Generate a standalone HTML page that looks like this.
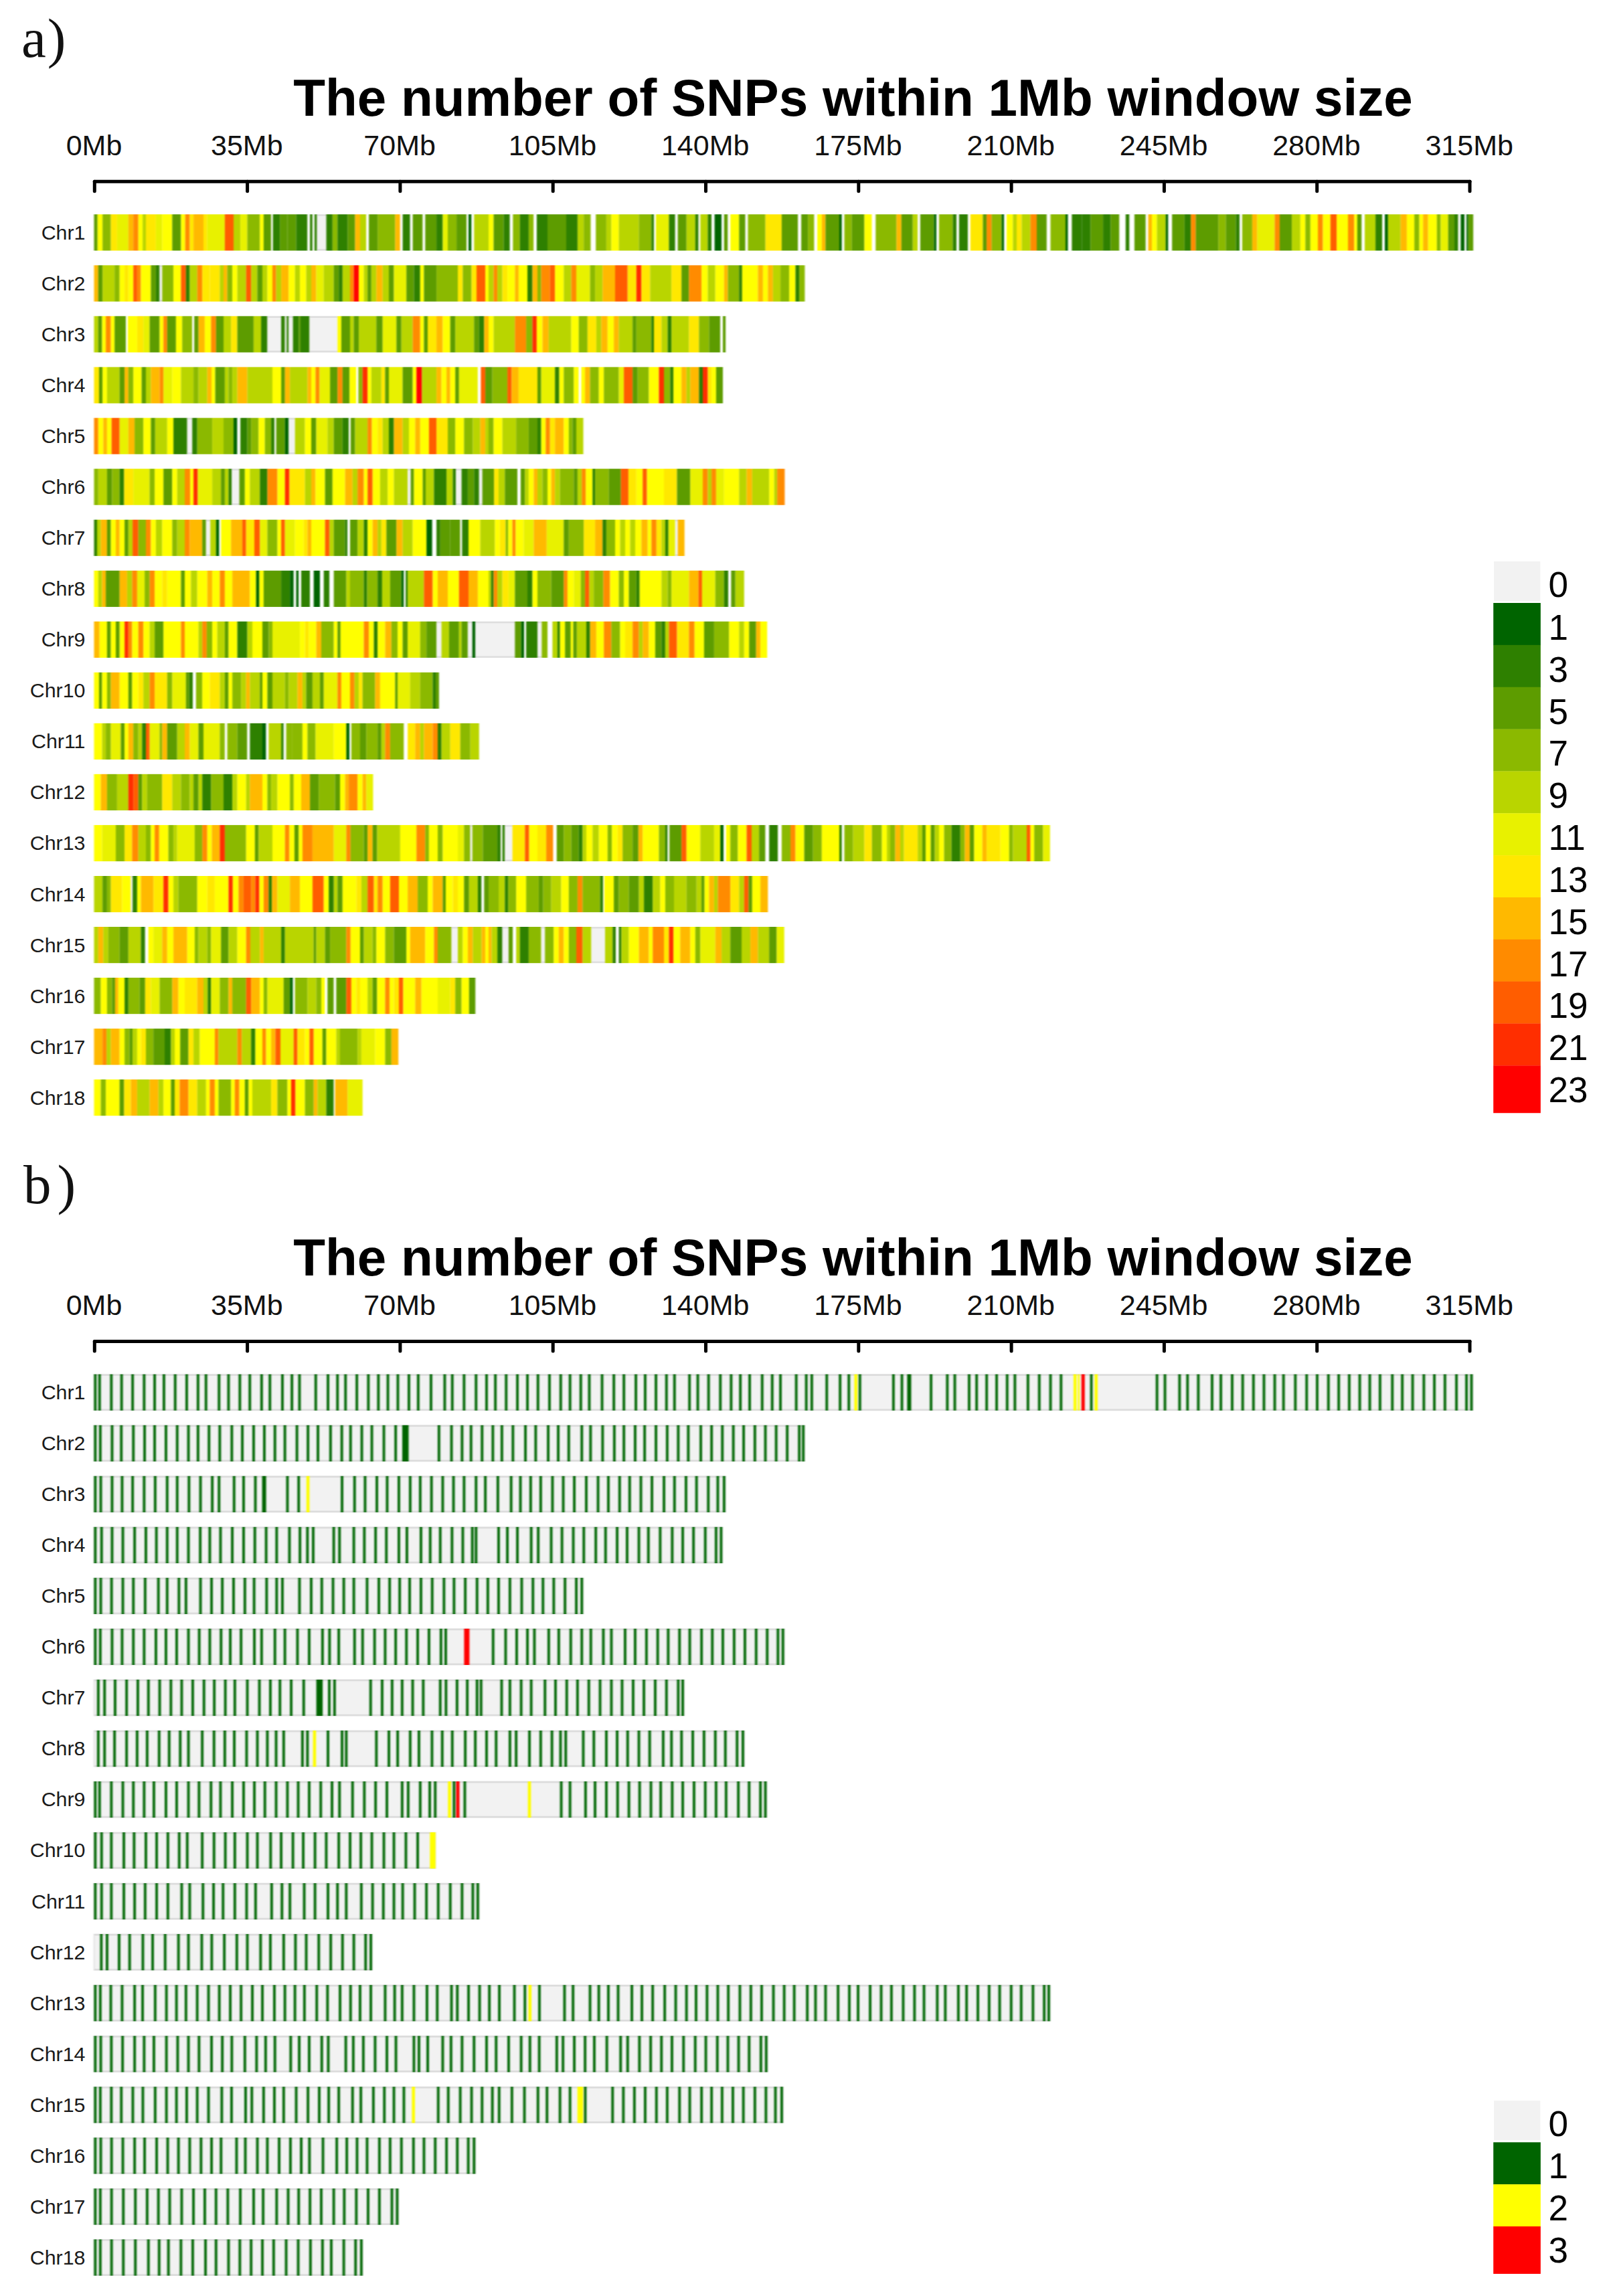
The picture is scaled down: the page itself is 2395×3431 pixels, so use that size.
<!DOCTYPE html>
<html><head><meta charset="utf-8"><title>SNP density</title>
<style>
html,body{margin:0;padding:0;background:#fff}
svg{display:block}
.t{font-family:"Liberation Sans",sans-serif;font-weight:bold;font-size:78.2px;text-anchor:middle;fill:#000}
.ax{font-family:"Liberation Sans",sans-serif;font-size:43px;text-anchor:middle;fill:#111}
.ch{font-family:"Liberation Sans",sans-serif;font-size:30.4px;text-anchor:end;fill:#1a1a1a}
.lg{font-family:"Liberation Sans",sans-serif;font-size:53px;fill:#000}
.pl{font-family:"Liberation Serif",serif;font-size:83px;fill:#111}
</style></head><body>
<svg width="2395" height="3431" viewBox="0 0 2395 3431">
<rect width="2395" height="3431" fill="#fff"/>
<defs><filter id="bl" x="-1%" y="-1%" width="102%" height="102%" color-interpolation-filters="sRGB"><feGaussianBlur stdDeviation="1.1 0.7"/></filter></defs>
<g transform="translate(0,0)">
<text class="pl" x="32" y="84.5" letter-spacing="2">a)</text>
<text class="t" x="1274.5" y="172.8">The number of SNPs within 1Mb window size</text>
<path d="M141.3 271.2H2196.045" stroke="#000" stroke-width="5" stroke-linecap="round" fill="none"/>
<path d="M141.3 271.2V285.8" stroke="#000" stroke-width="5" stroke-linecap="round" fill="none"/>
<text class="ax" x="140.5" y="231.5">0Mb</text>
<path d="M369.6 271.2V285.8" stroke="#000" stroke-width="5" stroke-linecap="round" fill="none"/>
<text class="ax" x="368.8" y="231.5">35Mb</text>
<path d="M597.9 271.2V285.8" stroke="#000" stroke-width="5" stroke-linecap="round" fill="none"/>
<text class="ax" x="597.1" y="231.5">70Mb</text>
<path d="M826.2 271.2V285.8" stroke="#000" stroke-width="5" stroke-linecap="round" fill="none"/>
<text class="ax" x="825.4" y="231.5">105Mb</text>
<path d="M1054.5 271.2V285.8" stroke="#000" stroke-width="5" stroke-linecap="round" fill="none"/>
<text class="ax" x="1053.7" y="231.5">140Mb</text>
<path d="M1282.8 271.2V285.8" stroke="#000" stroke-width="5" stroke-linecap="round" fill="none"/>
<text class="ax" x="1282.0" y="231.5">175Mb</text>
<path d="M1511.1 271.2V285.8" stroke="#000" stroke-width="5" stroke-linecap="round" fill="none"/>
<text class="ax" x="1510.3" y="231.5">210Mb</text>
<path d="M1739.4 271.2V285.8" stroke="#000" stroke-width="5" stroke-linecap="round" fill="none"/>
<text class="ax" x="1738.6" y="231.5">245Mb</text>
<path d="M1967.7 271.2V285.8" stroke="#000" stroke-width="5" stroke-linecap="round" fill="none"/>
<text class="ax" x="1966.9" y="231.5">280Mb</text>
<path d="M2196.0 271.2V285.8" stroke="#000" stroke-width="5" stroke-linecap="round" fill="none"/>
<text class="ax" x="2195.2" y="231.5">315Mb</text>
<text class="ch" x="127.5" y="357.8">Chr1</text>
<text class="ch" x="127.5" y="433.9">Chr2</text>
<text class="ch" x="127.5" y="509.9">Chr3</text>
<text class="ch" x="127.5" y="586.0">Chr4</text>
<text class="ch" x="127.5" y="662.0">Chr5</text>
<text class="ch" x="127.5" y="738.0">Chr6</text>
<text class="ch" x="127.5" y="814.1">Chr7</text>
<text class="ch" x="127.5" y="890.2">Chr8</text>
<text class="ch" x="127.5" y="966.2">Chr9</text>
<text class="ch" x="127.5" y="1042.2">Chr10</text>
<text class="ch" x="127.5" y="1118.3">Chr11</text>
<text class="ch" x="127.5" y="1194.3">Chr12</text>
<text class="ch" x="127.5" y="1270.4">Chr13</text>
<text class="ch" x="127.5" y="1346.5">Chr14</text>
<text class="ch" x="127.5" y="1422.5">Chr15</text>
<text class="ch" x="127.5" y="1498.5">Chr16</text>
<text class="ch" x="127.5" y="1574.6">Chr17</text>
<text class="ch" x="127.5" y="1650.6">Chr18</text>
<g filter="url(#bl)">
<rect x="140.5" y="320.3" width="5.2" height="54.2" fill="#5D9C00"/>
<rect x="145.7" y="320.3" width="7.5" height="54.2" fill="#FFFF00"/>
<rect x="153.2" y="320.3" width="12.4" height="54.2" fill="#8BB900"/>
<rect x="165.6" y="320.3" width="9.3" height="54.2" fill="#FFE800"/>
<rect x="174.9" y="320.3" width="16.9" height="54.2" fill="#E8F100"/>
<rect x="191.8" y="320.3" width="7.4" height="54.2" fill="#FFB900"/>
<rect x="199.2" y="320.3" width="7.5" height="54.2" fill="#FF8B00"/>
<rect x="206.7" y="320.3" width="6.4" height="54.2" fill="#FFFF00"/>
<rect x="213.1" y="320.3" width="4.9" height="54.2" fill="#B9D500"/>
<rect x="218.0" y="320.3" width="14.9" height="54.2" fill="#FFE800"/>
<rect x="232.9" y="320.3" width="9.4" height="54.2" fill="#E8F100"/>
<rect x="242.3" y="320.3" width="15.0" height="54.2" fill="#FFFF00"/>
<rect x="257.3" y="320.3" width="13.1" height="54.2" fill="#5D9C00"/>
<rect x="270.4" y="320.3" width="6.3" height="54.2" fill="#FFFF00"/>
<rect x="276.7" y="320.3" width="6.8" height="54.2" fill="#FF8B00"/>
<rect x="283.5" y="320.3" width="5.6" height="54.2" fill="#FFE800"/>
<rect x="289.1" y="320.3" width="14.9" height="54.2" fill="#FFB900"/>
<rect x="304.0" y="320.3" width="5.7" height="54.2" fill="#FFE800"/>
<rect x="309.7" y="320.3" width="26.2" height="54.2" fill="#E8F100"/>
<rect x="335.9" y="320.3" width="13.1" height="54.2" fill="#FF5D00"/>
<rect x="349.0" y="320.3" width="10.1" height="54.2" fill="#B9D500"/>
<rect x="359.1" y="320.3" width="10.4" height="54.2" fill="#E8F100"/>
<rect x="369.5" y="320.3" width="18.8" height="54.2" fill="#8BB900"/>
<rect x="388.3" y="320.3" width="5.6" height="54.2" fill="#FFFF00"/>
<rect x="393.9" y="320.3" width="11.2" height="54.2" fill="#5D9C00"/>
<rect x="405.1" y="320.3" width="2.6" height="54.2" fill="#FFFFFF"/>
<rect x="407.7" y="320.3" width="10.5" height="54.2" fill="#2E8000"/>
<rect x="418.2" y="320.3" width="11.2" height="54.2" fill="#5D9C00"/>
<rect x="429.4" y="320.3" width="13.1" height="54.2" fill="#5D9C00"/>
<rect x="442.5" y="320.3" width="16.9" height="54.2" fill="#2E8000"/>
<rect x="459.4" y="320.3" width="3.7" height="54.2" fill="#FFFFFF"/>
<rect x="463.1" y="320.3" width="3.8" height="54.2" fill="#2E8000"/>
<rect x="466.9" y="320.3" width="3.0" height="54.2" fill="#FFFFFF"/>
<rect x="469.9" y="320.3" width="3.7" height="54.2" fill="#2E8000"/>
<rect x="473.6" y="320.3" width="13.9" height="54.2" fill="#F2F2F2"/>
<rect x="473.6" y="320.3" width="13.9" height="2.6" fill="#dedede"/>
<rect x="473.6" y="371.9" width="13.9" height="2.6" fill="#dedede"/>
<rect x="487.5" y="320.3" width="9.3" height="54.2" fill="#2E8000"/>
<rect x="496.8" y="320.3" width="7.5" height="54.2" fill="#8BB900"/>
<rect x="504.3" y="320.3" width="15.0" height="54.2" fill="#2E8000"/>
<rect x="519.3" y="320.3" width="11.2" height="54.2" fill="#5D9C00"/>
<rect x="530.5" y="320.3" width="7.5" height="54.2" fill="#FFB900"/>
<rect x="538.0" y="320.3" width="9.3" height="54.2" fill="#B9D500"/>
<rect x="547.3" y="320.3" width="3.8" height="54.2" fill="#FFFFFF"/>
<rect x="551.1" y="320.3" width="13.1" height="54.2" fill="#5D9C00"/>
<rect x="564.2" y="320.3" width="26.2" height="54.2" fill="#8BB900"/>
<rect x="590.4" y="320.3" width="7.5" height="54.2" fill="#FFB900"/>
<rect x="597.9" y="320.3" width="3.7" height="54.2" fill="#FFFFFF"/>
<rect x="601.6" y="320.3" width="11.2" height="54.2" fill="#2E8000"/>
<rect x="612.8" y="320.3" width="3.8" height="54.2" fill="#FFFFFF"/>
<rect x="616.6" y="320.3" width="15.0" height="54.2" fill="#5D9C00"/>
<rect x="631.6" y="320.3" width="3.7" height="54.2" fill="#FFFFFF"/>
<rect x="635.3" y="320.3" width="16.8" height="54.2" fill="#5D9C00"/>
<rect x="652.1" y="320.3" width="9.4" height="54.2" fill="#2E8000"/>
<rect x="661.5" y="320.3" width="7.5" height="54.2" fill="#E8F100"/>
<rect x="669.0" y="320.3" width="13.1" height="54.2" fill="#8BB900"/>
<rect x="682.1" y="320.3" width="15.0" height="54.2" fill="#5D9C00"/>
<rect x="697.1" y="320.3" width="2.9" height="54.2" fill="#FFFFFF"/>
<rect x="700.0" y="320.3" width="4.5" height="54.2" fill="#006400"/>
<rect x="704.5" y="320.3" width="3.8" height="54.2" fill="#FFFFFF"/>
<rect x="708.3" y="320.3" width="21.7" height="54.2" fill="#B9D500"/>
<rect x="730.0" y="320.3" width="7.5" height="54.2" fill="#FFFF00"/>
<rect x="737.5" y="320.3" width="15.0" height="54.2" fill="#5D9C00"/>
<rect x="752.5" y="320.3" width="9.3" height="54.2" fill="#2E8000"/>
<rect x="761.8" y="320.3" width="4.5" height="54.2" fill="#FFFFFF"/>
<rect x="766.3" y="320.3" width="10.5" height="54.2" fill="#8BB900"/>
<rect x="776.8" y="320.3" width="13.1" height="54.2" fill="#2E8000"/>
<rect x="789.9" y="320.3" width="7.5" height="54.2" fill="#8BB900"/>
<rect x="797.4" y="320.3" width="4.5" height="54.2" fill="#FFFFFF"/>
<rect x="801.9" y="320.3" width="16.1" height="54.2" fill="#2E8000"/>
<rect x="818.0" y="320.3" width="28.0" height="54.2" fill="#5D9C00"/>
<rect x="846.0" y="320.3" width="16.9" height="54.2" fill="#2E8000"/>
<rect x="862.9" y="320.3" width="9.3" height="54.2" fill="#B9D500"/>
<rect x="872.2" y="320.3" width="10.5" height="54.2" fill="#8BB900"/>
<rect x="882.7" y="320.3" width="7.5" height="54.2" fill="#FFFFFF"/>
<rect x="890.2" y="320.3" width="15.7" height="54.2" fill="#8BB900"/>
<rect x="905.9" y="320.3" width="7.5" height="54.2" fill="#B9D500"/>
<rect x="913.4" y="320.3" width="11.2" height="54.2" fill="#FFFF00"/>
<rect x="924.6" y="320.3" width="30.0" height="54.2" fill="#B9D500"/>
<rect x="954.6" y="320.3" width="18.7" height="54.2" fill="#8BB900"/>
<rect x="973.3" y="320.3" width="3.7" height="54.2" fill="#2E8000"/>
<rect x="977.0" y="320.3" width="3.0" height="54.2" fill="#FFFFFF"/>
<rect x="980.0" y="320.3" width="19.5" height="54.2" fill="#E8F100"/>
<rect x="999.5" y="320.3" width="9.3" height="54.2" fill="#2E8000"/>
<rect x="1008.8" y="320.3" width="3.8" height="54.2" fill="#FFFFFF"/>
<rect x="1012.6" y="320.3" width="13.1" height="54.2" fill="#5D9C00"/>
<rect x="1025.7" y="320.3" width="13.1" height="54.2" fill="#B9D500"/>
<rect x="1038.8" y="320.3" width="4.9" height="54.2" fill="#2E8000"/>
<rect x="1043.7" y="320.3" width="2.6" height="54.2" fill="#FFFFFF"/>
<rect x="1046.3" y="320.3" width="11.2" height="54.2" fill="#B9D500"/>
<rect x="1057.5" y="320.3" width="5.6" height="54.2" fill="#2E8000"/>
<rect x="1063.1" y="320.3" width="4.5" height="54.2" fill="#FFFFFF"/>
<rect x="1067.6" y="320.3" width="10.5" height="54.2" fill="#006400"/>
<rect x="1078.1" y="320.3" width="3.7" height="54.2" fill="#FFFFFF"/>
<rect x="1081.8" y="320.3" width="5.7" height="54.2" fill="#5D9C00"/>
<rect x="1087.5" y="320.3" width="3.7" height="54.2" fill="#FFFFFF"/>
<rect x="1091.2" y="320.3" width="13.1" height="54.2" fill="#FFFF00"/>
<rect x="1104.3" y="320.3" width="9.4" height="54.2" fill="#5D9C00"/>
<rect x="1113.7" y="320.3" width="3.7" height="54.2" fill="#FFFFFF"/>
<rect x="1117.4" y="320.3" width="26.2" height="54.2" fill="#8BB900"/>
<rect x="1143.6" y="320.3" width="24.3" height="54.2" fill="#FFE800"/>
<rect x="1167.9" y="320.3" width="24.4" height="54.2" fill="#5D9C00"/>
<rect x="1192.3" y="320.3" width="4.8" height="54.2" fill="#FFFFFF"/>
<rect x="1197.1" y="320.3" width="10.1" height="54.2" fill="#5D9C00"/>
<rect x="1207.2" y="320.3" width="9.4" height="54.2" fill="#8BB900"/>
<rect x="1216.6" y="320.3" width="4.5" height="54.2" fill="#FFFFFF"/>
<rect x="1221.1" y="320.3" width="6.7" height="54.2" fill="#FFFF00"/>
<rect x="1227.8" y="320.3" width="5.6" height="54.2" fill="#FFB900"/>
<rect x="1233.4" y="320.3" width="20.6" height="54.2" fill="#5D9C00"/>
<rect x="1254.0" y="320.3" width="3.8" height="54.2" fill="#006400"/>
<rect x="1257.8" y="320.3" width="3.7" height="54.2" fill="#FFFFFF"/>
<rect x="1261.5" y="320.3" width="11.2" height="54.2" fill="#8BB900"/>
<rect x="1272.7" y="320.3" width="18.7" height="54.2" fill="#5D9C00"/>
<rect x="1291.4" y="320.3" width="11.3" height="54.2" fill="#FFFF00"/>
<rect x="1302.7" y="320.3" width="5.6" height="54.2" fill="#FFFFFF"/>
<rect x="1308.3" y="320.3" width="21.7" height="54.2" fill="#8BB900"/>
<rect x="1330.0" y="320.3" width="9.4" height="54.2" fill="#8BB900"/>
<rect x="1339.4" y="320.3" width="7.4" height="54.2" fill="#FFB900"/>
<rect x="1346.8" y="320.3" width="16.9" height="54.2" fill="#5D9C00"/>
<rect x="1363.7" y="320.3" width="7.5" height="54.2" fill="#B9D500"/>
<rect x="1371.2" y="320.3" width="3.7" height="54.2" fill="#FFFFFF"/>
<rect x="1374.9" y="320.3" width="20.6" height="54.2" fill="#5D9C00"/>
<rect x="1395.5" y="320.3" width="3.7" height="54.2" fill="#006400"/>
<rect x="1399.2" y="320.3" width="3.8" height="54.2" fill="#FFFFFF"/>
<rect x="1403.0" y="320.3" width="20.6" height="54.2" fill="#8BB900"/>
<rect x="1423.6" y="320.3" width="5.6" height="54.2" fill="#2E8000"/>
<rect x="1429.2" y="320.3" width="3.7" height="54.2" fill="#FFFFFF"/>
<rect x="1432.9" y="320.3" width="13.1" height="54.2" fill="#2E8000"/>
<rect x="1446.0" y="320.3" width="3.8" height="54.2" fill="#FFFFFF"/>
<rect x="1449.8" y="320.3" width="18.7" height="54.2" fill="#FFE800"/>
<rect x="1468.5" y="320.3" width="5.6" height="54.2" fill="#5D9C00"/>
<rect x="1474.1" y="320.3" width="7.5" height="54.2" fill="#FF8B00"/>
<rect x="1481.6" y="320.3" width="15.0" height="54.2" fill="#8BB900"/>
<rect x="1496.6" y="320.3" width="3.7" height="54.2" fill="#006400"/>
<rect x="1500.3" y="320.3" width="3.7" height="54.2" fill="#FFFFFF"/>
<rect x="1504.0" y="320.3" width="9.4" height="54.2" fill="#FFFF00"/>
<rect x="1513.4" y="320.3" width="5.6" height="54.2" fill="#B9D500"/>
<rect x="1519.0" y="320.3" width="7.5" height="54.2" fill="#FFE800"/>
<rect x="1526.5" y="320.3" width="13.1" height="54.2" fill="#B9D500"/>
<rect x="1539.6" y="320.3" width="9.4" height="54.2" fill="#FF8B00"/>
<rect x="1549.0" y="320.3" width="14.9" height="54.2" fill="#5D9C00"/>
<rect x="1563.9" y="320.3" width="5.6" height="54.2" fill="#FFFFFF"/>
<rect x="1569.5" y="320.3" width="22.5" height="54.2" fill="#8BB900"/>
<rect x="1592.0" y="320.3" width="3.7" height="54.2" fill="#006400"/>
<rect x="1595.7" y="320.3" width="5.7" height="54.2" fill="#FFFFFF"/>
<rect x="1601.4" y="320.3" width="14.9" height="54.2" fill="#2E8000"/>
<rect x="1616.3" y="320.3" width="13.1" height="54.2" fill="#2E8000"/>
<rect x="1629.4" y="320.3" width="18.7" height="54.2" fill="#5D9C00"/>
<rect x="1648.1" y="320.3" width="11.3" height="54.2" fill="#2E8000"/>
<rect x="1659.4" y="320.3" width="13.1" height="54.2" fill="#5D9C00"/>
<rect x="1672.5" y="320.3" width="9.3" height="54.2" fill="#FFFFFF"/>
<rect x="1681.8" y="320.3" width="5.7" height="54.2" fill="#2E8000"/>
<rect x="1687.5" y="320.3" width="7.4" height="54.2" fill="#FFFFFF"/>
<rect x="1694.9" y="320.3" width="16.9" height="54.2" fill="#5D9C00"/>
<rect x="1711.8" y="320.3" width="3.7" height="54.2" fill="#FFFFFF"/>
<rect x="1715.5" y="320.3" width="5.6" height="54.2" fill="#FFB900"/>
<rect x="1721.1" y="320.3" width="7.5" height="54.2" fill="#FFFF00"/>
<rect x="1728.6" y="320.3" width="13.1" height="54.2" fill="#B9D500"/>
<rect x="1741.7" y="320.3" width="3.8" height="54.2" fill="#006400"/>
<rect x="1745.5" y="320.3" width="5.6" height="54.2" fill="#FFFFFF"/>
<rect x="1751.1" y="320.3" width="18.7" height="54.2" fill="#5D9C00"/>
<rect x="1769.8" y="320.3" width="9.4" height="54.2" fill="#2E8000"/>
<rect x="1779.2" y="320.3" width="7.4" height="54.2" fill="#FF8B00"/>
<rect x="1786.6" y="320.3" width="33.7" height="54.2" fill="#5D9C00"/>
<rect x="1820.3" y="320.3" width="11.3" height="54.2" fill="#8BB900"/>
<rect x="1831.6" y="320.3" width="14.9" height="54.2" fill="#5D9C00"/>
<rect x="1846.5" y="320.3" width="5.6" height="54.2" fill="#2E8000"/>
<rect x="1852.1" y="320.3" width="3.8" height="54.2" fill="#FFFFFF"/>
<rect x="1855.9" y="320.3" width="15.0" height="54.2" fill="#8BB900"/>
<rect x="1870.9" y="320.3" width="7.4" height="54.2" fill="#FFB900"/>
<rect x="1878.3" y="320.3" width="26.2" height="54.2" fill="#E8F100"/>
<rect x="1904.5" y="320.3" width="7.5" height="54.2" fill="#FF8B00"/>
<rect x="1912.0" y="320.3" width="18.0" height="54.2" fill="#5D9C00"/>
<rect x="1930.1" y="320.3" width="12.7" height="54.2" fill="#B9D500"/>
<rect x="1942.8" y="320.3" width="7.5" height="54.2" fill="#FFFF00"/>
<rect x="1950.3" y="320.3" width="7.5" height="54.2" fill="#8BB900"/>
<rect x="1957.8" y="320.3" width="11.2" height="54.2" fill="#FFFF00"/>
<rect x="1969.0" y="320.3" width="7.5" height="54.2" fill="#FF8B00"/>
<rect x="1976.5" y="320.3" width="11.3" height="54.2" fill="#FFFF00"/>
<rect x="1987.8" y="320.3" width="9.3" height="54.2" fill="#FF5D00"/>
<rect x="1997.1" y="320.3" width="16.9" height="54.2" fill="#FFFF00"/>
<rect x="2014.0" y="320.3" width="9.3" height="54.2" fill="#FF8B00"/>
<rect x="2023.3" y="320.3" width="4.5" height="54.2" fill="#FFFF00"/>
<rect x="2027.8" y="320.3" width="6.7" height="54.2" fill="#5D9C00"/>
<rect x="2034.5" y="320.3" width="4.5" height="54.2" fill="#FFFFFF"/>
<rect x="2039.0" y="320.3" width="16.1" height="54.2" fill="#B9D500"/>
<rect x="2055.1" y="320.3" width="10.1" height="54.2" fill="#2E8000"/>
<rect x="2065.2" y="320.3" width="3.8" height="54.2" fill="#FFFFFF"/>
<rect x="2069.0" y="320.3" width="4.8" height="54.2" fill="#006400"/>
<rect x="2073.8" y="320.3" width="18.8" height="54.2" fill="#B9D500"/>
<rect x="2092.6" y="320.3" width="9.3" height="54.2" fill="#FFB900"/>
<rect x="2101.9" y="320.3" width="11.2" height="54.2" fill="#FFFF00"/>
<rect x="2113.1" y="320.3" width="7.5" height="54.2" fill="#8BB900"/>
<rect x="2120.6" y="320.3" width="5.6" height="54.2" fill="#FFFF00"/>
<rect x="2126.2" y="320.3" width="7.5" height="54.2" fill="#FFB900"/>
<rect x="2133.7" y="320.3" width="13.1" height="54.2" fill="#FFFF00"/>
<rect x="2146.8" y="320.3" width="5.7" height="54.2" fill="#8BB900"/>
<rect x="2152.5" y="320.3" width="11.2" height="54.2" fill="#E8F100"/>
<rect x="2163.7" y="320.3" width="9.3" height="54.2" fill="#5D9C00"/>
<rect x="2173.0" y="320.3" width="5.7" height="54.2" fill="#2E8000"/>
<rect x="2178.7" y="320.3" width="3.7" height="54.2" fill="#FFFFFF"/>
<rect x="2182.4" y="320.3" width="5.6" height="54.2" fill="#006400"/>
<rect x="2188.0" y="320.3" width="3.0" height="54.2" fill="#FFFFFF"/>
<rect x="2191.0" y="320.3" width="2.6" height="54.2" fill="#006400"/>
<rect x="2193.6" y="320.3" width="7.5" height="54.2" fill="#5D9C00"/>
<rect x="140.5" y="396.4" width="6.3" height="54.2" fill="#FFB900"/>
<rect x="146.8" y="396.4" width="6.4" height="54.2" fill="#5D9C00"/>
<rect x="153.2" y="396.4" width="18.0" height="54.2" fill="#B9D500"/>
<rect x="171.2" y="396.4" width="7.5" height="54.2" fill="#8BB900"/>
<rect x="178.7" y="396.4" width="7.4" height="54.2" fill="#FFFF00"/>
<rect x="186.1" y="396.4" width="5.7" height="54.2" fill="#FFE800"/>
<rect x="191.8" y="396.4" width="7.4" height="54.2" fill="#FFFF00"/>
<rect x="199.2" y="396.4" width="5.7" height="54.2" fill="#FF5D00"/>
<rect x="204.9" y="396.4" width="5.6" height="54.2" fill="#FF8B00"/>
<rect x="210.5" y="396.4" width="14.9" height="54.2" fill="#FFFF00"/>
<rect x="225.4" y="396.4" width="7.5" height="54.2" fill="#5D9C00"/>
<rect x="232.9" y="396.4" width="5.6" height="54.2" fill="#2E8000"/>
<rect x="238.5" y="396.4" width="3.8" height="54.2" fill="#F2F2F2"/>
<rect x="238.5" y="396.4" width="3.8" height="2.6" fill="#dedede"/>
<rect x="238.5" y="447.9" width="3.8" height="2.6" fill="#dedede"/>
<rect x="242.3" y="396.4" width="16.8" height="54.2" fill="#8BB900"/>
<rect x="259.1" y="396.4" width="11.3" height="54.2" fill="#FFFF00"/>
<rect x="270.4" y="396.4" width="7.4" height="54.2" fill="#FF5D00"/>
<rect x="277.8" y="396.4" width="5.7" height="54.2" fill="#2E8000"/>
<rect x="283.5" y="396.4" width="11.2" height="54.2" fill="#B9D500"/>
<rect x="294.7" y="396.4" width="7.5" height="54.2" fill="#FF8B00"/>
<rect x="302.2" y="396.4" width="11.2" height="54.2" fill="#FFE800"/>
<rect x="313.4" y="396.4" width="15.0" height="54.2" fill="#FFE800"/>
<rect x="328.4" y="396.4" width="5.6" height="54.2" fill="#B9D500"/>
<rect x="334.0" y="396.4" width="5.6" height="54.2" fill="#FFB900"/>
<rect x="339.6" y="396.4" width="7.5" height="54.2" fill="#8BB900"/>
<rect x="347.1" y="396.4" width="7.5" height="54.2" fill="#FFFF00"/>
<rect x="354.6" y="396.4" width="13.1" height="54.2" fill="#B9D500"/>
<rect x="367.7" y="396.4" width="7.5" height="54.2" fill="#FF5D00"/>
<rect x="375.2" y="396.4" width="9.3" height="54.2" fill="#B9D500"/>
<rect x="384.5" y="396.4" width="7.5" height="54.2" fill="#5D9C00"/>
<rect x="392.0" y="396.4" width="7.5" height="54.2" fill="#B9D500"/>
<rect x="399.5" y="396.4" width="7.5" height="54.2" fill="#FFFF00"/>
<rect x="407.0" y="396.4" width="5.6" height="54.2" fill="#FF8B00"/>
<rect x="412.6" y="396.4" width="7.5" height="54.2" fill="#B9D500"/>
<rect x="420.1" y="396.4" width="11.2" height="54.2" fill="#FFB900"/>
<rect x="431.3" y="396.4" width="9.4" height="54.2" fill="#FFFF00"/>
<rect x="440.7" y="396.4" width="7.4" height="54.2" fill="#B9D500"/>
<rect x="448.1" y="396.4" width="9.4" height="54.2" fill="#FFFF00"/>
<rect x="457.5" y="396.4" width="7.5" height="54.2" fill="#B9D500"/>
<rect x="465.0" y="396.4" width="7.5" height="54.2" fill="#FFB900"/>
<rect x="472.5" y="396.4" width="11.2" height="54.2" fill="#E8F100"/>
<rect x="483.7" y="396.4" width="15.0" height="54.2" fill="#B9D500"/>
<rect x="498.7" y="396.4" width="7.5" height="54.2" fill="#5D9C00"/>
<rect x="506.2" y="396.4" width="5.6" height="54.2" fill="#2E8000"/>
<rect x="511.8" y="396.4" width="11.2" height="54.2" fill="#B9D500"/>
<rect x="523.0" y="396.4" width="5.6" height="54.2" fill="#FF8B00"/>
<rect x="528.6" y="396.4" width="7.5" height="54.2" fill="#FF0000"/>
<rect x="536.1" y="396.4" width="7.5" height="54.2" fill="#FFFF00"/>
<rect x="543.6" y="396.4" width="5.6" height="54.2" fill="#B9D500"/>
<rect x="549.2" y="396.4" width="5.6" height="54.2" fill="#5D9C00"/>
<rect x="554.8" y="396.4" width="7.5" height="54.2" fill="#B9D500"/>
<rect x="562.3" y="396.4" width="9.4" height="54.2" fill="#FFB900"/>
<rect x="571.7" y="396.4" width="9.3" height="54.2" fill="#B9D500"/>
<rect x="581.0" y="396.4" width="7.5" height="54.2" fill="#5D9C00"/>
<rect x="588.5" y="396.4" width="18.7" height="54.2" fill="#E8F100"/>
<rect x="607.2" y="396.4" width="11.3" height="54.2" fill="#5D9C00"/>
<rect x="618.5" y="396.4" width="9.3" height="54.2" fill="#2E8000"/>
<rect x="627.8" y="396.4" width="5.6" height="54.2" fill="#FFFF00"/>
<rect x="633.4" y="396.4" width="18.7" height="54.2" fill="#5D9C00"/>
<rect x="652.1" y="396.4" width="16.9" height="54.2" fill="#8BB900"/>
<rect x="669.0" y="396.4" width="15.0" height="54.2" fill="#8BB900"/>
<rect x="684.0" y="396.4" width="7.4" height="54.2" fill="#FFE800"/>
<rect x="691.4" y="396.4" width="13.1" height="54.2" fill="#8BB900"/>
<rect x="704.5" y="396.4" width="7.5" height="54.2" fill="#FFE800"/>
<rect x="712.0" y="396.4" width="13.1" height="54.2" fill="#FF5D00"/>
<rect x="725.1" y="396.4" width="4.9" height="54.2" fill="#FFFF00"/>
<rect x="730.0" y="396.4" width="7.5" height="54.2" fill="#B9D500"/>
<rect x="737.5" y="396.4" width="5.6" height="54.2" fill="#FF8B00"/>
<rect x="743.1" y="396.4" width="7.5" height="54.2" fill="#B9D500"/>
<rect x="750.6" y="396.4" width="7.5" height="54.2" fill="#FFE800"/>
<rect x="758.1" y="396.4" width="11.2" height="54.2" fill="#FFFF00"/>
<rect x="769.3" y="396.4" width="5.6" height="54.2" fill="#FFB900"/>
<rect x="774.9" y="396.4" width="13.1" height="54.2" fill="#FFFF00"/>
<rect x="788.0" y="396.4" width="7.5" height="54.2" fill="#2E8000"/>
<rect x="795.5" y="396.4" width="7.5" height="54.2" fill="#FFB900"/>
<rect x="803.0" y="396.4" width="5.6" height="54.2" fill="#8BB900"/>
<rect x="808.6" y="396.4" width="13.1" height="54.2" fill="#FF8B00"/>
<rect x="821.7" y="396.4" width="7.5" height="54.2" fill="#FF5D00"/>
<rect x="829.2" y="396.4" width="13.1" height="54.2" fill="#FFFF00"/>
<rect x="842.3" y="396.4" width="11.2" height="54.2" fill="#B9D500"/>
<rect x="853.5" y="396.4" width="7.5" height="54.2" fill="#FF8B00"/>
<rect x="861.0" y="396.4" width="20.6" height="54.2" fill="#E8F100"/>
<rect x="881.6" y="396.4" width="7.5" height="54.2" fill="#8BB900"/>
<rect x="889.1" y="396.4" width="11.2" height="54.2" fill="#B9D500"/>
<rect x="900.3" y="396.4" width="18.7" height="54.2" fill="#FFB900"/>
<rect x="919.0" y="396.4" width="18.7" height="54.2" fill="#FF5D00"/>
<rect x="937.7" y="396.4" width="13.1" height="54.2" fill="#FFE800"/>
<rect x="950.8" y="396.4" width="7.5" height="54.2" fill="#FF2E00"/>
<rect x="958.3" y="396.4" width="13.1" height="54.2" fill="#FFE800"/>
<rect x="971.4" y="396.4" width="31.8" height="54.2" fill="#B9D500"/>
<rect x="1003.2" y="396.4" width="15.0" height="54.2" fill="#FFE800"/>
<rect x="1018.2" y="396.4" width="11.2" height="54.2" fill="#5D9C00"/>
<rect x="1029.4" y="396.4" width="18.7" height="54.2" fill="#FF8B00"/>
<rect x="1048.1" y="396.4" width="9.4" height="54.2" fill="#FFFF00"/>
<rect x="1057.5" y="396.4" width="11.2" height="54.2" fill="#B9D500"/>
<rect x="1068.7" y="396.4" width="13.1" height="54.2" fill="#FFFF00"/>
<rect x="1081.8" y="396.4" width="5.7" height="54.2" fill="#FFB900"/>
<rect x="1087.5" y="396.4" width="16.8" height="54.2" fill="#8BB900"/>
<rect x="1104.3" y="396.4" width="4.5" height="54.2" fill="#2E8000"/>
<rect x="1108.8" y="396.4" width="23.6" height="54.2" fill="#FFFF00"/>
<rect x="1132.4" y="396.4" width="7.5" height="54.2" fill="#FFB900"/>
<rect x="1139.9" y="396.4" width="7.4" height="54.2" fill="#FFFF00"/>
<rect x="1147.3" y="396.4" width="7.5" height="54.2" fill="#FFB900"/>
<rect x="1154.8" y="396.4" width="11.3" height="54.2" fill="#B9D500"/>
<rect x="1166.1" y="396.4" width="13.1" height="54.2" fill="#8BB900"/>
<rect x="1179.2" y="396.4" width="9.3" height="54.2" fill="#FFFF00"/>
<rect x="1188.5" y="396.4" width="5.6" height="54.2" fill="#2E8000"/>
<rect x="1194.1" y="396.4" width="8.3" height="54.2" fill="#8BB900"/>
<rect x="140.5" y="472.4" width="6.3" height="54.2" fill="#B9D500"/>
<rect x="146.8" y="472.4" width="5.7" height="54.2" fill="#5D9C00"/>
<rect x="152.5" y="472.4" width="5.6" height="54.2" fill="#FFFF00"/>
<rect x="158.1" y="472.4" width="7.5" height="54.2" fill="#FF8B00"/>
<rect x="165.6" y="472.4" width="5.6" height="54.2" fill="#FFFF00"/>
<rect x="171.2" y="472.4" width="16.8" height="54.2" fill="#5D9C00"/>
<rect x="188.0" y="472.4" width="3.0" height="54.2" fill="#FFFFFF"/>
<rect x="191.0" y="472.4" width="13.9" height="54.2" fill="#FFFF00"/>
<rect x="204.9" y="472.4" width="9.3" height="54.2" fill="#FFE800"/>
<rect x="214.2" y="472.4" width="9.4" height="54.2" fill="#E8F100"/>
<rect x="223.6" y="472.4" width="14.9" height="54.2" fill="#5D9C00"/>
<rect x="238.5" y="472.4" width="5.7" height="54.2" fill="#FFFF00"/>
<rect x="244.2" y="472.4" width="5.6" height="54.2" fill="#FF8B00"/>
<rect x="249.8" y="472.4" width="13.1" height="54.2" fill="#5D9C00"/>
<rect x="262.9" y="472.4" width="9.3" height="54.2" fill="#FFFF00"/>
<rect x="272.2" y="472.4" width="15.0" height="54.2" fill="#8BB900"/>
<rect x="287.2" y="472.4" width="3.0" height="54.2" fill="#FFFFFF"/>
<rect x="290.2" y="472.4" width="6.4" height="54.2" fill="#5D9C00"/>
<rect x="296.6" y="472.4" width="9.3" height="54.2" fill="#FFB900"/>
<rect x="305.9" y="472.4" width="9.4" height="54.2" fill="#FFFF00"/>
<rect x="315.3" y="472.4" width="7.5" height="54.2" fill="#FF8B00"/>
<rect x="322.8" y="472.4" width="11.2" height="54.2" fill="#5D9C00"/>
<rect x="334.0" y="472.4" width="11.2" height="54.2" fill="#B9D500"/>
<rect x="345.2" y="472.4" width="9.4" height="54.2" fill="#FFE800"/>
<rect x="354.6" y="472.4" width="24.3" height="54.2" fill="#5D9C00"/>
<rect x="378.9" y="472.4" width="11.2" height="54.2" fill="#B9D500"/>
<rect x="390.1" y="472.4" width="9.4" height="54.2" fill="#2E8000"/>
<rect x="399.5" y="472.4" width="20.6" height="54.2" fill="#F2F2F2"/>
<rect x="399.5" y="472.4" width="20.6" height="2.6" fill="#dedede"/>
<rect x="399.5" y="524.0" width="20.6" height="2.6" fill="#dedede"/>
<rect x="420.1" y="472.4" width="5.6" height="54.2" fill="#2E8000"/>
<rect x="425.7" y="472.4" width="2.6" height="54.2" fill="#F2F2F2"/>
<rect x="425.7" y="472.4" width="2.6" height="2.6" fill="#dedede"/>
<rect x="425.7" y="524.0" width="2.6" height="2.6" fill="#dedede"/>
<rect x="428.3" y="472.4" width="3.0" height="54.2" fill="#2E8000"/>
<rect x="431.3" y="472.4" width="6.4" height="54.2" fill="#F2F2F2"/>
<rect x="431.3" y="472.4" width="6.4" height="2.6" fill="#dedede"/>
<rect x="431.3" y="524.0" width="6.4" height="2.6" fill="#dedede"/>
<rect x="437.7" y="472.4" width="8.6" height="54.2" fill="#2E8000"/>
<rect x="446.3" y="472.4" width="2.6" height="54.2" fill="#5D9C00"/>
<rect x="448.9" y="472.4" width="13.5" height="54.2" fill="#2E8000"/>
<rect x="462.4" y="472.4" width="41.9" height="54.2" fill="#F2F2F2"/>
<rect x="462.4" y="472.4" width="41.9" height="2.6" fill="#dedede"/>
<rect x="462.4" y="524.0" width="41.9" height="2.6" fill="#dedede"/>
<rect x="504.3" y="472.4" width="5.6" height="54.2" fill="#FFFF00"/>
<rect x="509.9" y="472.4" width="13.1" height="54.2" fill="#5D9C00"/>
<rect x="523.0" y="472.4" width="5.6" height="54.2" fill="#B9D500"/>
<rect x="528.6" y="472.4" width="7.5" height="54.2" fill="#5D9C00"/>
<rect x="536.1" y="472.4" width="26.2" height="54.2" fill="#B9D500"/>
<rect x="562.3" y="472.4" width="9.4" height="54.2" fill="#5D9C00"/>
<rect x="571.7" y="472.4" width="20.6" height="54.2" fill="#E8F100"/>
<rect x="592.3" y="472.4" width="7.4" height="54.2" fill="#5D9C00"/>
<rect x="599.7" y="472.4" width="16.9" height="54.2" fill="#B9D500"/>
<rect x="616.6" y="472.4" width="11.2" height="54.2" fill="#FF8B00"/>
<rect x="627.8" y="472.4" width="5.6" height="54.2" fill="#FFFF00"/>
<rect x="633.4" y="472.4" width="5.6" height="54.2" fill="#5D9C00"/>
<rect x="639.0" y="472.4" width="13.1" height="54.2" fill="#FFE800"/>
<rect x="652.1" y="472.4" width="9.4" height="54.2" fill="#FFB900"/>
<rect x="661.5" y="472.4" width="11.2" height="54.2" fill="#FFFF00"/>
<rect x="672.7" y="472.4" width="7.5" height="54.2" fill="#5D9C00"/>
<rect x="680.2" y="472.4" width="28.1" height="54.2" fill="#B9D500"/>
<rect x="708.3" y="472.4" width="7.5" height="54.2" fill="#5D9C00"/>
<rect x="715.8" y="472.4" width="7.5" height="54.2" fill="#2E8000"/>
<rect x="723.3" y="472.4" width="6.7" height="54.2" fill="#FFB900"/>
<rect x="730.0" y="472.4" width="7.5" height="54.2" fill="#FFFF00"/>
<rect x="737.5" y="472.4" width="31.8" height="54.2" fill="#B9D500"/>
<rect x="769.3" y="472.4" width="16.8" height="54.2" fill="#FF8B00"/>
<rect x="786.1" y="472.4" width="9.4" height="54.2" fill="#8BB900"/>
<rect x="795.5" y="472.4" width="6.4" height="54.2" fill="#FF2E00"/>
<rect x="801.9" y="472.4" width="8.6" height="54.2" fill="#FFFF00"/>
<rect x="810.5" y="472.4" width="9.3" height="54.2" fill="#FFB900"/>
<rect x="819.8" y="472.4" width="33.7" height="54.2" fill="#B9D500"/>
<rect x="853.5" y="472.4" width="11.2" height="54.2" fill="#FFFF00"/>
<rect x="864.7" y="472.4" width="13.1" height="54.2" fill="#8BB900"/>
<rect x="877.8" y="472.4" width="13.1" height="54.2" fill="#FFE800"/>
<rect x="890.9" y="472.4" width="7.5" height="54.2" fill="#B9D500"/>
<rect x="898.4" y="472.4" width="9.4" height="54.2" fill="#FFB900"/>
<rect x="907.8" y="472.4" width="9.3" height="54.2" fill="#FFFF00"/>
<rect x="917.1" y="472.4" width="7.5" height="54.2" fill="#FFB900"/>
<rect x="924.6" y="472.4" width="20.6" height="54.2" fill="#B9D500"/>
<rect x="945.2" y="472.4" width="5.6" height="54.2" fill="#5D9C00"/>
<rect x="950.8" y="472.4" width="22.5" height="54.2" fill="#8BB900"/>
<rect x="973.3" y="472.4" width="3.7" height="54.2" fill="#2E8000"/>
<rect x="977.0" y="472.4" width="11.3" height="54.2" fill="#FFE800"/>
<rect x="988.3" y="472.4" width="9.3" height="54.2" fill="#B9D500"/>
<rect x="997.6" y="472.4" width="5.6" height="54.2" fill="#2E8000"/>
<rect x="1003.2" y="472.4" width="26.2" height="54.2" fill="#B9D500"/>
<rect x="1029.4" y="472.4" width="15.0" height="54.2" fill="#FFE800"/>
<rect x="1044.4" y="472.4" width="15.0" height="54.2" fill="#8BB900"/>
<rect x="1059.4" y="472.4" width="16.8" height="54.2" fill="#5D9C00"/>
<rect x="1076.2" y="472.4" width="3.8" height="54.2" fill="#FFFFFF"/>
<rect x="1080.0" y="472.4" width="4.1" height="54.2" fill="#5D9C00"/>
<rect x="140.5" y="548.5" width="7.5" height="54.2" fill="#FFE800"/>
<rect x="148.0" y="548.5" width="5.2" height="54.2" fill="#5D9C00"/>
<rect x="153.2" y="548.5" width="6.7" height="54.2" fill="#FFFF00"/>
<rect x="159.9" y="548.5" width="18.8" height="54.2" fill="#B9D500"/>
<rect x="178.7" y="548.5" width="7.4" height="54.2" fill="#5D9C00"/>
<rect x="186.1" y="548.5" width="5.7" height="54.2" fill="#FFB900"/>
<rect x="191.8" y="548.5" width="7.4" height="54.2" fill="#8BB900"/>
<rect x="199.2" y="548.5" width="12.4" height="54.2" fill="#FFFF00"/>
<rect x="211.6" y="548.5" width="6.4" height="54.2" fill="#5D9C00"/>
<rect x="218.0" y="548.5" width="7.4" height="54.2" fill="#B9D500"/>
<rect x="225.4" y="548.5" width="13.1" height="54.2" fill="#FFB900"/>
<rect x="238.5" y="548.5" width="5.7" height="54.2" fill="#FF8B00"/>
<rect x="244.2" y="548.5" width="13.1" height="54.2" fill="#E8F100"/>
<rect x="257.3" y="548.5" width="13.1" height="54.2" fill="#FFFF00"/>
<rect x="270.4" y="548.5" width="18.7" height="54.2" fill="#B9D500"/>
<rect x="289.1" y="548.5" width="7.5" height="54.2" fill="#8BB900"/>
<rect x="296.6" y="548.5" width="13.1" height="54.2" fill="#B9D500"/>
<rect x="309.7" y="548.5" width="6.3" height="54.2" fill="#FFB900"/>
<rect x="316.0" y="548.5" width="5.6" height="54.2" fill="#FFFF00"/>
<rect x="321.6" y="548.5" width="14.3" height="54.2" fill="#5D9C00"/>
<rect x="335.9" y="548.5" width="5.6" height="54.2" fill="#B9D500"/>
<rect x="341.5" y="548.5" width="5.6" height="54.2" fill="#8BB900"/>
<rect x="347.1" y="548.5" width="7.5" height="54.2" fill="#B9D500"/>
<rect x="354.6" y="548.5" width="14.9" height="54.2" fill="#FFB900"/>
<rect x="369.5" y="548.5" width="37.5" height="54.2" fill="#B9D500"/>
<rect x="407.0" y="548.5" width="13.1" height="54.2" fill="#FFFF00"/>
<rect x="420.1" y="548.5" width="5.6" height="54.2" fill="#5D9C00"/>
<rect x="425.7" y="548.5" width="7.5" height="54.2" fill="#FFB900"/>
<rect x="433.2" y="548.5" width="26.2" height="54.2" fill="#B9D500"/>
<rect x="459.4" y="548.5" width="5.6" height="54.2" fill="#FFB900"/>
<rect x="465.0" y="548.5" width="6.4" height="54.2" fill="#FFFF00"/>
<rect x="471.4" y="548.5" width="5.9" height="54.2" fill="#FF8B00"/>
<rect x="477.3" y="548.5" width="15.8" height="54.2" fill="#E8F100"/>
<rect x="493.1" y="548.5" width="11.2" height="54.2" fill="#5D9C00"/>
<rect x="504.3" y="548.5" width="7.5" height="54.2" fill="#FF8B00"/>
<rect x="511.8" y="548.5" width="10.5" height="54.2" fill="#5D9C00"/>
<rect x="522.3" y="548.5" width="10.1" height="54.2" fill="#FFFF00"/>
<rect x="532.4" y="548.5" width="3.0" height="54.2" fill="#FFFFFF"/>
<rect x="535.4" y="548.5" width="6.3" height="54.2" fill="#8BB900"/>
<rect x="541.7" y="548.5" width="7.5" height="54.2" fill="#FF2E00"/>
<rect x="549.2" y="548.5" width="5.6" height="54.2" fill="#FFFF00"/>
<rect x="554.8" y="548.5" width="15.0" height="54.2" fill="#B9D500"/>
<rect x="569.8" y="548.5" width="5.6" height="54.2" fill="#FFE800"/>
<rect x="575.4" y="548.5" width="5.6" height="54.2" fill="#5D9C00"/>
<rect x="581.0" y="548.5" width="20.6" height="54.2" fill="#E8F100"/>
<rect x="601.6" y="548.5" width="15.0" height="54.2" fill="#5D9C00"/>
<rect x="616.6" y="548.5" width="5.6" height="54.2" fill="#FFFF00"/>
<rect x="622.2" y="548.5" width="8.2" height="54.2" fill="#FF0000"/>
<rect x="630.4" y="548.5" width="21.7" height="54.2" fill="#B9D500"/>
<rect x="652.1" y="548.5" width="7.5" height="54.2" fill="#FFB900"/>
<rect x="659.6" y="548.5" width="7.5" height="54.2" fill="#FFFF00"/>
<rect x="667.1" y="548.5" width="5.6" height="54.2" fill="#FFB900"/>
<rect x="672.7" y="548.5" width="7.5" height="54.2" fill="#FFFF00"/>
<rect x="680.2" y="548.5" width="5.6" height="54.2" fill="#5D9C00"/>
<rect x="685.8" y="548.5" width="28.1" height="54.2" fill="#E8F100"/>
<rect x="713.9" y="548.5" width="4.5" height="54.2" fill="#FFFFFF"/>
<rect x="718.4" y="548.5" width="6.7" height="54.2" fill="#FF5D00"/>
<rect x="725.1" y="548.5" width="4.9" height="54.2" fill="#5D9C00"/>
<rect x="730.0" y="548.5" width="5.6" height="54.2" fill="#5D9C00"/>
<rect x="735.6" y="548.5" width="22.5" height="54.2" fill="#8BB900"/>
<rect x="758.1" y="548.5" width="6.3" height="54.2" fill="#FF5D00"/>
<rect x="764.4" y="548.5" width="10.5" height="54.2" fill="#FFB900"/>
<rect x="774.9" y="548.5" width="28.1" height="54.2" fill="#FFE800"/>
<rect x="803.0" y="548.5" width="5.6" height="54.2" fill="#5D9C00"/>
<rect x="808.6" y="548.5" width="20.6" height="54.2" fill="#E8F100"/>
<rect x="829.2" y="548.5" width="6.4" height="54.2" fill="#2E8000"/>
<rect x="835.6" y="548.5" width="6.7" height="54.2" fill="#FFFF00"/>
<rect x="842.3" y="548.5" width="15.0" height="54.2" fill="#8BB900"/>
<rect x="857.3" y="548.5" width="7.4" height="54.2" fill="#FFFF00"/>
<rect x="864.7" y="548.5" width="3.8" height="54.2" fill="#FFFFFF"/>
<rect x="868.5" y="548.5" width="5.6" height="54.2" fill="#FFFF00"/>
<rect x="874.1" y="548.5" width="7.5" height="54.2" fill="#FFB900"/>
<rect x="881.6" y="548.5" width="13.1" height="54.2" fill="#8BB900"/>
<rect x="894.7" y="548.5" width="7.5" height="54.2" fill="#FFFF00"/>
<rect x="902.2" y="548.5" width="22.4" height="54.2" fill="#8BB900"/>
<rect x="924.6" y="548.5" width="7.5" height="54.2" fill="#E8F100"/>
<rect x="932.1" y="548.5" width="13.1" height="54.2" fill="#FF5D00"/>
<rect x="945.2" y="548.5" width="7.5" height="54.2" fill="#5D9C00"/>
<rect x="952.7" y="548.5" width="16.8" height="54.2" fill="#8BB900"/>
<rect x="969.5" y="548.5" width="15.0" height="54.2" fill="#FFFF00"/>
<rect x="984.5" y="548.5" width="7.5" height="54.2" fill="#FF2E00"/>
<rect x="992.0" y="548.5" width="9.4" height="54.2" fill="#8BB900"/>
<rect x="1001.4" y="548.5" width="4.8" height="54.2" fill="#2E8000"/>
<rect x="1006.2" y="548.5" width="12.0" height="54.2" fill="#FFFF00"/>
<rect x="1018.2" y="548.5" width="7.5" height="54.2" fill="#FFB900"/>
<rect x="1025.7" y="548.5" width="5.6" height="54.2" fill="#B9D500"/>
<rect x="1031.3" y="548.5" width="13.1" height="54.2" fill="#FFB900"/>
<rect x="1044.4" y="548.5" width="5.6" height="54.2" fill="#2E8000"/>
<rect x="1050.0" y="548.5" width="7.5" height="54.2" fill="#FF2E00"/>
<rect x="1057.5" y="548.5" width="5.6" height="54.2" fill="#FFE800"/>
<rect x="1063.1" y="548.5" width="6.8" height="54.2" fill="#FFFF00"/>
<rect x="1069.9" y="548.5" width="10.1" height="54.2" fill="#5D9C00"/>
<rect x="140.5" y="624.5" width="6.3" height="54.2" fill="#FF8B00"/>
<rect x="146.8" y="624.5" width="7.5" height="54.2" fill="#FFFF00"/>
<rect x="154.3" y="624.5" width="5.6" height="54.2" fill="#FFB900"/>
<rect x="159.9" y="624.5" width="6.8" height="54.2" fill="#FFFF00"/>
<rect x="166.7" y="624.5" width="12.0" height="54.2" fill="#FF5D00"/>
<rect x="178.7" y="624.5" width="13.1" height="54.2" fill="#E8F100"/>
<rect x="191.8" y="624.5" width="9.3" height="54.2" fill="#FFB900"/>
<rect x="201.1" y="624.5" width="13.1" height="54.2" fill="#8BB900"/>
<rect x="214.2" y="624.5" width="11.2" height="54.2" fill="#FFFF00"/>
<rect x="225.4" y="624.5" width="6.4" height="54.2" fill="#5D9C00"/>
<rect x="231.8" y="624.5" width="18.0" height="54.2" fill="#B9D500"/>
<rect x="249.8" y="624.5" width="9.3" height="54.2" fill="#FFFF00"/>
<rect x="259.1" y="624.5" width="20.6" height="54.2" fill="#2E8000"/>
<rect x="279.7" y="624.5" width="7.5" height="54.2" fill="#F2F2F2"/>
<rect x="279.7" y="624.5" width="7.5" height="2.6" fill="#dedede"/>
<rect x="279.7" y="676.1" width="7.5" height="2.6" fill="#dedede"/>
<rect x="287.2" y="624.5" width="7.5" height="54.2" fill="#2E8000"/>
<rect x="294.7" y="624.5" width="22.4" height="54.2" fill="#8BB900"/>
<rect x="317.1" y="624.5" width="16.9" height="54.2" fill="#B9D500"/>
<rect x="334.0" y="624.5" width="15.0" height="54.2" fill="#8BB900"/>
<rect x="349.0" y="624.5" width="5.6" height="54.2" fill="#006400"/>
<rect x="354.6" y="624.5" width="4.5" height="54.2" fill="#FFFFFF"/>
<rect x="359.1" y="624.5" width="10.4" height="54.2" fill="#2E8000"/>
<rect x="369.5" y="624.5" width="5.7" height="54.2" fill="#5D9C00"/>
<rect x="375.2" y="624.5" width="11.2" height="54.2" fill="#8BB900"/>
<rect x="386.4" y="624.5" width="9.3" height="54.2" fill="#FFFF00"/>
<rect x="395.7" y="624.5" width="9.4" height="54.2" fill="#8BB900"/>
<rect x="405.1" y="624.5" width="4.9" height="54.2" fill="#2E8000"/>
<rect x="410.0" y="624.5" width="2.6" height="54.2" fill="#FFFFFF"/>
<rect x="412.6" y="624.5" width="13.1" height="54.2" fill="#5D9C00"/>
<rect x="425.7" y="624.5" width="5.6" height="54.2" fill="#006400"/>
<rect x="431.3" y="624.5" width="9.4" height="54.2" fill="#F2F2F2"/>
<rect x="431.3" y="624.5" width="9.4" height="2.6" fill="#dedede"/>
<rect x="431.3" y="676.1" width="9.4" height="2.6" fill="#dedede"/>
<rect x="440.7" y="624.5" width="14.9" height="54.2" fill="#B9D500"/>
<rect x="455.6" y="624.5" width="9.4" height="54.2" fill="#FFFF00"/>
<rect x="465.0" y="624.5" width="7.5" height="54.2" fill="#5D9C00"/>
<rect x="472.5" y="624.5" width="16.8" height="54.2" fill="#E8F100"/>
<rect x="489.3" y="624.5" width="9.4" height="54.2" fill="#B9D500"/>
<rect x="498.7" y="624.5" width="13.1" height="54.2" fill="#5D9C00"/>
<rect x="511.8" y="624.5" width="9.3" height="54.2" fill="#2E8000"/>
<rect x="521.1" y="624.5" width="2.7" height="54.2" fill="#FFFFFF"/>
<rect x="523.8" y="624.5" width="6.7" height="54.2" fill="#5D9C00"/>
<rect x="530.5" y="624.5" width="18.7" height="54.2" fill="#B9D500"/>
<rect x="549.2" y="624.5" width="6.4" height="54.2" fill="#FF8B00"/>
<rect x="555.6" y="624.5" width="8.6" height="54.2" fill="#FFFF00"/>
<rect x="564.2" y="624.5" width="7.5" height="54.2" fill="#FFE800"/>
<rect x="571.7" y="624.5" width="9.3" height="54.2" fill="#B9D500"/>
<rect x="581.0" y="624.5" width="7.5" height="54.2" fill="#2E8000"/>
<rect x="588.5" y="624.5" width="13.1" height="54.2" fill="#FFB900"/>
<rect x="601.6" y="624.5" width="9.4" height="54.2" fill="#B9D500"/>
<rect x="611.0" y="624.5" width="9.3" height="54.2" fill="#FFFF00"/>
<rect x="620.3" y="624.5" width="7.5" height="54.2" fill="#FFB900"/>
<rect x="627.8" y="624.5" width="13.1" height="54.2" fill="#FFFF00"/>
<rect x="640.9" y="624.5" width="11.2" height="54.2" fill="#FF5D00"/>
<rect x="652.1" y="624.5" width="16.9" height="54.2" fill="#FFE800"/>
<rect x="669.0" y="624.5" width="11.2" height="54.2" fill="#8BB900"/>
<rect x="680.2" y="624.5" width="13.1" height="54.2" fill="#FFFF00"/>
<rect x="693.3" y="624.5" width="13.1" height="54.2" fill="#8BB900"/>
<rect x="706.4" y="624.5" width="11.2" height="54.2" fill="#B9D500"/>
<rect x="717.6" y="624.5" width="7.5" height="54.2" fill="#FFB900"/>
<rect x="725.1" y="624.5" width="4.9" height="54.2" fill="#B9D500"/>
<rect x="730.0" y="624.5" width="7.5" height="54.2" fill="#8BB900"/>
<rect x="737.5" y="624.5" width="13.1" height="54.2" fill="#FFFF00"/>
<rect x="750.6" y="624.5" width="20.6" height="54.2" fill="#B9D500"/>
<rect x="771.2" y="624.5" width="18.7" height="54.2" fill="#8BB900"/>
<rect x="789.9" y="624.5" width="13.1" height="54.2" fill="#5D9C00"/>
<rect x="803.0" y="624.5" width="5.6" height="54.2" fill="#2E8000"/>
<rect x="808.6" y="624.5" width="6.7" height="54.2" fill="#FFFF00"/>
<rect x="815.3" y="624.5" width="6.4" height="54.2" fill="#FF8B00"/>
<rect x="821.7" y="624.5" width="7.5" height="54.2" fill="#FFE800"/>
<rect x="829.2" y="624.5" width="13.1" height="54.2" fill="#FFB900"/>
<rect x="842.3" y="624.5" width="7.5" height="54.2" fill="#FFFF00"/>
<rect x="849.8" y="624.5" width="5.6" height="54.2" fill="#8BB900"/>
<rect x="855.4" y="624.5" width="5.6" height="54.2" fill="#5D9C00"/>
<rect x="861.0" y="624.5" width="10.5" height="54.2" fill="#B9D500"/>
<rect x="140.5" y="700.5" width="6.3" height="54.2" fill="#8BB900"/>
<rect x="146.8" y="700.5" width="13.1" height="54.2" fill="#B9D500"/>
<rect x="159.9" y="700.5" width="7.5" height="54.2" fill="#5D9C00"/>
<rect x="167.4" y="700.5" width="11.3" height="54.2" fill="#8BB900"/>
<rect x="178.7" y="700.5" width="6.7" height="54.2" fill="#2E8000"/>
<rect x="185.4" y="700.5" width="13.8" height="54.2" fill="#FFE800"/>
<rect x="199.2" y="700.5" width="24.4" height="54.2" fill="#E8F100"/>
<rect x="223.6" y="700.5" width="7.5" height="54.2" fill="#8BB900"/>
<rect x="231.1" y="700.5" width="13.1" height="54.2" fill="#FFFF00"/>
<rect x="244.2" y="700.5" width="13.1" height="54.2" fill="#5D9C00"/>
<rect x="257.3" y="700.5" width="7.4" height="54.2" fill="#FFFF00"/>
<rect x="264.7" y="700.5" width="11.3" height="54.2" fill="#B9D500"/>
<rect x="276.0" y="700.5" width="8.2" height="54.2" fill="#FF8B00"/>
<rect x="284.2" y="700.5" width="4.9" height="54.2" fill="#FFFF00"/>
<rect x="289.1" y="700.5" width="6.3" height="54.2" fill="#FF2E00"/>
<rect x="295.4" y="700.5" width="21.7" height="54.2" fill="#E8F100"/>
<rect x="317.1" y="700.5" width="13.1" height="54.2" fill="#B9D500"/>
<rect x="330.2" y="700.5" width="5.7" height="54.2" fill="#5D9C00"/>
<rect x="335.9" y="700.5" width="5.6" height="54.2" fill="#B9D500"/>
<rect x="341.5" y="700.5" width="4.8" height="54.2" fill="#2E8000"/>
<rect x="346.3" y="700.5" width="11.3" height="54.2" fill="#F2F2F2"/>
<rect x="346.3" y="700.5" width="11.3" height="2.6" fill="#dedede"/>
<rect x="346.3" y="752.1" width="11.3" height="2.6" fill="#dedede"/>
<rect x="357.6" y="700.5" width="8.2" height="54.2" fill="#5D9C00"/>
<rect x="365.8" y="700.5" width="7.5" height="54.2" fill="#FFFF00"/>
<rect x="373.3" y="700.5" width="15.0" height="54.2" fill="#B9D500"/>
<rect x="388.3" y="700.5" width="11.2" height="54.2" fill="#2E8000"/>
<rect x="399.5" y="700.5" width="15.0" height="54.2" fill="#FF8B00"/>
<rect x="414.5" y="700.5" width="11.2" height="54.2" fill="#FFFF00"/>
<rect x="425.7" y="700.5" width="6.7" height="54.2" fill="#FF2E00"/>
<rect x="432.4" y="700.5" width="23.2" height="54.2" fill="#FFE800"/>
<rect x="455.6" y="700.5" width="9.4" height="54.2" fill="#B9D500"/>
<rect x="465.0" y="700.5" width="6.4" height="54.2" fill="#FFB900"/>
<rect x="471.4" y="700.5" width="14.2" height="54.2" fill="#FFFF00"/>
<rect x="485.6" y="700.5" width="11.2" height="54.2" fill="#5D9C00"/>
<rect x="496.8" y="700.5" width="18.7" height="54.2" fill="#FFFF00"/>
<rect x="515.5" y="700.5" width="11.3" height="54.2" fill="#FFB900"/>
<rect x="526.8" y="700.5" width="7.4" height="54.2" fill="#B9D500"/>
<rect x="534.2" y="700.5" width="9.4" height="54.2" fill="#FF8B00"/>
<rect x="543.6" y="700.5" width="5.6" height="54.2" fill="#FFFF00"/>
<rect x="549.2" y="700.5" width="7.5" height="54.2" fill="#FF5D00"/>
<rect x="556.7" y="700.5" width="11.2" height="54.2" fill="#FFFF00"/>
<rect x="567.9" y="700.5" width="11.3" height="54.2" fill="#B9D500"/>
<rect x="579.2" y="700.5" width="9.3" height="54.2" fill="#FFFF00"/>
<rect x="588.5" y="700.5" width="20.6" height="54.2" fill="#B9D500"/>
<rect x="609.1" y="700.5" width="4.5" height="54.2" fill="#F2F2F2"/>
<rect x="609.1" y="700.5" width="4.5" height="2.6" fill="#dedede"/>
<rect x="609.1" y="752.1" width="4.5" height="2.6" fill="#dedede"/>
<rect x="613.6" y="700.5" width="4.9" height="54.2" fill="#5D9C00"/>
<rect x="618.5" y="700.5" width="13.1" height="54.2" fill="#FFFF00"/>
<rect x="631.6" y="700.5" width="4.4" height="54.2" fill="#5D9C00"/>
<rect x="636.0" y="700.5" width="12.4" height="54.2" fill="#B9D500"/>
<rect x="648.4" y="700.5" width="18.7" height="54.2" fill="#2E8000"/>
<rect x="667.1" y="700.5" width="9.4" height="54.2" fill="#B9D500"/>
<rect x="676.5" y="700.5" width="4.5" height="54.2" fill="#2E8000"/>
<rect x="681.0" y="700.5" width="8.6" height="54.2" fill="#F2F2F2"/>
<rect x="681.0" y="700.5" width="8.6" height="2.6" fill="#dedede"/>
<rect x="681.0" y="752.1" width="8.6" height="2.6" fill="#dedede"/>
<rect x="689.6" y="700.5" width="9.3" height="54.2" fill="#2E8000"/>
<rect x="698.9" y="700.5" width="9.4" height="54.2" fill="#5D9C00"/>
<rect x="708.3" y="700.5" width="7.5" height="54.2" fill="#2E8000"/>
<rect x="715.8" y="700.5" width="4.8" height="54.2" fill="#F2F2F2"/>
<rect x="715.8" y="700.5" width="4.8" height="2.6" fill="#dedede"/>
<rect x="715.8" y="752.1" width="4.8" height="2.6" fill="#dedede"/>
<rect x="720.6" y="700.5" width="9.4" height="54.2" fill="#5D9C00"/>
<rect x="730.0" y="700.5" width="8.2" height="54.2" fill="#5D9C00"/>
<rect x="738.2" y="700.5" width="6.8" height="54.2" fill="#FFE800"/>
<rect x="745.0" y="700.5" width="9.3" height="54.2" fill="#B9D500"/>
<rect x="754.3" y="700.5" width="18.7" height="54.2" fill="#5D9C00"/>
<rect x="773.0" y="700.5" width="4.9" height="54.2" fill="#FFFFFF"/>
<rect x="777.9" y="700.5" width="6.4" height="54.2" fill="#5D9C00"/>
<rect x="784.3" y="700.5" width="5.6" height="54.2" fill="#B9D500"/>
<rect x="789.9" y="700.5" width="7.5" height="54.2" fill="#FFFF00"/>
<rect x="797.4" y="700.5" width="5.6" height="54.2" fill="#FFB900"/>
<rect x="803.0" y="700.5" width="7.5" height="54.2" fill="#B9D500"/>
<rect x="810.5" y="700.5" width="7.5" height="54.2" fill="#8BB900"/>
<rect x="818.0" y="700.5" width="5.6" height="54.2" fill="#FFFF00"/>
<rect x="823.6" y="700.5" width="5.6" height="54.2" fill="#FFB900"/>
<rect x="829.2" y="700.5" width="7.5" height="54.2" fill="#B9D500"/>
<rect x="836.7" y="700.5" width="20.6" height="54.2" fill="#8BB900"/>
<rect x="857.3" y="700.5" width="5.6" height="54.2" fill="#5D9C00"/>
<rect x="862.9" y="700.5" width="6.3" height="54.2" fill="#B9D500"/>
<rect x="869.2" y="700.5" width="6.0" height="54.2" fill="#FF8B00"/>
<rect x="875.2" y="700.5" width="10.1" height="54.2" fill="#FFFF00"/>
<rect x="885.3" y="700.5" width="3.8" height="54.2" fill="#2E8000"/>
<rect x="889.1" y="700.5" width="20.6" height="54.2" fill="#8BB900"/>
<rect x="909.7" y="700.5" width="17.9" height="54.2" fill="#5D9C00"/>
<rect x="927.6" y="700.5" width="11.3" height="54.2" fill="#FF5D00"/>
<rect x="938.9" y="700.5" width="11.9" height="54.2" fill="#FFE800"/>
<rect x="950.8" y="700.5" width="9.4" height="54.2" fill="#FFFF00"/>
<rect x="960.2" y="700.5" width="6.4" height="54.2" fill="#FF5D00"/>
<rect x="966.6" y="700.5" width="25.4" height="54.2" fill="#FFFF00"/>
<rect x="992.0" y="700.5" width="19.5" height="54.2" fill="#FFE800"/>
<rect x="1011.5" y="700.5" width="19.8" height="54.2" fill="#5D9C00"/>
<rect x="1031.3" y="700.5" width="18.7" height="54.2" fill="#E8F100"/>
<rect x="1050.0" y="700.5" width="7.5" height="54.2" fill="#FF8B00"/>
<rect x="1057.5" y="700.5" width="5.6" height="54.2" fill="#B9D500"/>
<rect x="1063.1" y="700.5" width="6.8" height="54.2" fill="#FF8B00"/>
<rect x="1069.9" y="700.5" width="11.9" height="54.2" fill="#E8F100"/>
<rect x="1081.8" y="700.5" width="22.5" height="54.2" fill="#FFFF00"/>
<rect x="1104.3" y="700.5" width="11.2" height="54.2" fill="#B9D500"/>
<rect x="1115.5" y="700.5" width="8.3" height="54.2" fill="#FFB900"/>
<rect x="1123.8" y="700.5" width="25.4" height="54.2" fill="#B9D500"/>
<rect x="1149.2" y="700.5" width="7.5" height="54.2" fill="#FFFF00"/>
<rect x="1156.7" y="700.5" width="4.5" height="54.2" fill="#B9D500"/>
<rect x="1161.2" y="700.5" width="11.2" height="54.2" fill="#FF8B00"/>
<rect x="140.5" y="776.6" width="4.5" height="54.2" fill="#2E8000"/>
<rect x="145.0" y="776.6" width="5.6" height="54.2" fill="#B9D500"/>
<rect x="150.6" y="776.6" width="9.3" height="54.2" fill="#FFB900"/>
<rect x="159.9" y="776.6" width="5.7" height="54.2" fill="#5D9C00"/>
<rect x="165.6" y="776.6" width="7.4" height="54.2" fill="#FFFF00"/>
<rect x="173.0" y="776.6" width="5.7" height="54.2" fill="#FFB900"/>
<rect x="178.7" y="776.6" width="7.4" height="54.2" fill="#FFFF00"/>
<rect x="186.1" y="776.6" width="5.7" height="54.2" fill="#5D9C00"/>
<rect x="191.8" y="776.6" width="6.3" height="54.2" fill="#B9D500"/>
<rect x="198.1" y="776.6" width="8.6" height="54.2" fill="#FF5D00"/>
<rect x="206.7" y="776.6" width="11.3" height="54.2" fill="#8BB900"/>
<rect x="218.0" y="776.6" width="7.4" height="54.2" fill="#FF8B00"/>
<rect x="225.4" y="776.6" width="7.5" height="54.2" fill="#FFFF00"/>
<rect x="232.9" y="776.6" width="9.4" height="54.2" fill="#B9D500"/>
<rect x="242.3" y="776.6" width="15.0" height="54.2" fill="#FFFF00"/>
<rect x="257.3" y="776.6" width="7.4" height="54.2" fill="#8BB900"/>
<rect x="264.7" y="776.6" width="11.3" height="54.2" fill="#B9D500"/>
<rect x="276.0" y="776.6" width="7.5" height="54.2" fill="#FF8B00"/>
<rect x="283.5" y="776.6" width="18.7" height="54.2" fill="#FFB900"/>
<rect x="302.2" y="776.6" width="5.6" height="54.2" fill="#5D9C00"/>
<rect x="307.8" y="776.6" width="6.4" height="54.2" fill="#F2F2F2"/>
<rect x="307.8" y="776.6" width="6.4" height="2.6" fill="#dedede"/>
<rect x="307.8" y="828.2" width="6.4" height="2.6" fill="#dedede"/>
<rect x="314.2" y="776.6" width="8.6" height="54.2" fill="#B9D500"/>
<rect x="322.8" y="776.6" width="4.8" height="54.2" fill="#006400"/>
<rect x="327.6" y="776.6" width="2.6" height="54.2" fill="#FFFFFF"/>
<rect x="330.2" y="776.6" width="15.0" height="54.2" fill="#FFFF00"/>
<rect x="345.2" y="776.6" width="16.9" height="54.2" fill="#FFB900"/>
<rect x="362.1" y="776.6" width="5.6" height="54.2" fill="#FF5D00"/>
<rect x="367.7" y="776.6" width="12.3" height="54.2" fill="#FFE800"/>
<rect x="380.0" y="776.6" width="8.3" height="54.2" fill="#FF5D00"/>
<rect x="388.3" y="776.6" width="11.2" height="54.2" fill="#E8F100"/>
<rect x="399.5" y="776.6" width="15.0" height="54.2" fill="#8BB900"/>
<rect x="414.5" y="776.6" width="5.6" height="54.2" fill="#FFFF00"/>
<rect x="420.1" y="776.6" width="5.6" height="54.2" fill="#FF5D00"/>
<rect x="425.7" y="776.6" width="15.0" height="54.2" fill="#E8F100"/>
<rect x="440.7" y="776.6" width="13.1" height="54.2" fill="#FFFF00"/>
<rect x="453.8" y="776.6" width="5.6" height="54.2" fill="#FFE800"/>
<rect x="459.4" y="776.6" width="5.6" height="54.2" fill="#FFB900"/>
<rect x="465.0" y="776.6" width="20.6" height="54.2" fill="#FFFF00"/>
<rect x="485.6" y="776.6" width="6.7" height="54.2" fill="#FF5D00"/>
<rect x="492.3" y="776.6" width="6.4" height="54.2" fill="#B9D500"/>
<rect x="498.7" y="776.6" width="16.8" height="54.2" fill="#5D9C00"/>
<rect x="515.5" y="776.6" width="3.8" height="54.2" fill="#2E8000"/>
<rect x="519.3" y="776.6" width="3.7" height="54.2" fill="#FFFFFF"/>
<rect x="523.0" y="776.6" width="11.2" height="54.2" fill="#5D9C00"/>
<rect x="534.2" y="776.6" width="9.4" height="54.2" fill="#B9D500"/>
<rect x="543.6" y="776.6" width="5.6" height="54.2" fill="#2E8000"/>
<rect x="549.2" y="776.6" width="7.5" height="54.2" fill="#FFFF00"/>
<rect x="556.7" y="776.6" width="7.5" height="54.2" fill="#FFB900"/>
<rect x="564.2" y="776.6" width="5.6" height="54.2" fill="#B9D500"/>
<rect x="569.8" y="776.6" width="7.5" height="54.2" fill="#FFE800"/>
<rect x="577.3" y="776.6" width="15.0" height="54.2" fill="#5D9C00"/>
<rect x="592.3" y="776.6" width="9.3" height="54.2" fill="#FFB900"/>
<rect x="601.6" y="776.6" width="15.0" height="54.2" fill="#B9D500"/>
<rect x="616.6" y="776.6" width="20.6" height="54.2" fill="#FFFF00"/>
<rect x="637.2" y="776.6" width="8.6" height="54.2" fill="#006400"/>
<rect x="645.8" y="776.6" width="6.3" height="54.2" fill="#FFFFFF"/>
<rect x="652.1" y="776.6" width="5.7" height="54.2" fill="#2E8000"/>
<rect x="657.8" y="776.6" width="14.9" height="54.2" fill="#5D9C00"/>
<rect x="672.7" y="776.6" width="15.0" height="54.2" fill="#5D9C00"/>
<rect x="687.7" y="776.6" width="2.6" height="54.2" fill="#FFFFFF"/>
<rect x="690.3" y="776.6" width="9.7" height="54.2" fill="#2E8000"/>
<rect x="700.0" y="776.6" width="17.6" height="54.2" fill="#FFFF00"/>
<rect x="717.6" y="776.6" width="12.4" height="54.2" fill="#B9D500"/>
<rect x="730.0" y="776.6" width="9.4" height="54.2" fill="#B9D500"/>
<rect x="739.4" y="776.6" width="7.4" height="54.2" fill="#FFFF00"/>
<rect x="746.8" y="776.6" width="8.7" height="54.2" fill="#FFE800"/>
<rect x="755.5" y="776.6" width="3.7" height="54.2" fill="#8BB900"/>
<rect x="759.2" y="776.6" width="6.4" height="54.2" fill="#FFFF00"/>
<rect x="765.6" y="776.6" width="4.8" height="54.2" fill="#FF8B00"/>
<rect x="770.4" y="776.6" width="12.0" height="54.2" fill="#FFFF00"/>
<rect x="782.4" y="776.6" width="15.0" height="54.2" fill="#E8F100"/>
<rect x="797.4" y="776.6" width="19.4" height="54.2" fill="#FFB900"/>
<rect x="816.8" y="776.6" width="25.5" height="54.2" fill="#E8F100"/>
<rect x="842.3" y="776.6" width="7.5" height="54.2" fill="#5D9C00"/>
<rect x="849.8" y="776.6" width="22.4" height="54.2" fill="#8BB900"/>
<rect x="872.2" y="776.6" width="16.9" height="54.2" fill="#FFE800"/>
<rect x="889.1" y="776.6" width="11.2" height="54.2" fill="#FFB900"/>
<rect x="900.3" y="776.6" width="5.6" height="54.2" fill="#2E8000"/>
<rect x="905.9" y="776.6" width="13.1" height="54.2" fill="#8BB900"/>
<rect x="919.0" y="776.6" width="7.5" height="54.2" fill="#FFFF00"/>
<rect x="926.5" y="776.6" width="7.5" height="54.2" fill="#B9D500"/>
<rect x="934.0" y="776.6" width="7.5" height="54.2" fill="#FFFF00"/>
<rect x="941.5" y="776.6" width="7.5" height="54.2" fill="#B9D500"/>
<rect x="949.0" y="776.6" width="9.3" height="54.2" fill="#FFFF00"/>
<rect x="958.3" y="776.6" width="9.4" height="54.2" fill="#FFB900"/>
<rect x="967.7" y="776.6" width="5.6" height="54.2" fill="#FFFF00"/>
<rect x="973.3" y="776.6" width="7.5" height="54.2" fill="#FF8B00"/>
<rect x="980.8" y="776.6" width="7.5" height="54.2" fill="#FFE800"/>
<rect x="988.3" y="776.6" width="5.6" height="54.2" fill="#B9D500"/>
<rect x="993.9" y="776.6" width="4.8" height="54.2" fill="#2E8000"/>
<rect x="998.7" y="776.6" width="10.1" height="54.2" fill="#E8F100"/>
<rect x="1008.8" y="776.6" width="3.8" height="54.2" fill="#F2F2F2"/>
<rect x="1008.8" y="776.6" width="3.8" height="2.6" fill="#dedede"/>
<rect x="1008.8" y="828.2" width="3.8" height="2.6" fill="#dedede"/>
<rect x="1012.6" y="776.6" width="10.1" height="54.2" fill="#FFB900"/>
<rect x="140.5" y="852.7" width="6.3" height="54.2" fill="#FFFF00"/>
<rect x="146.8" y="852.7" width="5.7" height="54.2" fill="#B9D500"/>
<rect x="152.5" y="852.7" width="5.6" height="54.2" fill="#FFB900"/>
<rect x="158.1" y="852.7" width="20.6" height="54.2" fill="#5D9C00"/>
<rect x="178.7" y="852.7" width="11.2" height="54.2" fill="#FFB900"/>
<rect x="189.9" y="852.7" width="7.5" height="54.2" fill="#B9D500"/>
<rect x="197.4" y="852.7" width="7.5" height="54.2" fill="#FF8B00"/>
<rect x="204.9" y="852.7" width="11.2" height="54.2" fill="#E8F100"/>
<rect x="216.1" y="852.7" width="7.5" height="54.2" fill="#8BB900"/>
<rect x="223.6" y="852.7" width="7.5" height="54.2" fill="#FF8B00"/>
<rect x="231.1" y="852.7" width="11.2" height="54.2" fill="#FFFF00"/>
<rect x="242.3" y="852.7" width="7.5" height="54.2" fill="#FFE800"/>
<rect x="249.8" y="852.7" width="20.6" height="54.2" fill="#FFFF00"/>
<rect x="270.4" y="852.7" width="5.6" height="54.2" fill="#5D9C00"/>
<rect x="276.0" y="852.7" width="9.3" height="54.2" fill="#FFFF00"/>
<rect x="285.3" y="852.7" width="9.4" height="54.2" fill="#B9D500"/>
<rect x="294.7" y="852.7" width="15.0" height="54.2" fill="#FFFF00"/>
<rect x="309.7" y="852.7" width="7.4" height="54.2" fill="#FFB900"/>
<rect x="317.1" y="852.7" width="11.3" height="54.2" fill="#FFFF00"/>
<rect x="328.4" y="852.7" width="7.5" height="54.2" fill="#FF8B00"/>
<rect x="335.9" y="852.7" width="11.2" height="54.2" fill="#FFFF00"/>
<rect x="347.1" y="852.7" width="26.2" height="54.2" fill="#FFB900"/>
<rect x="373.3" y="852.7" width="9.3" height="54.2" fill="#FFFF00"/>
<rect x="382.6" y="852.7" width="4.9" height="54.2" fill="#006400"/>
<rect x="387.5" y="852.7" width="6.4" height="54.2" fill="#FFFF00"/>
<rect x="393.9" y="852.7" width="26.2" height="54.2" fill="#5D9C00"/>
<rect x="420.1" y="852.7" width="13.1" height="54.2" fill="#2E8000"/>
<rect x="433.2" y="852.7" width="5.6" height="54.2" fill="#006400"/>
<rect x="438.8" y="852.7" width="3.7" height="54.2" fill="#FFFFFF"/>
<rect x="442.5" y="852.7" width="3.8" height="54.2" fill="#006400"/>
<rect x="446.3" y="852.7" width="3.7" height="54.2" fill="#FFFFFF"/>
<rect x="450.0" y="852.7" width="13.1" height="54.2" fill="#2E8000"/>
<rect x="463.1" y="852.7" width="5.6" height="54.2" fill="#FFFFFF"/>
<rect x="468.7" y="852.7" width="9.4" height="54.2" fill="#006400"/>
<rect x="478.1" y="852.7" width="5.6" height="54.2" fill="#FFFFFF"/>
<rect x="483.7" y="852.7" width="8.6" height="54.2" fill="#2E8000"/>
<rect x="492.3" y="852.7" width="6.4" height="54.2" fill="#FFFFFF"/>
<rect x="498.7" y="852.7" width="18.7" height="54.2" fill="#5D9C00"/>
<rect x="517.4" y="852.7" width="5.6" height="54.2" fill="#B9D500"/>
<rect x="523.0" y="852.7" width="20.6" height="54.2" fill="#8BB900"/>
<rect x="543.6" y="852.7" width="4.9" height="54.2" fill="#2E8000"/>
<rect x="548.5" y="852.7" width="15.7" height="54.2" fill="#8BB900"/>
<rect x="564.2" y="852.7" width="6.7" height="54.2" fill="#2E8000"/>
<rect x="570.9" y="852.7" width="12.0" height="54.2" fill="#B9D500"/>
<rect x="582.9" y="852.7" width="16.8" height="54.2" fill="#5D9C00"/>
<rect x="599.7" y="852.7" width="3.8" height="54.2" fill="#006400"/>
<rect x="603.5" y="852.7" width="2.6" height="54.2" fill="#FFFFFF"/>
<rect x="606.1" y="852.7" width="3.0" height="54.2" fill="#2E8000"/>
<rect x="609.1" y="852.7" width="24.3" height="54.2" fill="#B9D500"/>
<rect x="633.4" y="852.7" width="13.1" height="54.2" fill="#FF5D00"/>
<rect x="646.5" y="852.7" width="7.5" height="54.2" fill="#FFFF00"/>
<rect x="654.0" y="852.7" width="15.0" height="54.2" fill="#FFB900"/>
<rect x="669.0" y="852.7" width="16.8" height="54.2" fill="#FFFF00"/>
<rect x="685.8" y="852.7" width="14.2" height="54.2" fill="#FF5D00"/>
<rect x="700.0" y="852.7" width="13.9" height="54.2" fill="#FFB900"/>
<rect x="713.9" y="852.7" width="16.1" height="54.2" fill="#FFFF00"/>
<rect x="730.0" y="852.7" width="3.7" height="54.2" fill="#B9D500"/>
<rect x="733.7" y="852.7" width="3.8" height="54.2" fill="#2E8000"/>
<rect x="737.5" y="852.7" width="5.6" height="54.2" fill="#FF8B00"/>
<rect x="743.1" y="852.7" width="7.5" height="54.2" fill="#B9D500"/>
<rect x="750.6" y="852.7" width="9.3" height="54.2" fill="#FFE800"/>
<rect x="759.9" y="852.7" width="9.4" height="54.2" fill="#E8F100"/>
<rect x="769.3" y="852.7" width="18.7" height="54.2" fill="#5D9C00"/>
<rect x="788.0" y="852.7" width="7.5" height="54.2" fill="#2E8000"/>
<rect x="795.5" y="852.7" width="7.5" height="54.2" fill="#FFFF00"/>
<rect x="803.0" y="852.7" width="20.6" height="54.2" fill="#8BB900"/>
<rect x="823.6" y="852.7" width="18.7" height="54.2" fill="#5D9C00"/>
<rect x="842.3" y="852.7" width="5.6" height="54.2" fill="#FF8B00"/>
<rect x="847.9" y="852.7" width="9.4" height="54.2" fill="#FFFF00"/>
<rect x="857.3" y="852.7" width="10.4" height="54.2" fill="#E8F100"/>
<rect x="867.7" y="852.7" width="6.4" height="54.2" fill="#8BB900"/>
<rect x="874.1" y="852.7" width="6.4" height="54.2" fill="#FF5D00"/>
<rect x="880.5" y="852.7" width="6.7" height="54.2" fill="#B9D500"/>
<rect x="887.2" y="852.7" width="14.2" height="54.2" fill="#8BB900"/>
<rect x="901.4" y="852.7" width="10.1" height="54.2" fill="#FF8B00"/>
<rect x="911.5" y="852.7" width="13.1" height="54.2" fill="#FFFF00"/>
<rect x="924.6" y="852.7" width="7.5" height="54.2" fill="#8BB900"/>
<rect x="932.1" y="852.7" width="7.5" height="54.2" fill="#FFFF00"/>
<rect x="939.6" y="852.7" width="11.2" height="54.2" fill="#5D9C00"/>
<rect x="950.8" y="852.7" width="4.9" height="54.2" fill="#2E8000"/>
<rect x="955.7" y="852.7" width="32.6" height="54.2" fill="#FFFF00"/>
<rect x="988.3" y="852.7" width="9.3" height="54.2" fill="#B9D500"/>
<rect x="997.6" y="852.7" width="5.6" height="54.2" fill="#8BB900"/>
<rect x="1003.2" y="852.7" width="26.2" height="54.2" fill="#E8F100"/>
<rect x="1029.4" y="852.7" width="14.3" height="54.2" fill="#FFB900"/>
<rect x="1043.7" y="852.7" width="5.2" height="54.2" fill="#FF5D00"/>
<rect x="1048.9" y="852.7" width="19.8" height="54.2" fill="#E8F100"/>
<rect x="1068.7" y="852.7" width="13.1" height="54.2" fill="#8BB900"/>
<rect x="1081.8" y="852.7" width="6.4" height="54.2" fill="#2E8000"/>
<rect x="1088.2" y="852.7" width="4.1" height="54.2" fill="#FFFFFF"/>
<rect x="1092.3" y="852.7" width="6.4" height="54.2" fill="#5D9C00"/>
<rect x="1098.7" y="852.7" width="13.1" height="54.2" fill="#B9D500"/>
<rect x="140.5" y="928.7" width="8.2" height="54.2" fill="#FFB900"/>
<rect x="148.7" y="928.7" width="11.2" height="54.2" fill="#FFFF00"/>
<rect x="159.9" y="928.7" width="5.7" height="54.2" fill="#5D9C00"/>
<rect x="165.6" y="928.7" width="7.4" height="54.2" fill="#FFFF00"/>
<rect x="173.0" y="928.7" width="5.7" height="54.2" fill="#5D9C00"/>
<rect x="178.7" y="928.7" width="7.4" height="54.2" fill="#FFFF00"/>
<rect x="186.1" y="928.7" width="5.7" height="54.2" fill="#FF2E00"/>
<rect x="191.8" y="928.7" width="5.6" height="54.2" fill="#FF8B00"/>
<rect x="197.4" y="928.7" width="9.3" height="54.2" fill="#FFFF00"/>
<rect x="206.7" y="928.7" width="7.5" height="54.2" fill="#FF8B00"/>
<rect x="214.2" y="928.7" width="9.4" height="54.2" fill="#FFFF00"/>
<rect x="223.6" y="928.7" width="7.5" height="54.2" fill="#B9D500"/>
<rect x="231.1" y="928.7" width="13.1" height="54.2" fill="#5D9C00"/>
<rect x="244.2" y="928.7" width="26.2" height="54.2" fill="#FFFF00"/>
<rect x="270.4" y="928.7" width="5.6" height="54.2" fill="#FF8B00"/>
<rect x="276.0" y="928.7" width="20.6" height="54.2" fill="#FFFF00"/>
<rect x="296.6" y="928.7" width="5.6" height="54.2" fill="#B9D500"/>
<rect x="302.2" y="928.7" width="6.7" height="54.2" fill="#FF8B00"/>
<rect x="308.9" y="928.7" width="8.2" height="54.2" fill="#8BB900"/>
<rect x="317.1" y="928.7" width="7.5" height="54.2" fill="#FFFF00"/>
<rect x="324.6" y="928.7" width="11.3" height="54.2" fill="#B9D500"/>
<rect x="335.9" y="928.7" width="5.6" height="54.2" fill="#5D9C00"/>
<rect x="341.5" y="928.7" width="13.1" height="54.2" fill="#FFFF00"/>
<rect x="354.6" y="928.7" width="14.9" height="54.2" fill="#2E8000"/>
<rect x="369.5" y="928.7" width="7.5" height="54.2" fill="#B9D500"/>
<rect x="377.0" y="928.7" width="15.0" height="54.2" fill="#FFFF00"/>
<rect x="392.0" y="928.7" width="9.4" height="54.2" fill="#5D9C00"/>
<rect x="401.4" y="928.7" width="5.6" height="54.2" fill="#8BB900"/>
<rect x="407.0" y="928.7" width="41.1" height="54.2" fill="#E8F100"/>
<rect x="448.1" y="928.7" width="7.5" height="54.2" fill="#FFFF00"/>
<rect x="455.6" y="928.7" width="5.6" height="54.2" fill="#FFE800"/>
<rect x="461.2" y="928.7" width="11.3" height="54.2" fill="#FFFF00"/>
<rect x="472.5" y="928.7" width="7.5" height="54.2" fill="#FFB900"/>
<rect x="480.0" y="928.7" width="18.7" height="54.2" fill="#8BB900"/>
<rect x="498.7" y="928.7" width="5.6" height="54.2" fill="#FFFF00"/>
<rect x="504.3" y="928.7" width="4.5" height="54.2" fill="#5D9C00"/>
<rect x="508.8" y="928.7" width="34.8" height="54.2" fill="#FFFF00"/>
<rect x="543.6" y="928.7" width="7.5" height="54.2" fill="#FF8B00"/>
<rect x="551.1" y="928.7" width="7.5" height="54.2" fill="#FFFF00"/>
<rect x="558.6" y="928.7" width="5.6" height="54.2" fill="#2E8000"/>
<rect x="564.2" y="928.7" width="11.2" height="54.2" fill="#FFFF00"/>
<rect x="575.4" y="928.7" width="9.4" height="54.2" fill="#FFB900"/>
<rect x="584.8" y="928.7" width="9.3" height="54.2" fill="#8BB900"/>
<rect x="594.1" y="928.7" width="7.5" height="54.2" fill="#FFFF00"/>
<rect x="601.6" y="928.7" width="7.5" height="54.2" fill="#5D9C00"/>
<rect x="609.1" y="928.7" width="18.7" height="54.2" fill="#E8F100"/>
<rect x="627.8" y="928.7" width="9.4" height="54.2" fill="#8BB900"/>
<rect x="637.2" y="928.7" width="14.9" height="54.2" fill="#5D9C00"/>
<rect x="652.1" y="928.7" width="7.5" height="54.2" fill="#F2F2F2"/>
<rect x="652.1" y="928.7" width="7.5" height="2.6" fill="#dedede"/>
<rect x="652.1" y="980.3" width="7.5" height="2.6" fill="#dedede"/>
<rect x="659.6" y="928.7" width="11.3" height="54.2" fill="#B9D500"/>
<rect x="670.9" y="928.7" width="14.9" height="54.2" fill="#5D9C00"/>
<rect x="685.8" y="928.7" width="3.8" height="54.2" fill="#B9D500"/>
<rect x="689.6" y="928.7" width="9.3" height="54.2" fill="#5D9C00"/>
<rect x="698.9" y="928.7" width="6.8" height="54.2" fill="#F2F2F2"/>
<rect x="698.9" y="928.7" width="6.8" height="2.6" fill="#dedede"/>
<rect x="698.9" y="980.3" width="6.8" height="2.6" fill="#dedede"/>
<rect x="705.7" y="928.7" width="4.5" height="54.2" fill="#006400"/>
<rect x="710.2" y="928.7" width="19.8" height="54.2" fill="#F2F2F2"/>
<rect x="710.2" y="928.7" width="19.8" height="2.6" fill="#dedede"/>
<rect x="710.2" y="980.3" width="19.8" height="2.6" fill="#dedede"/>
<rect x="730.0" y="928.7" width="39.3" height="54.2" fill="#F2F2F2"/>
<rect x="730.0" y="928.7" width="39.3" height="2.6" fill="#dedede"/>
<rect x="730.0" y="980.3" width="39.3" height="2.6" fill="#dedede"/>
<rect x="769.3" y="928.7" width="9.4" height="54.2" fill="#5D9C00"/>
<rect x="778.7" y="928.7" width="4.4" height="54.2" fill="#006400"/>
<rect x="783.1" y="928.7" width="3.0" height="54.2" fill="#FFFFFF"/>
<rect x="786.1" y="928.7" width="16.9" height="54.2" fill="#2E8000"/>
<rect x="803.0" y="928.7" width="6.4" height="54.2" fill="#F2F2F2"/>
<rect x="803.0" y="928.7" width="6.4" height="2.6" fill="#dedede"/>
<rect x="803.0" y="980.3" width="6.4" height="2.6" fill="#dedede"/>
<rect x="809.4" y="928.7" width="8.6" height="54.2" fill="#8BB900"/>
<rect x="818.0" y="928.7" width="7.4" height="54.2" fill="#FFFFFF"/>
<rect x="825.4" y="928.7" width="7.5" height="54.2" fill="#B9D500"/>
<rect x="832.9" y="928.7" width="3.8" height="54.2" fill="#2E8000"/>
<rect x="836.7" y="928.7" width="7.5" height="54.2" fill="#FFFF00"/>
<rect x="844.2" y="928.7" width="8.6" height="54.2" fill="#5D9C00"/>
<rect x="852.8" y="928.7" width="3.7" height="54.2" fill="#FFFF00"/>
<rect x="856.5" y="928.7" width="5.3" height="54.2" fill="#5D9C00"/>
<rect x="861.8" y="928.7" width="14.2" height="54.2" fill="#B9D500"/>
<rect x="876.0" y="928.7" width="5.6" height="54.2" fill="#2E8000"/>
<rect x="881.6" y="928.7" width="9.3" height="54.2" fill="#FFB900"/>
<rect x="890.9" y="928.7" width="11.3" height="54.2" fill="#FFFF00"/>
<rect x="902.2" y="928.7" width="11.2" height="54.2" fill="#FF8B00"/>
<rect x="913.4" y="928.7" width="13.1" height="54.2" fill="#8BB900"/>
<rect x="926.5" y="928.7" width="7.5" height="54.2" fill="#FFFF00"/>
<rect x="934.0" y="928.7" width="11.2" height="54.2" fill="#FFE800"/>
<rect x="945.2" y="928.7" width="9.4" height="54.2" fill="#FF8B00"/>
<rect x="954.6" y="928.7" width="5.6" height="54.2" fill="#B9D500"/>
<rect x="960.2" y="928.7" width="9.3" height="54.2" fill="#FFB900"/>
<rect x="969.5" y="928.7" width="9.4" height="54.2" fill="#FFFF00"/>
<rect x="978.9" y="928.7" width="9.4" height="54.2" fill="#5D9C00"/>
<rect x="988.3" y="928.7" width="5.6" height="54.2" fill="#2E8000"/>
<rect x="993.9" y="928.7" width="5.6" height="54.2" fill="#B9D500"/>
<rect x="999.5" y="928.7" width="12.0" height="54.2" fill="#FF5D00"/>
<rect x="1011.5" y="928.7" width="17.9" height="54.2" fill="#FFE800"/>
<rect x="1029.4" y="928.7" width="8.3" height="54.2" fill="#FF8B00"/>
<rect x="1037.7" y="928.7" width="14.2" height="54.2" fill="#FFFF00"/>
<rect x="1051.9" y="928.7" width="15.0" height="54.2" fill="#5D9C00"/>
<rect x="1066.9" y="928.7" width="22.4" height="54.2" fill="#8BB900"/>
<rect x="1089.3" y="928.7" width="15.0" height="54.2" fill="#FFFF00"/>
<rect x="1104.3" y="928.7" width="7.5" height="54.2" fill="#B9D500"/>
<rect x="1111.8" y="928.7" width="7.5" height="54.2" fill="#FFFF00"/>
<rect x="1119.3" y="928.7" width="10.4" height="54.2" fill="#5D9C00"/>
<rect x="1129.7" y="928.7" width="6.4" height="54.2" fill="#FFB900"/>
<rect x="1136.1" y="928.7" width="10.1" height="54.2" fill="#FFFF00"/>
<rect x="140.5" y="1004.8" width="7.5" height="54.2" fill="#FFFF00"/>
<rect x="148.0" y="1004.8" width="4.5" height="54.2" fill="#5D9C00"/>
<rect x="152.5" y="1004.8" width="7.4" height="54.2" fill="#FFFF00"/>
<rect x="159.9" y="1004.8" width="5.7" height="54.2" fill="#8BB900"/>
<rect x="165.6" y="1004.8" width="13.1" height="54.2" fill="#FFB900"/>
<rect x="178.7" y="1004.8" width="13.1" height="54.2" fill="#FFFF00"/>
<rect x="191.8" y="1004.8" width="5.6" height="54.2" fill="#5D9C00"/>
<rect x="197.4" y="1004.8" width="9.3" height="54.2" fill="#FFFF00"/>
<rect x="206.7" y="1004.8" width="7.5" height="54.2" fill="#FFE800"/>
<rect x="214.2" y="1004.8" width="9.4" height="54.2" fill="#B9D500"/>
<rect x="223.6" y="1004.8" width="7.5" height="54.2" fill="#FF8B00"/>
<rect x="231.1" y="1004.8" width="18.7" height="54.2" fill="#FFE800"/>
<rect x="249.8" y="1004.8" width="7.5" height="54.2" fill="#8BB900"/>
<rect x="257.3" y="1004.8" width="20.5" height="54.2" fill="#E8F100"/>
<rect x="277.8" y="1004.8" width="4.9" height="54.2" fill="#5D9C00"/>
<rect x="282.7" y="1004.8" width="5.3" height="54.2" fill="#2E8000"/>
<rect x="288.0" y="1004.8" width="4.8" height="54.2" fill="#FFFFFF"/>
<rect x="292.8" y="1004.8" width="9.4" height="54.2" fill="#8BB900"/>
<rect x="302.2" y="1004.8" width="11.2" height="54.2" fill="#FFFF00"/>
<rect x="313.4" y="1004.8" width="15.0" height="54.2" fill="#FFE800"/>
<rect x="328.4" y="1004.8" width="7.5" height="54.2" fill="#B9D500"/>
<rect x="335.9" y="1004.8" width="5.6" height="54.2" fill="#5D9C00"/>
<rect x="341.5" y="1004.8" width="5.6" height="54.2" fill="#FFFF00"/>
<rect x="347.1" y="1004.8" width="13.1" height="54.2" fill="#8BB900"/>
<rect x="360.2" y="1004.8" width="7.5" height="54.2" fill="#B9D500"/>
<rect x="367.7" y="1004.8" width="5.6" height="54.2" fill="#FFB900"/>
<rect x="373.3" y="1004.8" width="15.0" height="54.2" fill="#B9D500"/>
<rect x="388.3" y="1004.8" width="3.7" height="54.2" fill="#5D9C00"/>
<rect x="392.0" y="1004.8" width="7.5" height="54.2" fill="#FFFF00"/>
<rect x="399.5" y="1004.8" width="7.5" height="54.2" fill="#5D9C00"/>
<rect x="407.0" y="1004.8" width="18.7" height="54.2" fill="#B9D500"/>
<rect x="425.7" y="1004.8" width="5.6" height="54.2" fill="#8BB900"/>
<rect x="431.3" y="1004.8" width="13.1" height="54.2" fill="#B9D500"/>
<rect x="444.4" y="1004.8" width="7.5" height="54.2" fill="#FFB900"/>
<rect x="451.9" y="1004.8" width="5.6" height="54.2" fill="#B9D500"/>
<rect x="457.5" y="1004.8" width="9.4" height="54.2" fill="#5D9C00"/>
<rect x="466.9" y="1004.8" width="11.2" height="54.2" fill="#B9D500"/>
<rect x="478.1" y="1004.8" width="5.6" height="54.2" fill="#5D9C00"/>
<rect x="483.7" y="1004.8" width="20.6" height="54.2" fill="#E8F100"/>
<rect x="504.3" y="1004.8" width="5.6" height="54.2" fill="#FF8B00"/>
<rect x="509.9" y="1004.8" width="13.1" height="54.2" fill="#FFFF00"/>
<rect x="523.0" y="1004.8" width="6.7" height="54.2" fill="#FF8B00"/>
<rect x="529.7" y="1004.8" width="6.4" height="54.2" fill="#B9D500"/>
<rect x="536.1" y="1004.8" width="5.6" height="54.2" fill="#FFE800"/>
<rect x="541.7" y="1004.8" width="18.7" height="54.2" fill="#8BB900"/>
<rect x="560.4" y="1004.8" width="7.5" height="54.2" fill="#FFB900"/>
<rect x="567.9" y="1004.8" width="22.5" height="54.2" fill="#FFFF00"/>
<rect x="590.4" y="1004.8" width="3.7" height="54.2" fill="#5D9C00"/>
<rect x="594.1" y="1004.8" width="18.7" height="54.2" fill="#E8F100"/>
<rect x="612.8" y="1004.8" width="15.0" height="54.2" fill="#B9D500"/>
<rect x="627.8" y="1004.8" width="18.7" height="54.2" fill="#8BB900"/>
<rect x="646.5" y="1004.8" width="4.5" height="54.2" fill="#2E8000"/>
<rect x="651.0" y="1004.8" width="4.9" height="54.2" fill="#5D9C00"/>
<rect x="140.5" y="1080.8" width="12.0" height="54.2" fill="#FFFF00"/>
<rect x="152.5" y="1080.8" width="5.6" height="54.2" fill="#B9D500"/>
<rect x="158.1" y="1080.8" width="7.5" height="54.2" fill="#8BB900"/>
<rect x="165.6" y="1080.8" width="14.9" height="54.2" fill="#E8F100"/>
<rect x="180.5" y="1080.8" width="5.6" height="54.2" fill="#5D9C00"/>
<rect x="186.1" y="1080.8" width="5.7" height="54.2" fill="#FFFF00"/>
<rect x="191.8" y="1080.8" width="7.4" height="54.2" fill="#FFB900"/>
<rect x="199.2" y="1080.8" width="7.5" height="54.2" fill="#8BB900"/>
<rect x="206.7" y="1080.8" width="5.6" height="54.2" fill="#B9D500"/>
<rect x="212.3" y="1080.8" width="5.7" height="54.2" fill="#2E8000"/>
<rect x="218.0" y="1080.8" width="5.6" height="54.2" fill="#FF5D00"/>
<rect x="223.6" y="1080.8" width="14.9" height="54.2" fill="#E8F100"/>
<rect x="238.5" y="1080.8" width="3.8" height="54.2" fill="#8BB900"/>
<rect x="242.3" y="1080.8" width="7.5" height="54.2" fill="#FFB900"/>
<rect x="249.8" y="1080.8" width="14.9" height="54.2" fill="#5D9C00"/>
<rect x="264.7" y="1080.8" width="11.3" height="54.2" fill="#B9D500"/>
<rect x="276.0" y="1080.8" width="7.5" height="54.2" fill="#FFB900"/>
<rect x="283.5" y="1080.8" width="13.1" height="54.2" fill="#E8F100"/>
<rect x="296.6" y="1080.8" width="7.4" height="54.2" fill="#5D9C00"/>
<rect x="304.0" y="1080.8" width="24.4" height="54.2" fill="#E8F100"/>
<rect x="328.4" y="1080.8" width="7.5" height="54.2" fill="#8BB900"/>
<rect x="335.9" y="1080.8" width="3.7" height="54.2" fill="#FFFFFF"/>
<rect x="339.6" y="1080.8" width="15.0" height="54.2" fill="#8BB900"/>
<rect x="354.6" y="1080.8" width="14.9" height="54.2" fill="#5D9C00"/>
<rect x="369.5" y="1080.8" width="3.8" height="54.2" fill="#FFFFFF"/>
<rect x="373.3" y="1080.8" width="18.7" height="54.2" fill="#2E8000"/>
<rect x="392.0" y="1080.8" width="5.6" height="54.2" fill="#006400"/>
<rect x="397.6" y="1080.8" width="3.8" height="54.2" fill="#FFFFFF"/>
<rect x="401.4" y="1080.8" width="18.7" height="54.2" fill="#B9D500"/>
<rect x="420.1" y="1080.8" width="3.7" height="54.2" fill="#2E8000"/>
<rect x="423.8" y="1080.8" width="3.8" height="54.2" fill="#FFFFFF"/>
<rect x="427.6" y="1080.8" width="9.3" height="54.2" fill="#8BB900"/>
<rect x="436.9" y="1080.8" width="15.0" height="54.2" fill="#8BB900"/>
<rect x="451.9" y="1080.8" width="7.5" height="54.2" fill="#FFFF00"/>
<rect x="459.4" y="1080.8" width="12.0" height="54.2" fill="#8BB900"/>
<rect x="471.4" y="1080.8" width="27.3" height="54.2" fill="#E8F100"/>
<rect x="498.7" y="1080.8" width="18.7" height="54.2" fill="#FFFF00"/>
<rect x="517.4" y="1080.8" width="4.9" height="54.2" fill="#006400"/>
<rect x="522.3" y="1080.8" width="2.6" height="54.2" fill="#FFFFFF"/>
<rect x="524.9" y="1080.8" width="13.1" height="54.2" fill="#8BB900"/>
<rect x="538.0" y="1080.8" width="9.3" height="54.2" fill="#5D9C00"/>
<rect x="547.3" y="1080.8" width="16.9" height="54.2" fill="#8BB900"/>
<rect x="564.2" y="1080.8" width="5.6" height="54.2" fill="#5D9C00"/>
<rect x="569.8" y="1080.8" width="5.6" height="54.2" fill="#B9D500"/>
<rect x="575.4" y="1080.8" width="7.5" height="54.2" fill="#FF8B00"/>
<rect x="582.9" y="1080.8" width="20.6" height="54.2" fill="#8BB900"/>
<rect x="603.5" y="1080.8" width="5.6" height="54.2" fill="#FFFFFF"/>
<rect x="609.1" y="1080.8" width="11.2" height="54.2" fill="#FFE800"/>
<rect x="620.3" y="1080.8" width="7.5" height="54.2" fill="#FFB900"/>
<rect x="627.8" y="1080.8" width="5.6" height="54.2" fill="#B9D500"/>
<rect x="633.4" y="1080.8" width="13.1" height="54.2" fill="#FFB900"/>
<rect x="646.5" y="1080.8" width="7.5" height="54.2" fill="#FF8B00"/>
<rect x="654.0" y="1080.8" width="5.6" height="54.2" fill="#2E8000"/>
<rect x="659.6" y="1080.8" width="13.1" height="54.2" fill="#B9D500"/>
<rect x="672.7" y="1080.8" width="15.0" height="54.2" fill="#FFE800"/>
<rect x="687.7" y="1080.8" width="15.0" height="54.2" fill="#8BB900"/>
<rect x="702.7" y="1080.8" width="13.1" height="54.2" fill="#B9D500"/>
<rect x="140.5" y="1156.8" width="10.1" height="54.2" fill="#FFFF00"/>
<rect x="150.6" y="1156.8" width="9.3" height="54.2" fill="#FFB900"/>
<rect x="159.9" y="1156.8" width="15.0" height="54.2" fill="#8BB900"/>
<rect x="174.9" y="1156.8" width="16.9" height="54.2" fill="#B9D500"/>
<rect x="191.8" y="1156.8" width="7.4" height="54.2" fill="#FF2E00"/>
<rect x="199.2" y="1156.8" width="7.5" height="54.2" fill="#FF5D00"/>
<rect x="206.7" y="1156.8" width="5.6" height="54.2" fill="#5D9C00"/>
<rect x="212.3" y="1156.8" width="7.5" height="54.2" fill="#B9D500"/>
<rect x="219.8" y="1156.8" width="22.5" height="54.2" fill="#8BB900"/>
<rect x="242.3" y="1156.8" width="15.0" height="54.2" fill="#FFE800"/>
<rect x="257.3" y="1156.8" width="13.1" height="54.2" fill="#B9D500"/>
<rect x="270.4" y="1156.8" width="13.1" height="54.2" fill="#8BB900"/>
<rect x="283.5" y="1156.8" width="5.6" height="54.2" fill="#B9D500"/>
<rect x="289.1" y="1156.8" width="7.5" height="54.2" fill="#5D9C00"/>
<rect x="296.6" y="1156.8" width="5.6" height="54.2" fill="#B9D500"/>
<rect x="302.2" y="1156.8" width="13.1" height="54.2" fill="#2E8000"/>
<rect x="315.3" y="1156.8" width="18.7" height="54.2" fill="#8BB900"/>
<rect x="334.0" y="1156.8" width="13.1" height="54.2" fill="#2E8000"/>
<rect x="347.1" y="1156.8" width="7.5" height="54.2" fill="#B9D500"/>
<rect x="354.6" y="1156.8" width="13.1" height="54.2" fill="#FFFF00"/>
<rect x="367.7" y="1156.8" width="5.6" height="54.2" fill="#B9D500"/>
<rect x="373.3" y="1156.8" width="18.7" height="54.2" fill="#FFB900"/>
<rect x="392.0" y="1156.8" width="7.5" height="54.2" fill="#FFFF00"/>
<rect x="399.5" y="1156.8" width="5.6" height="54.2" fill="#8BB900"/>
<rect x="405.1" y="1156.8" width="9.4" height="54.2" fill="#B9D500"/>
<rect x="414.5" y="1156.8" width="18.7" height="54.2" fill="#FFFF00"/>
<rect x="433.2" y="1156.8" width="5.6" height="54.2" fill="#8BB900"/>
<rect x="438.8" y="1156.8" width="11.2" height="54.2" fill="#FFFF00"/>
<rect x="450.0" y="1156.8" width="13.1" height="54.2" fill="#FFB900"/>
<rect x="463.1" y="1156.8" width="13.1" height="54.2" fill="#5D9C00"/>
<rect x="476.2" y="1156.8" width="24.4" height="54.2" fill="#8BB900"/>
<rect x="500.6" y="1156.8" width="7.4" height="54.2" fill="#5D9C00"/>
<rect x="508.0" y="1156.8" width="7.5" height="54.2" fill="#FFFF00"/>
<rect x="515.5" y="1156.8" width="5.6" height="54.2" fill="#FFB900"/>
<rect x="521.1" y="1156.8" width="13.1" height="54.2" fill="#FF8B00"/>
<rect x="534.2" y="1156.8" width="7.5" height="54.2" fill="#FFFF00"/>
<rect x="541.7" y="1156.8" width="5.6" height="54.2" fill="#FFB900"/>
<rect x="547.3" y="1156.8" width="10.1" height="54.2" fill="#E8F100"/>
<rect x="140.5" y="1232.9" width="12.0" height="54.2" fill="#FFFF00"/>
<rect x="152.5" y="1232.9" width="20.5" height="54.2" fill="#E8F100"/>
<rect x="173.0" y="1232.9" width="13.1" height="54.2" fill="#8BB900"/>
<rect x="186.1" y="1232.9" width="11.3" height="54.2" fill="#FFE800"/>
<rect x="197.4" y="1232.9" width="9.3" height="54.2" fill="#FF8B00"/>
<rect x="206.7" y="1232.9" width="11.3" height="54.2" fill="#B9D500"/>
<rect x="218.0" y="1232.9" width="7.4" height="54.2" fill="#8BB900"/>
<rect x="225.4" y="1232.9" width="5.7" height="54.2" fill="#FFFF00"/>
<rect x="231.1" y="1232.9" width="6.7" height="54.2" fill="#FF8B00"/>
<rect x="237.8" y="1232.9" width="13.8" height="54.2" fill="#FFFF00"/>
<rect x="251.6" y="1232.9" width="7.5" height="54.2" fill="#8BB900"/>
<rect x="259.1" y="1232.9" width="5.6" height="54.2" fill="#B9D500"/>
<rect x="264.7" y="1232.9" width="26.2" height="54.2" fill="#E8F100"/>
<rect x="290.9" y="1232.9" width="11.3" height="54.2" fill="#8BB900"/>
<rect x="302.2" y="1232.9" width="7.5" height="54.2" fill="#FF8B00"/>
<rect x="309.7" y="1232.9" width="6.7" height="54.2" fill="#FFFF00"/>
<rect x="316.4" y="1232.9" width="12.0" height="54.2" fill="#FFB900"/>
<rect x="328.4" y="1232.9" width="7.5" height="54.2" fill="#FF2E00"/>
<rect x="335.9" y="1232.9" width="31.8" height="54.2" fill="#8BB900"/>
<rect x="367.7" y="1232.9" width="13.1" height="54.2" fill="#FFFF00"/>
<rect x="380.8" y="1232.9" width="5.6" height="54.2" fill="#5D9C00"/>
<rect x="386.4" y="1232.9" width="20.6" height="54.2" fill="#B9D500"/>
<rect x="407.0" y="1232.9" width="18.7" height="54.2" fill="#FFFF00"/>
<rect x="425.7" y="1232.9" width="6.7" height="54.2" fill="#FF8B00"/>
<rect x="432.4" y="1232.9" width="7.5" height="54.2" fill="#FFFF00"/>
<rect x="439.9" y="1232.9" width="6.4" height="54.2" fill="#5D9C00"/>
<rect x="446.3" y="1232.9" width="5.6" height="54.2" fill="#FFFF00"/>
<rect x="451.9" y="1232.9" width="15.0" height="54.2" fill="#FF8B00"/>
<rect x="466.9" y="1232.9" width="31.8" height="54.2" fill="#FFB900"/>
<rect x="498.7" y="1232.9" width="18.7" height="54.2" fill="#E8F100"/>
<rect x="517.4" y="1232.9" width="6.4" height="54.2" fill="#FF8B00"/>
<rect x="523.8" y="1232.9" width="19.8" height="54.2" fill="#8BB900"/>
<rect x="543.6" y="1232.9" width="5.6" height="54.2" fill="#5D9C00"/>
<rect x="549.2" y="1232.9" width="7.5" height="54.2" fill="#FFB900"/>
<rect x="556.7" y="1232.9" width="6.7" height="54.2" fill="#5D9C00"/>
<rect x="563.4" y="1232.9" width="34.5" height="54.2" fill="#B9D500"/>
<rect x="597.9" y="1232.9" width="24.3" height="54.2" fill="#FFFF00"/>
<rect x="622.2" y="1232.9" width="13.1" height="54.2" fill="#FF8B00"/>
<rect x="635.3" y="1232.9" width="5.6" height="54.2" fill="#8BB900"/>
<rect x="640.9" y="1232.9" width="13.1" height="54.2" fill="#FFFF00"/>
<rect x="654.0" y="1232.9" width="7.5" height="54.2" fill="#8BB900"/>
<rect x="661.5" y="1232.9" width="22.5" height="54.2" fill="#FFFF00"/>
<rect x="684.0" y="1232.9" width="9.3" height="54.2" fill="#E8F100"/>
<rect x="693.3" y="1232.9" width="9.4" height="54.2" fill="#8BB900"/>
<rect x="702.7" y="1232.9" width="3.0" height="54.2" fill="#F2F2F2"/>
<rect x="702.7" y="1232.9" width="3.0" height="2.6" fill="#dedede"/>
<rect x="702.7" y="1284.5" width="3.0" height="2.6" fill="#dedede"/>
<rect x="705.7" y="1232.9" width="15.7" height="54.2" fill="#8BB900"/>
<rect x="721.4" y="1232.9" width="8.6" height="54.2" fill="#5D9C00"/>
<rect x="730.0" y="1232.9" width="13.1" height="54.2" fill="#5D9C00"/>
<rect x="743.1" y="1232.9" width="4.9" height="54.2" fill="#2E8000"/>
<rect x="748.0" y="1232.9" width="2.6" height="54.2" fill="#FFFFFF"/>
<rect x="750.6" y="1232.9" width="3.7" height="54.2" fill="#2E8000"/>
<rect x="754.3" y="1232.9" width="11.3" height="54.2" fill="#F2F2F2"/>
<rect x="754.3" y="1232.9" width="11.3" height="2.6" fill="#dedede"/>
<rect x="754.3" y="1284.5" width="11.3" height="2.6" fill="#dedede"/>
<rect x="765.6" y="1232.9" width="18.7" height="54.2" fill="#FFE800"/>
<rect x="784.3" y="1232.9" width="6.3" height="54.2" fill="#FF5D00"/>
<rect x="790.6" y="1232.9" width="12.4" height="54.2" fill="#FFFF00"/>
<rect x="803.0" y="1232.9" width="13.1" height="54.2" fill="#FFE800"/>
<rect x="816.1" y="1232.9" width="10.5" height="54.2" fill="#FF8B00"/>
<rect x="826.6" y="1232.9" width="5.2" height="54.2" fill="#FFFFFF"/>
<rect x="831.8" y="1232.9" width="10.5" height="54.2" fill="#5D9C00"/>
<rect x="842.3" y="1232.9" width="11.2" height="54.2" fill="#8BB900"/>
<rect x="853.5" y="1232.9" width="11.2" height="54.2" fill="#5D9C00"/>
<rect x="864.7" y="1232.9" width="5.7" height="54.2" fill="#2E8000"/>
<rect x="870.4" y="1232.9" width="5.6" height="54.2" fill="#B9D500"/>
<rect x="876.0" y="1232.9" width="9.3" height="54.2" fill="#FFFF00"/>
<rect x="885.3" y="1232.9" width="9.4" height="54.2" fill="#B9D500"/>
<rect x="894.7" y="1232.9" width="13.1" height="54.2" fill="#FFFF00"/>
<rect x="907.8" y="1232.9" width="6.4" height="54.2" fill="#8BB900"/>
<rect x="914.2" y="1232.9" width="8.6" height="54.2" fill="#FFFF00"/>
<rect x="922.8" y="1232.9" width="7.4" height="54.2" fill="#FFE800"/>
<rect x="930.2" y="1232.9" width="15.0" height="54.2" fill="#8BB900"/>
<rect x="945.2" y="1232.9" width="8.6" height="54.2" fill="#5D9C00"/>
<rect x="953.8" y="1232.9" width="6.4" height="54.2" fill="#FFB900"/>
<rect x="960.2" y="1232.9" width="24.3" height="54.2" fill="#FFFF00"/>
<rect x="984.5" y="1232.9" width="9.4" height="54.2" fill="#8BB900"/>
<rect x="993.9" y="1232.9" width="3.7" height="54.2" fill="#2E8000"/>
<rect x="997.6" y="1232.9" width="2.6" height="54.2" fill="#FFFFFF"/>
<rect x="1000.2" y="1232.9" width="18.0" height="54.2" fill="#5D9C00"/>
<rect x="1018.2" y="1232.9" width="7.5" height="54.2" fill="#FF5D00"/>
<rect x="1025.7" y="1232.9" width="20.6" height="54.2" fill="#FFFF00"/>
<rect x="1046.3" y="1232.9" width="20.6" height="54.2" fill="#B9D500"/>
<rect x="1066.9" y="1232.9" width="9.3" height="54.2" fill="#E8F100"/>
<rect x="1076.2" y="1232.9" width="4.9" height="54.2" fill="#006400"/>
<rect x="1081.1" y="1232.9" width="3.7" height="54.2" fill="#FFFFFF"/>
<rect x="1084.8" y="1232.9" width="6.4" height="54.2" fill="#FFFF00"/>
<rect x="1091.2" y="1232.9" width="11.2" height="54.2" fill="#8BB900"/>
<rect x="1102.4" y="1232.9" width="13.1" height="54.2" fill="#FFFF00"/>
<rect x="1115.5" y="1232.9" width="7.5" height="54.2" fill="#FF5D00"/>
<rect x="1123.0" y="1232.9" width="11.2" height="54.2" fill="#B9D500"/>
<rect x="1134.2" y="1232.9" width="9.4" height="54.2" fill="#5D9C00"/>
<rect x="1143.6" y="1232.9" width="5.6" height="54.2" fill="#FFFFFF"/>
<rect x="1149.2" y="1232.9" width="13.1" height="54.2" fill="#2E8000"/>
<rect x="1162.3" y="1232.9" width="5.6" height="54.2" fill="#FFFFFF"/>
<rect x="1167.9" y="1232.9" width="13.1" height="54.2" fill="#8BB900"/>
<rect x="1181.0" y="1232.9" width="7.5" height="54.2" fill="#FF8B00"/>
<rect x="1188.5" y="1232.9" width="13.1" height="54.2" fill="#FFFF00"/>
<rect x="1201.6" y="1232.9" width="13.1" height="54.2" fill="#5D9C00"/>
<rect x="1214.7" y="1232.9" width="13.1" height="54.2" fill="#8BB900"/>
<rect x="1227.8" y="1232.9" width="26.2" height="54.2" fill="#FFFF00"/>
<rect x="1254.0" y="1232.9" width="3.8" height="54.2" fill="#2E8000"/>
<rect x="1257.8" y="1232.9" width="3.7" height="54.2" fill="#FFFFFF"/>
<rect x="1261.5" y="1232.9" width="13.1" height="54.2" fill="#8BB900"/>
<rect x="1274.6" y="1232.9" width="16.8" height="54.2" fill="#B9D500"/>
<rect x="1291.4" y="1232.9" width="11.3" height="54.2" fill="#FFE800"/>
<rect x="1302.7" y="1232.9" width="14.9" height="54.2" fill="#8BB900"/>
<rect x="1317.6" y="1232.9" width="7.5" height="54.2" fill="#FFFF00"/>
<rect x="1325.1" y="1232.9" width="4.9" height="54.2" fill="#B9D500"/>
<rect x="1330.0" y="1232.9" width="7.5" height="54.2" fill="#8BB900"/>
<rect x="1337.5" y="1232.9" width="7.5" height="54.2" fill="#FFB900"/>
<rect x="1345.0" y="1232.9" width="5.6" height="54.2" fill="#B9D500"/>
<rect x="1350.6" y="1232.9" width="20.6" height="54.2" fill="#FFE800"/>
<rect x="1371.2" y="1232.9" width="6.7" height="54.2" fill="#B9D500"/>
<rect x="1377.9" y="1232.9" width="5.2" height="54.2" fill="#5D9C00"/>
<rect x="1383.1" y="1232.9" width="7.5" height="54.2" fill="#FFFF00"/>
<rect x="1390.6" y="1232.9" width="6.0" height="54.2" fill="#5D9C00"/>
<rect x="1396.6" y="1232.9" width="6.4" height="54.2" fill="#B9D500"/>
<rect x="1403.0" y="1232.9" width="7.5" height="54.2" fill="#FFFF00"/>
<rect x="1410.5" y="1232.9" width="11.2" height="54.2" fill="#8BB900"/>
<rect x="1421.7" y="1232.9" width="13.1" height="54.2" fill="#2E8000"/>
<rect x="1434.8" y="1232.9" width="6.7" height="54.2" fill="#8BB900"/>
<rect x="1441.5" y="1232.9" width="7.5" height="54.2" fill="#FFB900"/>
<rect x="1449.0" y="1232.9" width="6.4" height="54.2" fill="#5D9C00"/>
<rect x="1455.4" y="1232.9" width="12.3" height="54.2" fill="#FFFF00"/>
<rect x="1467.7" y="1232.9" width="6.4" height="54.2" fill="#FFB900"/>
<rect x="1474.1" y="1232.9" width="20.6" height="54.2" fill="#FFE800"/>
<rect x="1494.7" y="1232.9" width="13.1" height="54.2" fill="#FFFF00"/>
<rect x="1507.8" y="1232.9" width="5.6" height="54.2" fill="#8BB900"/>
<rect x="1513.4" y="1232.9" width="20.6" height="54.2" fill="#B9D500"/>
<rect x="1534.0" y="1232.9" width="5.6" height="54.2" fill="#FF5D00"/>
<rect x="1539.6" y="1232.9" width="5.6" height="54.2" fill="#FFFF00"/>
<rect x="1545.2" y="1232.9" width="13.1" height="54.2" fill="#8BB900"/>
<rect x="1558.3" y="1232.9" width="10.5" height="54.2" fill="#E8F100"/>
<rect x="140.5" y="1309.0" width="12.7" height="54.2" fill="#B9D500"/>
<rect x="153.2" y="1309.0" width="6.7" height="54.2" fill="#5D9C00"/>
<rect x="159.9" y="1309.0" width="5.7" height="54.2" fill="#8BB900"/>
<rect x="165.6" y="1309.0" width="16.8" height="54.2" fill="#FFE800"/>
<rect x="182.4" y="1309.0" width="13.1" height="54.2" fill="#FFFF00"/>
<rect x="195.5" y="1309.0" width="2.6" height="54.2" fill="#F2F2F2"/>
<rect x="195.5" y="1309.0" width="2.6" height="2.6" fill="#dedede"/>
<rect x="195.5" y="1360.6" width="2.6" height="2.6" fill="#dedede"/>
<rect x="198.1" y="1309.0" width="6.8" height="54.2" fill="#2E8000"/>
<rect x="204.9" y="1309.0" width="5.6" height="54.2" fill="#FFFF00"/>
<rect x="210.5" y="1309.0" width="18.7" height="54.2" fill="#FFB900"/>
<rect x="229.2" y="1309.0" width="15.0" height="54.2" fill="#FFE800"/>
<rect x="244.2" y="1309.0" width="7.4" height="54.2" fill="#FF2E00"/>
<rect x="251.6" y="1309.0" width="7.5" height="54.2" fill="#FFFF00"/>
<rect x="259.1" y="1309.0" width="7.5" height="54.2" fill="#B9D500"/>
<rect x="266.6" y="1309.0" width="28.1" height="54.2" fill="#8BB900"/>
<rect x="294.7" y="1309.0" width="15.0" height="54.2" fill="#FFFF00"/>
<rect x="309.7" y="1309.0" width="11.2" height="54.2" fill="#FFE800"/>
<rect x="320.9" y="1309.0" width="20.6" height="54.2" fill="#FFFF00"/>
<rect x="341.5" y="1309.0" width="6.3" height="54.2" fill="#FF2E00"/>
<rect x="347.8" y="1309.0" width="8.6" height="54.2" fill="#FFFF00"/>
<rect x="356.4" y="1309.0" width="7.5" height="54.2" fill="#FF8B00"/>
<rect x="363.9" y="1309.0" width="11.3" height="54.2" fill="#FF5D00"/>
<rect x="375.2" y="1309.0" width="6.3" height="54.2" fill="#FF8B00"/>
<rect x="381.5" y="1309.0" width="6.0" height="54.2" fill="#FF2E00"/>
<rect x="387.5" y="1309.0" width="6.4" height="54.2" fill="#FFFF00"/>
<rect x="393.9" y="1309.0" width="7.5" height="54.2" fill="#FF8B00"/>
<rect x="401.4" y="1309.0" width="4.8" height="54.2" fill="#2E8000"/>
<rect x="406.2" y="1309.0" width="8.3" height="54.2" fill="#FFB900"/>
<rect x="414.5" y="1309.0" width="18.7" height="54.2" fill="#E8F100"/>
<rect x="433.2" y="1309.0" width="14.9" height="54.2" fill="#FFB900"/>
<rect x="448.1" y="1309.0" width="18.8" height="54.2" fill="#FFFF00"/>
<rect x="466.9" y="1309.0" width="16.8" height="54.2" fill="#FF5D00"/>
<rect x="483.7" y="1309.0" width="7.5" height="54.2" fill="#FFFF00"/>
<rect x="491.2" y="1309.0" width="7.5" height="54.2" fill="#2E8000"/>
<rect x="498.7" y="1309.0" width="5.6" height="54.2" fill="#B9D500"/>
<rect x="504.3" y="1309.0" width="7.5" height="54.2" fill="#5D9C00"/>
<rect x="511.8" y="1309.0" width="20.6" height="54.2" fill="#FFFF00"/>
<rect x="532.4" y="1309.0" width="7.5" height="54.2" fill="#FFE800"/>
<rect x="539.9" y="1309.0" width="9.3" height="54.2" fill="#B9D500"/>
<rect x="549.2" y="1309.0" width="9.4" height="54.2" fill="#FF5D00"/>
<rect x="558.6" y="1309.0" width="5.6" height="54.2" fill="#FFE800"/>
<rect x="564.2" y="1309.0" width="7.5" height="54.2" fill="#FF8B00"/>
<rect x="571.7" y="1309.0" width="11.2" height="54.2" fill="#FFFF00"/>
<rect x="582.9" y="1309.0" width="13.1" height="54.2" fill="#FF5D00"/>
<rect x="596.0" y="1309.0" width="13.1" height="54.2" fill="#FFFF00"/>
<rect x="609.1" y="1309.0" width="15.0" height="54.2" fill="#FFB900"/>
<rect x="624.1" y="1309.0" width="14.9" height="54.2" fill="#8BB900"/>
<rect x="639.0" y="1309.0" width="7.5" height="54.2" fill="#FFFF00"/>
<rect x="646.5" y="1309.0" width="15.0" height="54.2" fill="#FFB900"/>
<rect x="661.5" y="1309.0" width="4.5" height="54.2" fill="#5D9C00"/>
<rect x="666.0" y="1309.0" width="10.5" height="54.2" fill="#FFFF00"/>
<rect x="676.5" y="1309.0" width="7.5" height="54.2" fill="#FFE800"/>
<rect x="684.0" y="1309.0" width="9.3" height="54.2" fill="#FFFF00"/>
<rect x="693.3" y="1309.0" width="7.5" height="54.2" fill="#5D9C00"/>
<rect x="700.8" y="1309.0" width="13.1" height="54.2" fill="#B9D500"/>
<rect x="713.9" y="1309.0" width="5.6" height="54.2" fill="#2E8000"/>
<rect x="719.5" y="1309.0" width="3.8" height="54.2" fill="#FFFFFF"/>
<rect x="723.3" y="1309.0" width="6.7" height="54.2" fill="#5D9C00"/>
<rect x="730.0" y="1309.0" width="15.0" height="54.2" fill="#8BB900"/>
<rect x="745.0" y="1309.0" width="9.3" height="54.2" fill="#B9D500"/>
<rect x="754.3" y="1309.0" width="4.9" height="54.2" fill="#2E8000"/>
<rect x="759.2" y="1309.0" width="12.0" height="54.2" fill="#8BB900"/>
<rect x="771.2" y="1309.0" width="14.9" height="54.2" fill="#FFFF00"/>
<rect x="786.1" y="1309.0" width="18.8" height="54.2" fill="#8BB900"/>
<rect x="804.9" y="1309.0" width="6.7" height="54.2" fill="#5D9C00"/>
<rect x="811.6" y="1309.0" width="12.0" height="54.2" fill="#8BB900"/>
<rect x="823.6" y="1309.0" width="14.9" height="54.2" fill="#B9D500"/>
<rect x="838.5" y="1309.0" width="11.3" height="54.2" fill="#FFFF00"/>
<rect x="849.8" y="1309.0" width="13.1" height="54.2" fill="#8BB900"/>
<rect x="862.9" y="1309.0" width="7.5" height="54.2" fill="#FF8B00"/>
<rect x="870.4" y="1309.0" width="26.2" height="54.2" fill="#8BB900"/>
<rect x="896.6" y="1309.0" width="4.5" height="54.2" fill="#2E8000"/>
<rect x="901.1" y="1309.0" width="1.8" height="54.2" fill="#FFFFFF"/>
<rect x="902.9" y="1309.0" width="14.2" height="54.2" fill="#FFFF00"/>
<rect x="917.1" y="1309.0" width="7.5" height="54.2" fill="#5D9C00"/>
<rect x="924.6" y="1309.0" width="15.0" height="54.2" fill="#8BB900"/>
<rect x="939.6" y="1309.0" width="15.0" height="54.2" fill="#5D9C00"/>
<rect x="954.6" y="1309.0" width="7.5" height="54.2" fill="#B9D500"/>
<rect x="962.1" y="1309.0" width="13.1" height="54.2" fill="#2E8000"/>
<rect x="975.2" y="1309.0" width="11.2" height="54.2" fill="#B9D500"/>
<rect x="986.4" y="1309.0" width="7.5" height="54.2" fill="#FFFF00"/>
<rect x="993.9" y="1309.0" width="13.1" height="54.2" fill="#8BB900"/>
<rect x="1007.0" y="1309.0" width="18.7" height="54.2" fill="#B9D500"/>
<rect x="1025.7" y="1309.0" width="15.0" height="54.2" fill="#8BB900"/>
<rect x="1040.7" y="1309.0" width="7.4" height="54.2" fill="#B9D500"/>
<rect x="1048.1" y="1309.0" width="4.5" height="54.2" fill="#5D9C00"/>
<rect x="1052.6" y="1309.0" width="6.8" height="54.2" fill="#FFFF00"/>
<rect x="1059.4" y="1309.0" width="7.5" height="54.2" fill="#FFB900"/>
<rect x="1066.9" y="1309.0" width="5.6" height="54.2" fill="#B9D500"/>
<rect x="1072.5" y="1309.0" width="18.7" height="54.2" fill="#FF8B00"/>
<rect x="1091.2" y="1309.0" width="13.1" height="54.2" fill="#FFE800"/>
<rect x="1104.3" y="1309.0" width="7.5" height="54.2" fill="#B9D500"/>
<rect x="1111.8" y="1309.0" width="6.7" height="54.2" fill="#FF5D00"/>
<rect x="1118.5" y="1309.0" width="5.3" height="54.2" fill="#5D9C00"/>
<rect x="1123.8" y="1309.0" width="12.3" height="54.2" fill="#FFFF00"/>
<rect x="1136.1" y="1309.0" width="11.2" height="54.2" fill="#FFB900"/>
<rect x="140.5" y="1385.0" width="6.3" height="54.2" fill="#B9D500"/>
<rect x="146.8" y="1385.0" width="7.5" height="54.2" fill="#FFB900"/>
<rect x="154.3" y="1385.0" width="7.5" height="54.2" fill="#B9D500"/>
<rect x="161.8" y="1385.0" width="16.9" height="54.2" fill="#8BB900"/>
<rect x="178.7" y="1385.0" width="13.1" height="54.2" fill="#5D9C00"/>
<rect x="191.8" y="1385.0" width="18.7" height="54.2" fill="#B9D500"/>
<rect x="210.5" y="1385.0" width="6.3" height="54.2" fill="#2E8000"/>
<rect x="216.8" y="1385.0" width="4.9" height="54.2" fill="#FFFFFF"/>
<rect x="221.7" y="1385.0" width="7.5" height="54.2" fill="#FFFF00"/>
<rect x="229.2" y="1385.0" width="13.1" height="54.2" fill="#E8F100"/>
<rect x="242.3" y="1385.0" width="7.5" height="54.2" fill="#FFB900"/>
<rect x="249.8" y="1385.0" width="9.3" height="54.2" fill="#FFFF00"/>
<rect x="259.1" y="1385.0" width="20.6" height="54.2" fill="#FFB900"/>
<rect x="279.7" y="1385.0" width="11.2" height="54.2" fill="#FFFF00"/>
<rect x="290.9" y="1385.0" width="5.7" height="54.2" fill="#8BB900"/>
<rect x="296.6" y="1385.0" width="13.1" height="54.2" fill="#B9D500"/>
<rect x="309.7" y="1385.0" width="5.6" height="54.2" fill="#8BB900"/>
<rect x="315.3" y="1385.0" width="14.9" height="54.2" fill="#E8F100"/>
<rect x="330.2" y="1385.0" width="11.3" height="54.2" fill="#5D9C00"/>
<rect x="341.5" y="1385.0" width="13.1" height="54.2" fill="#B9D500"/>
<rect x="354.6" y="1385.0" width="13.1" height="54.2" fill="#FFFF00"/>
<rect x="367.7" y="1385.0" width="6.3" height="54.2" fill="#FF8B00"/>
<rect x="374.0" y="1385.0" width="14.3" height="54.2" fill="#B9D500"/>
<rect x="388.3" y="1385.0" width="5.6" height="54.2" fill="#FFB900"/>
<rect x="393.9" y="1385.0" width="26.2" height="54.2" fill="#B9D500"/>
<rect x="420.1" y="1385.0" width="5.6" height="54.2" fill="#2E8000"/>
<rect x="425.7" y="1385.0" width="43.0" height="54.2" fill="#B9D500"/>
<rect x="468.7" y="1385.0" width="3.8" height="54.2" fill="#5D9C00"/>
<rect x="472.5" y="1385.0" width="13.1" height="54.2" fill="#B9D500"/>
<rect x="485.6" y="1385.0" width="7.5" height="54.2" fill="#5D9C00"/>
<rect x="493.1" y="1385.0" width="24.3" height="54.2" fill="#8BB900"/>
<rect x="517.4" y="1385.0" width="6.4" height="54.2" fill="#FF8B00"/>
<rect x="523.8" y="1385.0" width="14.2" height="54.2" fill="#FFFF00"/>
<rect x="538.0" y="1385.0" width="5.6" height="54.2" fill="#5D9C00"/>
<rect x="543.6" y="1385.0" width="13.1" height="54.2" fill="#B9D500"/>
<rect x="556.7" y="1385.0" width="5.6" height="54.2" fill="#8BB900"/>
<rect x="562.3" y="1385.0" width="13.1" height="54.2" fill="#FFFF00"/>
<rect x="575.4" y="1385.0" width="13.1" height="54.2" fill="#8BB900"/>
<rect x="588.5" y="1385.0" width="18.7" height="54.2" fill="#5D9C00"/>
<rect x="607.2" y="1385.0" width="5.6" height="54.2" fill="#FFFF00"/>
<rect x="612.8" y="1385.0" width="22.5" height="54.2" fill="#FFB900"/>
<rect x="635.3" y="1385.0" width="13.1" height="54.2" fill="#FFFF00"/>
<rect x="648.4" y="1385.0" width="5.6" height="54.2" fill="#FF8B00"/>
<rect x="654.0" y="1385.0" width="20.6" height="54.2" fill="#8BB900"/>
<rect x="674.6" y="1385.0" width="9.4" height="54.2" fill="#F2F2F2"/>
<rect x="674.6" y="1385.0" width="9.4" height="2.6" fill="#dedede"/>
<rect x="674.6" y="1436.6" width="9.4" height="2.6" fill="#dedede"/>
<rect x="684.0" y="1385.0" width="7.4" height="54.2" fill="#B9D500"/>
<rect x="691.4" y="1385.0" width="7.5" height="54.2" fill="#FFFF00"/>
<rect x="698.9" y="1385.0" width="7.5" height="54.2" fill="#FFB900"/>
<rect x="706.4" y="1385.0" width="13.1" height="54.2" fill="#B9D500"/>
<rect x="719.5" y="1385.0" width="5.6" height="54.2" fill="#FFB900"/>
<rect x="725.1" y="1385.0" width="4.9" height="54.2" fill="#FFFF00"/>
<rect x="730.0" y="1385.0" width="4.5" height="54.2" fill="#FFB900"/>
<rect x="734.5" y="1385.0" width="8.6" height="54.2" fill="#B9D500"/>
<rect x="743.1" y="1385.0" width="7.5" height="54.2" fill="#2E8000"/>
<rect x="750.6" y="1385.0" width="9.3" height="54.2" fill="#F2F2F2"/>
<rect x="750.6" y="1385.0" width="9.3" height="2.6" fill="#dedede"/>
<rect x="750.6" y="1436.6" width="9.3" height="2.6" fill="#dedede"/>
<rect x="759.9" y="1385.0" width="6.4" height="54.2" fill="#5D9C00"/>
<rect x="766.3" y="1385.0" width="4.9" height="54.2" fill="#FFFFFF"/>
<rect x="771.2" y="1385.0" width="5.6" height="54.2" fill="#B9D500"/>
<rect x="776.8" y="1385.0" width="13.1" height="54.2" fill="#2E8000"/>
<rect x="789.9" y="1385.0" width="18.7" height="54.2" fill="#8BB900"/>
<rect x="808.6" y="1385.0" width="5.6" height="54.2" fill="#F2F2F2"/>
<rect x="808.6" y="1385.0" width="5.6" height="2.6" fill="#dedede"/>
<rect x="808.6" y="1436.6" width="5.6" height="2.6" fill="#dedede"/>
<rect x="814.2" y="1385.0" width="13.1" height="54.2" fill="#8BB900"/>
<rect x="827.3" y="1385.0" width="7.5" height="54.2" fill="#FFFF00"/>
<rect x="834.8" y="1385.0" width="7.5" height="54.2" fill="#FFB900"/>
<rect x="842.3" y="1385.0" width="7.5" height="54.2" fill="#FFFF00"/>
<rect x="849.8" y="1385.0" width="11.2" height="54.2" fill="#8BB900"/>
<rect x="861.0" y="1385.0" width="9.4" height="54.2" fill="#FF5D00"/>
<rect x="870.4" y="1385.0" width="13.1" height="54.2" fill="#B9D500"/>
<rect x="883.5" y="1385.0" width="20.5" height="54.2" fill="#F2F2F2"/>
<rect x="883.5" y="1385.0" width="20.5" height="2.6" fill="#dedede"/>
<rect x="883.5" y="1436.6" width="20.5" height="2.6" fill="#dedede"/>
<rect x="904.0" y="1385.0" width="11.3" height="54.2" fill="#B9D500"/>
<rect x="915.3" y="1385.0" width="4.8" height="54.2" fill="#2E8000"/>
<rect x="920.1" y="1385.0" width="4.5" height="54.2" fill="#FFFFFF"/>
<rect x="924.6" y="1385.0" width="3.8" height="54.2" fill="#2E8000"/>
<rect x="928.4" y="1385.0" width="11.2" height="54.2" fill="#B9D500"/>
<rect x="939.6" y="1385.0" width="15.0" height="54.2" fill="#FFFF00"/>
<rect x="954.6" y="1385.0" width="14.9" height="54.2" fill="#FFB900"/>
<rect x="969.5" y="1385.0" width="5.7" height="54.2" fill="#FFFF00"/>
<rect x="975.2" y="1385.0" width="16.8" height="54.2" fill="#FF8B00"/>
<rect x="992.0" y="1385.0" width="7.5" height="54.2" fill="#FFE800"/>
<rect x="999.5" y="1385.0" width="6.7" height="54.2" fill="#FF2E00"/>
<rect x="1006.2" y="1385.0" width="10.1" height="54.2" fill="#FFFF00"/>
<rect x="1016.3" y="1385.0" width="15.0" height="54.2" fill="#FFB900"/>
<rect x="1031.3" y="1385.0" width="7.5" height="54.2" fill="#FFFF00"/>
<rect x="1038.8" y="1385.0" width="7.5" height="54.2" fill="#8BB900"/>
<rect x="1046.3" y="1385.0" width="22.4" height="54.2" fill="#E8F100"/>
<rect x="1068.7" y="1385.0" width="9.4" height="54.2" fill="#FFB900"/>
<rect x="1078.1" y="1385.0" width="13.1" height="54.2" fill="#B9D500"/>
<rect x="1091.2" y="1385.0" width="16.8" height="54.2" fill="#5D9C00"/>
<rect x="1108.0" y="1385.0" width="13.1" height="54.2" fill="#B9D500"/>
<rect x="1121.1" y="1385.0" width="11.3" height="54.2" fill="#FFB900"/>
<rect x="1132.4" y="1385.0" width="16.8" height="54.2" fill="#B9D500"/>
<rect x="1149.2" y="1385.0" width="11.2" height="54.2" fill="#5D9C00"/>
<rect x="1160.4" y="1385.0" width="11.3" height="54.2" fill="#E8F100"/>
<rect x="140.5" y="1461.0" width="10.1" height="54.2" fill="#8BB900"/>
<rect x="150.6" y="1461.0" width="9.3" height="54.2" fill="#FFFF00"/>
<rect x="159.9" y="1461.0" width="7.5" height="54.2" fill="#8BB900"/>
<rect x="167.4" y="1461.0" width="4.5" height="54.2" fill="#5D9C00"/>
<rect x="171.9" y="1461.0" width="4.9" height="54.2" fill="#FFB900"/>
<rect x="176.8" y="1461.0" width="9.3" height="54.2" fill="#FFFF00"/>
<rect x="186.1" y="1461.0" width="5.7" height="54.2" fill="#2E8000"/>
<rect x="191.8" y="1461.0" width="16.8" height="54.2" fill="#8BB900"/>
<rect x="208.6" y="1461.0" width="8.2" height="54.2" fill="#5D9C00"/>
<rect x="216.8" y="1461.0" width="8.6" height="54.2" fill="#FFE800"/>
<rect x="225.4" y="1461.0" width="13.1" height="54.2" fill="#E8F100"/>
<rect x="238.5" y="1461.0" width="18.8" height="54.2" fill="#8BB900"/>
<rect x="257.3" y="1461.0" width="9.3" height="54.2" fill="#FFB900"/>
<rect x="266.6" y="1461.0" width="9.4" height="54.2" fill="#FFFF00"/>
<rect x="276.0" y="1461.0" width="18.7" height="54.2" fill="#FFE800"/>
<rect x="294.7" y="1461.0" width="9.3" height="54.2" fill="#FFB900"/>
<rect x="304.0" y="1461.0" width="6.4" height="54.2" fill="#B9D500"/>
<rect x="310.4" y="1461.0" width="4.9" height="54.2" fill="#2E8000"/>
<rect x="315.3" y="1461.0" width="13.1" height="54.2" fill="#E8F100"/>
<rect x="328.4" y="1461.0" width="13.1" height="54.2" fill="#8BB900"/>
<rect x="341.5" y="1461.0" width="5.6" height="54.2" fill="#FFB900"/>
<rect x="347.1" y="1461.0" width="20.6" height="54.2" fill="#8BB900"/>
<rect x="367.7" y="1461.0" width="7.5" height="54.2" fill="#FF5D00"/>
<rect x="375.2" y="1461.0" width="13.1" height="54.2" fill="#FFB900"/>
<rect x="388.3" y="1461.0" width="5.6" height="54.2" fill="#FFFF00"/>
<rect x="393.9" y="1461.0" width="5.6" height="54.2" fill="#8BB900"/>
<rect x="399.5" y="1461.0" width="24.3" height="54.2" fill="#E8F100"/>
<rect x="423.8" y="1461.0" width="9.4" height="54.2" fill="#5D9C00"/>
<rect x="433.2" y="1461.0" width="4.5" height="54.2" fill="#006400"/>
<rect x="437.7" y="1461.0" width="3.0" height="54.2" fill="#FFFFFF"/>
<rect x="440.7" y="1461.0" width="18.7" height="54.2" fill="#8BB900"/>
<rect x="459.4" y="1461.0" width="13.1" height="54.2" fill="#B9D500"/>
<rect x="472.5" y="1461.0" width="7.5" height="54.2" fill="#8BB900"/>
<rect x="480.0" y="1461.0" width="5.6" height="54.2" fill="#FFFF00"/>
<rect x="485.6" y="1461.0" width="3.7" height="54.2" fill="#FFFFFF"/>
<rect x="489.3" y="1461.0" width="9.4" height="54.2" fill="#5D9C00"/>
<rect x="498.7" y="1461.0" width="3.7" height="54.2" fill="#FFFFFF"/>
<rect x="502.4" y="1461.0" width="15.0" height="54.2" fill="#5D9C00"/>
<rect x="517.4" y="1461.0" width="7.5" height="54.2" fill="#FF5D00"/>
<rect x="524.9" y="1461.0" width="7.5" height="54.2" fill="#FFFF00"/>
<rect x="532.4" y="1461.0" width="5.6" height="54.2" fill="#FFE800"/>
<rect x="538.0" y="1461.0" width="11.2" height="54.2" fill="#FFFF00"/>
<rect x="549.2" y="1461.0" width="7.5" height="54.2" fill="#B9D500"/>
<rect x="556.7" y="1461.0" width="6.7" height="54.2" fill="#5D9C00"/>
<rect x="563.4" y="1461.0" width="12.0" height="54.2" fill="#FFFF00"/>
<rect x="575.4" y="1461.0" width="6.7" height="54.2" fill="#FF8B00"/>
<rect x="582.1" y="1461.0" width="6.4" height="54.2" fill="#FFFF00"/>
<rect x="588.5" y="1461.0" width="7.5" height="54.2" fill="#FFE800"/>
<rect x="596.0" y="1461.0" width="6.4" height="54.2" fill="#FF5D00"/>
<rect x="602.4" y="1461.0" width="17.9" height="54.2" fill="#FFFF00"/>
<rect x="620.3" y="1461.0" width="9.4" height="54.2" fill="#FFB900"/>
<rect x="629.7" y="1461.0" width="24.3" height="54.2" fill="#FFFF00"/>
<rect x="654.0" y="1461.0" width="18.7" height="54.2" fill="#E8F100"/>
<rect x="672.7" y="1461.0" width="7.5" height="54.2" fill="#FFE800"/>
<rect x="680.2" y="1461.0" width="9.4" height="54.2" fill="#8BB900"/>
<rect x="689.6" y="1461.0" width="11.2" height="54.2" fill="#FFFF00"/>
<rect x="700.8" y="1461.0" width="9.4" height="54.2" fill="#5D9C00"/>
<rect x="140.5" y="1537.1" width="12.7" height="54.2" fill="#FFB900"/>
<rect x="153.2" y="1537.1" width="6.0" height="54.2" fill="#FF8B00"/>
<rect x="159.2" y="1537.1" width="6.4" height="54.2" fill="#B9D500"/>
<rect x="165.6" y="1537.1" width="13.1" height="54.2" fill="#FFB900"/>
<rect x="178.7" y="1537.1" width="7.4" height="54.2" fill="#FFFF00"/>
<rect x="186.1" y="1537.1" width="7.5" height="54.2" fill="#8BB900"/>
<rect x="193.6" y="1537.1" width="4.5" height="54.2" fill="#5D9C00"/>
<rect x="198.1" y="1537.1" width="6.8" height="54.2" fill="#B9D500"/>
<rect x="204.9" y="1537.1" width="5.6" height="54.2" fill="#FFFF00"/>
<rect x="210.5" y="1537.1" width="7.5" height="54.2" fill="#FFE800"/>
<rect x="218.0" y="1537.1" width="11.2" height="54.2" fill="#8BB900"/>
<rect x="229.2" y="1537.1" width="16.8" height="54.2" fill="#5D9C00"/>
<rect x="246.0" y="1537.1" width="9.4" height="54.2" fill="#2E8000"/>
<rect x="255.4" y="1537.1" width="5.6" height="54.2" fill="#B9D500"/>
<rect x="261.0" y="1537.1" width="8.2" height="54.2" fill="#FFFF00"/>
<rect x="269.2" y="1537.1" width="12.4" height="54.2" fill="#5D9C00"/>
<rect x="281.6" y="1537.1" width="7.5" height="54.2" fill="#FFE800"/>
<rect x="289.1" y="1537.1" width="9.3" height="54.2" fill="#B9D500"/>
<rect x="298.4" y="1537.1" width="22.5" height="54.2" fill="#FFFF00"/>
<rect x="320.9" y="1537.1" width="5.6" height="54.2" fill="#FF8B00"/>
<rect x="326.5" y="1537.1" width="28.1" height="54.2" fill="#B9D500"/>
<rect x="354.6" y="1537.1" width="6.7" height="54.2" fill="#FF8B00"/>
<rect x="361.3" y="1537.1" width="13.9" height="54.2" fill="#B9D500"/>
<rect x="375.2" y="1537.1" width="6.3" height="54.2" fill="#2E8000"/>
<rect x="381.5" y="1537.1" width="10.5" height="54.2" fill="#FFFF00"/>
<rect x="392.0" y="1537.1" width="5.6" height="54.2" fill="#FF8B00"/>
<rect x="397.6" y="1537.1" width="7.5" height="54.2" fill="#FFFF00"/>
<rect x="405.1" y="1537.1" width="6.4" height="54.2" fill="#FFB900"/>
<rect x="411.5" y="1537.1" width="7.5" height="54.2" fill="#FF5D00"/>
<rect x="419.0" y="1537.1" width="19.8" height="54.2" fill="#E8F100"/>
<rect x="438.8" y="1537.1" width="5.6" height="54.2" fill="#FF5D00"/>
<rect x="444.4" y="1537.1" width="11.2" height="54.2" fill="#FFE800"/>
<rect x="455.6" y="1537.1" width="6.8" height="54.2" fill="#FFFF00"/>
<rect x="462.4" y="1537.1" width="6.3" height="54.2" fill="#FF5D00"/>
<rect x="468.7" y="1537.1" width="13.1" height="54.2" fill="#FFFF00"/>
<rect x="481.8" y="1537.1" width="5.7" height="54.2" fill="#5D9C00"/>
<rect x="487.5" y="1537.1" width="14.9" height="54.2" fill="#FFFF00"/>
<rect x="502.4" y="1537.1" width="5.6" height="54.2" fill="#B9D500"/>
<rect x="508.0" y="1537.1" width="26.2" height="54.2" fill="#8BB900"/>
<rect x="534.2" y="1537.1" width="5.7" height="54.2" fill="#B9D500"/>
<rect x="539.9" y="1537.1" width="20.5" height="54.2" fill="#E8F100"/>
<rect x="560.4" y="1537.1" width="15.0" height="54.2" fill="#FFFF00"/>
<rect x="575.4" y="1537.1" width="9.4" height="54.2" fill="#8BB900"/>
<rect x="584.8" y="1537.1" width="10.4" height="54.2" fill="#FFB900"/>
<rect x="140.5" y="1613.1" width="10.1" height="54.2" fill="#FFFF00"/>
<rect x="150.6" y="1613.1" width="7.5" height="54.2" fill="#8BB900"/>
<rect x="158.1" y="1613.1" width="20.6" height="54.2" fill="#FFFF00"/>
<rect x="178.7" y="1613.1" width="6.7" height="54.2" fill="#5D9C00"/>
<rect x="185.4" y="1613.1" width="10.1" height="54.2" fill="#FFE800"/>
<rect x="195.5" y="1613.1" width="9.4" height="54.2" fill="#FFB900"/>
<rect x="204.9" y="1613.1" width="18.7" height="54.2" fill="#B9D500"/>
<rect x="223.6" y="1613.1" width="13.1" height="54.2" fill="#FFB900"/>
<rect x="236.7" y="1613.1" width="7.5" height="54.2" fill="#B9D500"/>
<rect x="244.2" y="1613.1" width="11.2" height="54.2" fill="#FFFF00"/>
<rect x="255.4" y="1613.1" width="5.6" height="54.2" fill="#5D9C00"/>
<rect x="261.0" y="1613.1" width="7.5" height="54.2" fill="#FFE800"/>
<rect x="268.5" y="1613.1" width="13.1" height="54.2" fill="#FF8B00"/>
<rect x="281.6" y="1613.1" width="13.1" height="54.2" fill="#FFE800"/>
<rect x="294.7" y="1613.1" width="13.1" height="54.2" fill="#B9D500"/>
<rect x="307.8" y="1613.1" width="5.6" height="54.2" fill="#FFFF00"/>
<rect x="313.4" y="1613.1" width="7.5" height="54.2" fill="#FF8B00"/>
<rect x="320.9" y="1613.1" width="5.6" height="54.2" fill="#FFFF00"/>
<rect x="326.5" y="1613.1" width="18.7" height="54.2" fill="#8BB900"/>
<rect x="345.2" y="1613.1" width="5.6" height="54.2" fill="#FFFF00"/>
<rect x="350.8" y="1613.1" width="6.8" height="54.2" fill="#FF8B00"/>
<rect x="357.6" y="1613.1" width="8.2" height="54.2" fill="#FFFF00"/>
<rect x="365.8" y="1613.1" width="5.6" height="54.2" fill="#5D9C00"/>
<rect x="371.4" y="1613.1" width="5.6" height="54.2" fill="#FFFF00"/>
<rect x="377.0" y="1613.1" width="28.1" height="54.2" fill="#B9D500"/>
<rect x="405.1" y="1613.1" width="9.4" height="54.2" fill="#FFE800"/>
<rect x="414.5" y="1613.1" width="14.9" height="54.2" fill="#8BB900"/>
<rect x="429.4" y="1613.1" width="5.6" height="54.2" fill="#FFFF00"/>
<rect x="435.0" y="1613.1" width="6.4" height="54.2" fill="#FF2E00"/>
<rect x="441.4" y="1613.1" width="14.2" height="54.2" fill="#FFFF00"/>
<rect x="455.6" y="1613.1" width="13.1" height="54.2" fill="#8BB900"/>
<rect x="468.7" y="1613.1" width="5.7" height="54.2" fill="#FFB900"/>
<rect x="474.4" y="1613.1" width="13.1" height="54.2" fill="#B9D500"/>
<rect x="487.5" y="1613.1" width="11.2" height="54.2" fill="#2E8000"/>
<rect x="498.7" y="1613.1" width="1.9" height="54.2" fill="#FFFFFF"/>
<rect x="500.6" y="1613.1" width="18.7" height="54.2" fill="#FFB900"/>
<rect x="519.3" y="1613.1" width="22.4" height="54.2" fill="#E8F100"/>
</g>
</g>
<g transform="translate(0,1733.3)">
<text class="pl" x="35" y="65" letter-spacing="9">b)</text>
<text class="t" x="1274.5" y="172.8">The number of SNPs within 1Mb window size</text>
<path d="M141.3 271.2H2196.045" stroke="#000" stroke-width="5" stroke-linecap="round" fill="none"/>
<path d="M141.3 271.2V285.8" stroke="#000" stroke-width="5" stroke-linecap="round" fill="none"/>
<text class="ax" x="140.5" y="231.5">0Mb</text>
<path d="M369.6 271.2V285.8" stroke="#000" stroke-width="5" stroke-linecap="round" fill="none"/>
<text class="ax" x="368.8" y="231.5">35Mb</text>
<path d="M597.9 271.2V285.8" stroke="#000" stroke-width="5" stroke-linecap="round" fill="none"/>
<text class="ax" x="597.1" y="231.5">70Mb</text>
<path d="M826.2 271.2V285.8" stroke="#000" stroke-width="5" stroke-linecap="round" fill="none"/>
<text class="ax" x="825.4" y="231.5">105Mb</text>
<path d="M1054.5 271.2V285.8" stroke="#000" stroke-width="5" stroke-linecap="round" fill="none"/>
<text class="ax" x="1053.7" y="231.5">140Mb</text>
<path d="M1282.8 271.2V285.8" stroke="#000" stroke-width="5" stroke-linecap="round" fill="none"/>
<text class="ax" x="1282.0" y="231.5">175Mb</text>
<path d="M1511.1 271.2V285.8" stroke="#000" stroke-width="5" stroke-linecap="round" fill="none"/>
<text class="ax" x="1510.3" y="231.5">210Mb</text>
<path d="M1739.4 271.2V285.8" stroke="#000" stroke-width="5" stroke-linecap="round" fill="none"/>
<text class="ax" x="1738.6" y="231.5">245Mb</text>
<path d="M1967.7 271.2V285.8" stroke="#000" stroke-width="5" stroke-linecap="round" fill="none"/>
<text class="ax" x="1966.9" y="231.5">280Mb</text>
<path d="M2196.0 271.2V285.8" stroke="#000" stroke-width="5" stroke-linecap="round" fill="none"/>
<text class="ax" x="2195.2" y="231.5">315Mb</text>
<text class="ch" x="127.5" y="357.8">Chr1</text>
<text class="ch" x="127.5" y="433.9">Chr2</text>
<text class="ch" x="127.5" y="509.9">Chr3</text>
<text class="ch" x="127.5" y="586.0">Chr4</text>
<text class="ch" x="127.5" y="662.0">Chr5</text>
<text class="ch" x="127.5" y="738.0">Chr6</text>
<text class="ch" x="127.5" y="814.1">Chr7</text>
<text class="ch" x="127.5" y="890.2">Chr8</text>
<text class="ch" x="127.5" y="966.2">Chr9</text>
<text class="ch" x="127.5" y="1042.2">Chr10</text>
<text class="ch" x="127.5" y="1118.3">Chr11</text>
<text class="ch" x="127.5" y="1194.3">Chr12</text>
<text class="ch" x="127.5" y="1270.4">Chr13</text>
<text class="ch" x="127.5" y="1346.5">Chr14</text>
<text class="ch" x="127.5" y="1422.5">Chr15</text>
<text class="ch" x="127.5" y="1498.5">Chr16</text>
<text class="ch" x="127.5" y="1574.6">Chr17</text>
<text class="ch" x="127.5" y="1650.6">Chr18</text>
<g filter="url(#bl)">
<rect x="139.9" y="319.9" width="2061.1" height="55.0" fill="#dcdcdc"/>
<rect x="141.3" y="322.7" width="2058.3" height="49.400000000000006" fill="#F2F2F2"/>
<rect x="140.4" y="320.3" width="3.9" height="54.2" fill="#056a08"/>
<rect x="146.8" y="320.3" width="3.9" height="54.2" fill="#056a08"/>
<rect x="164.4" y="320.3" width="3.9" height="54.2" fill="#056a08"/>
<rect x="179.7" y="320.3" width="3.9" height="54.2" fill="#056a08"/>
<rect x="196.2" y="320.3" width="3.9" height="54.2" fill="#056a08"/>
<rect x="213.4" y="320.3" width="3.9" height="54.2" fill="#056a08"/>
<rect x="229.1" y="320.3" width="3.9" height="54.2" fill="#056a08"/>
<rect x="243.0" y="320.3" width="3.9" height="54.2" fill="#056a08"/>
<rect x="259.8" y="320.3" width="3.9" height="54.2" fill="#056a08"/>
<rect x="277.0" y="320.3" width="3.9" height="54.2" fill="#056a08"/>
<rect x="293.9" y="320.3" width="3.9" height="54.2" fill="#056a08"/>
<rect x="305.8" y="320.3" width="3.9" height="54.2" fill="#056a08"/>
<rect x="325.3" y="320.3" width="3.9" height="54.2" fill="#056a08"/>
<rect x="339.5" y="320.3" width="3.9" height="54.2" fill="#056a08"/>
<rect x="356.4" y="320.3" width="3.9" height="54.2" fill="#056a08"/>
<rect x="371.3" y="320.3" width="3.9" height="54.2" fill="#056a08"/>
<rect x="388.9" y="320.3" width="3.9" height="54.2" fill="#056a08"/>
<rect x="401.3" y="320.3" width="3.9" height="54.2" fill="#056a08"/>
<rect x="420.0" y="320.3" width="3.9" height="54.2" fill="#056a08"/>
<rect x="434.2" y="320.3" width="3.9" height="54.2" fill="#056a08"/>
<rect x="445.5" y="320.3" width="3.9" height="54.2" fill="#056a08"/>
<rect x="469.8" y="320.3" width="3.9" height="54.2" fill="#056a08"/>
<rect x="488.1" y="320.3" width="3.9" height="54.2" fill="#056a08"/>
<rect x="502.3" y="320.3" width="3.9" height="54.2" fill="#056a08"/>
<rect x="514.3" y="320.3" width="3.9" height="54.2" fill="#056a08"/>
<rect x="531.2" y="320.3" width="3.9" height="54.2" fill="#056a08"/>
<rect x="548.4" y="320.3" width="3.9" height="54.2" fill="#056a08"/>
<rect x="563.4" y="320.3" width="3.9" height="54.2" fill="#056a08"/>
<rect x="577.6" y="320.3" width="3.9" height="54.2" fill="#056a08"/>
<rect x="592.5" y="320.3" width="3.9" height="54.2" fill="#056a08"/>
<rect x="609.0" y="320.3" width="3.9" height="54.2" fill="#056a08"/>
<rect x="622.9" y="320.3" width="3.9" height="54.2" fill="#056a08"/>
<rect x="642.0" y="320.3" width="3.9" height="54.2" fill="#056a08"/>
<rect x="662.5" y="320.3" width="3.9" height="54.2" fill="#056a08"/>
<rect x="673.8" y="320.3" width="3.9" height="54.2" fill="#056a08"/>
<rect x="691.4" y="320.3" width="3.9" height="54.2" fill="#056a08"/>
<rect x="709.3" y="320.3" width="3.9" height="54.2" fill="#056a08"/>
<rect x="725.0" y="320.3" width="3.9" height="54.2" fill="#056a08"/>
<rect x="738.2" y="320.3" width="3.9" height="54.2" fill="#056a08"/>
<rect x="754.3" y="320.3" width="3.9" height="54.2" fill="#056a08"/>
<rect x="771.1" y="320.3" width="3.9" height="54.2" fill="#056a08"/>
<rect x="786.1" y="320.3" width="3.9" height="54.2" fill="#056a08"/>
<rect x="801.8" y="320.3" width="3.9" height="54.2" fill="#056a08"/>
<rect x="819.0" y="320.3" width="3.9" height="54.2" fill="#056a08"/>
<rect x="835.8" y="320.3" width="3.9" height="54.2" fill="#056a08"/>
<rect x="849.7" y="320.3" width="3.9" height="54.2" fill="#056a08"/>
<rect x="865.8" y="320.3" width="3.9" height="54.2" fill="#056a08"/>
<rect x="878.5" y="320.3" width="3.9" height="54.2" fill="#056a08"/>
<rect x="897.6" y="320.3" width="3.9" height="54.2" fill="#056a08"/>
<rect x="915.2" y="320.3" width="3.9" height="54.2" fill="#056a08"/>
<rect x="930.2" y="320.3" width="3.9" height="54.2" fill="#056a08"/>
<rect x="948.1" y="320.3" width="3.9" height="54.2" fill="#056a08"/>
<rect x="962.0" y="320.3" width="3.9" height="54.2" fill="#056a08"/>
<rect x="978.1" y="320.3" width="3.9" height="54.2" fill="#056a08"/>
<rect x="993.8" y="320.3" width="3.9" height="54.2" fill="#056a08"/>
<rect x="1005.8" y="320.3" width="3.9" height="54.2" fill="#056a08"/>
<rect x="1028.2" y="320.3" width="3.9" height="54.2" fill="#056a08"/>
<rect x="1040.6" y="320.3" width="3.9" height="54.2" fill="#056a08"/>
<rect x="1056.7" y="320.3" width="3.9" height="54.2" fill="#056a08"/>
<rect x="1074.3" y="320.3" width="3.9" height="54.2" fill="#056a08"/>
<rect x="1090.4" y="320.3" width="3.9" height="54.2" fill="#056a08"/>
<rect x="1104.2" y="320.3" width="3.9" height="54.2" fill="#056a08"/>
<rect x="1118.1" y="320.3" width="3.9" height="54.2" fill="#056a08"/>
<rect x="1136.8" y="320.3" width="3.9" height="54.2" fill="#056a08"/>
<rect x="1151.8" y="320.3" width="3.9" height="54.2" fill="#056a08"/>
<rect x="1164.1" y="320.3" width="3.9" height="54.2" fill="#056a08"/>
<rect x="1187.7" y="320.3" width="3.9" height="54.2" fill="#056a08"/>
<rect x="1202.7" y="320.3" width="3.9" height="54.2" fill="#056a08"/>
<rect x="1210.9" y="320.3" width="3.9" height="54.2" fill="#056a08"/>
<rect x="1233.3" y="320.3" width="3.9" height="54.2" fill="#056a08"/>
<rect x="1253.2" y="320.3" width="3.9" height="54.2" fill="#056a08"/>
<rect x="1266.3" y="320.3" width="3.9" height="54.2" fill="#056a08"/>
<rect x="1276.4" y="320.3" width="4.6" height="54.2" fill="#FFFF00"/>
<rect x="1282.8" y="320.3" width="3.9" height="54.2" fill="#056a08"/>
<rect x="1332.9" y="320.3" width="3.9" height="54.2" fill="#056a08"/>
<rect x="1345.6" y="320.3" width="3.9" height="54.2" fill="#056a08"/>
<rect x="1355.4" y="320.3" width="6.0" height="54.2" fill="#006400"/>
<rect x="1389.1" y="320.3" width="3.9" height="54.2" fill="#056a08"/>
<rect x="1413.4" y="320.3" width="3.9" height="54.2" fill="#056a08"/>
<rect x="1424.6" y="320.3" width="3.9" height="54.2" fill="#056a08"/>
<rect x="1446.0" y="320.3" width="3.9" height="54.2" fill="#056a08"/>
<rect x="1457.2" y="320.3" width="3.9" height="54.2" fill="#056a08"/>
<rect x="1472.2" y="320.3" width="3.9" height="54.2" fill="#056a08"/>
<rect x="1487.1" y="320.3" width="3.9" height="54.2" fill="#056a08"/>
<rect x="1502.8" y="320.3" width="3.9" height="54.2" fill="#056a08"/>
<rect x="1514.4" y="320.3" width="3.9" height="54.2" fill="#056a08"/>
<rect x="1533.9" y="320.3" width="3.9" height="54.2" fill="#056a08"/>
<rect x="1550.8" y="320.3" width="3.9" height="54.2" fill="#056a08"/>
<rect x="1567.6" y="320.3" width="3.9" height="54.2" fill="#056a08"/>
<rect x="1583.3" y="320.3" width="3.9" height="54.2" fill="#056a08"/>
<rect x="1603.9" y="320.3" width="4.6" height="54.2" fill="#FFFF00"/>
<rect x="1610.5" y="320.3" width="2.6" height="54.2" fill="#FFFF00"/>
<rect x="1615.7" y="320.3" width="5.0" height="54.2" fill="#FF0000"/>
<rect x="1628.6" y="320.3" width="3.9" height="54.2" fill="#056a08"/>
<rect x="1635.4" y="320.3" width="4.6" height="54.2" fill="#FFFF00"/>
<rect x="1726.7" y="320.3" width="3.9" height="54.2" fill="#056a08"/>
<rect x="1738.6" y="320.3" width="3.9" height="54.2" fill="#056a08"/>
<rect x="1760.4" y="320.3" width="3.9" height="54.2" fill="#056a08"/>
<rect x="1772.3" y="320.3" width="3.9" height="54.2" fill="#056a08"/>
<rect x="1788.4" y="320.3" width="3.9" height="54.2" fill="#056a08"/>
<rect x="1809.0" y="320.3" width="3.9" height="54.2" fill="#056a08"/>
<rect x="1822.1" y="320.3" width="3.9" height="54.2" fill="#056a08"/>
<rect x="1839.0" y="320.3" width="3.9" height="54.2" fill="#056a08"/>
<rect x="1854.7" y="320.3" width="3.9" height="54.2" fill="#056a08"/>
<rect x="1870.8" y="320.3" width="3.9" height="54.2" fill="#056a08"/>
<rect x="1886.5" y="320.3" width="3.9" height="54.2" fill="#056a08"/>
<rect x="1902.6" y="320.3" width="3.9" height="54.2" fill="#056a08"/>
<rect x="1915.7" y="320.3" width="3.9" height="54.2" fill="#056a08"/>
<rect x="1933.4" y="320.3" width="3.9" height="54.2" fill="#056a08"/>
<rect x="1950.3" y="320.3" width="3.9" height="54.2" fill="#056a08"/>
<rect x="1966.0" y="320.3" width="3.9" height="54.2" fill="#056a08"/>
<rect x="1982.8" y="320.3" width="3.9" height="54.2" fill="#056a08"/>
<rect x="1998.2" y="320.3" width="3.9" height="54.2" fill="#056a08"/>
<rect x="2013.9" y="320.3" width="3.9" height="54.2" fill="#056a08"/>
<rect x="2029.6" y="320.3" width="3.9" height="54.2" fill="#056a08"/>
<rect x="2044.6" y="320.3" width="3.9" height="54.2" fill="#056a08"/>
<rect x="2059.9" y="320.3" width="3.9" height="54.2" fill="#056a08"/>
<rect x="2078.3" y="320.3" width="3.9" height="54.2" fill="#056a08"/>
<rect x="2093.2" y="320.3" width="3.9" height="54.2" fill="#056a08"/>
<rect x="2108.6" y="320.3" width="3.9" height="54.2" fill="#056a08"/>
<rect x="2125.4" y="320.3" width="3.9" height="54.2" fill="#056a08"/>
<rect x="2141.1" y="320.3" width="3.9" height="54.2" fill="#056a08"/>
<rect x="2156.9" y="320.3" width="3.9" height="54.2" fill="#056a08"/>
<rect x="2174.1" y="320.3" width="3.9" height="54.2" fill="#056a08"/>
<rect x="2189.1" y="320.3" width="3.9" height="54.2" fill="#056a08"/>
<rect x="2196.5" y="320.3" width="3.9" height="54.2" fill="#056a08"/>
<rect x="139.9" y="396.0" width="1062.8" height="55.0" fill="#dcdcdc"/>
<rect x="141.3" y="398.8" width="1060.0" height="49.400000000000006" fill="#F2F2F2"/>
<rect x="140.4" y="396.4" width="3.9" height="54.2" fill="#056a08"/>
<rect x="147.9" y="396.4" width="3.9" height="54.2" fill="#056a08"/>
<rect x="165.5" y="396.4" width="3.9" height="54.2" fill="#056a08"/>
<rect x="179.3" y="396.4" width="3.9" height="54.2" fill="#056a08"/>
<rect x="197.3" y="396.4" width="3.9" height="54.2" fill="#056a08"/>
<rect x="214.1" y="396.4" width="3.9" height="54.2" fill="#056a08"/>
<rect x="229.1" y="396.4" width="3.9" height="54.2" fill="#056a08"/>
<rect x="246.0" y="396.4" width="3.9" height="54.2" fill="#056a08"/>
<rect x="262.8" y="396.4" width="3.9" height="54.2" fill="#056a08"/>
<rect x="279.6" y="396.4" width="3.9" height="54.2" fill="#056a08"/>
<rect x="293.9" y="396.4" width="3.9" height="54.2" fill="#056a08"/>
<rect x="310.3" y="396.4" width="3.9" height="54.2" fill="#056a08"/>
<rect x="326.4" y="396.4" width="3.9" height="54.2" fill="#056a08"/>
<rect x="344.4" y="396.4" width="3.9" height="54.2" fill="#056a08"/>
<rect x="360.1" y="396.4" width="3.9" height="54.2" fill="#056a08"/>
<rect x="377.0" y="396.4" width="3.9" height="54.2" fill="#056a08"/>
<rect x="393.0" y="396.4" width="3.9" height="54.2" fill="#056a08"/>
<rect x="408.8" y="396.4" width="3.9" height="54.2" fill="#056a08"/>
<rect x="423.7" y="396.4" width="3.9" height="54.2" fill="#056a08"/>
<rect x="441.7" y="396.4" width="3.9" height="54.2" fill="#056a08"/>
<rect x="458.2" y="396.4" width="3.9" height="54.2" fill="#056a08"/>
<rect x="473.1" y="396.4" width="3.9" height="54.2" fill="#056a08"/>
<rect x="491.9" y="396.4" width="3.9" height="54.2" fill="#056a08"/>
<rect x="508.7" y="396.4" width="3.9" height="54.2" fill="#056a08"/>
<rect x="521.8" y="396.4" width="3.9" height="54.2" fill="#056a08"/>
<rect x="538.6" y="396.4" width="3.9" height="54.2" fill="#056a08"/>
<rect x="553.6" y="396.4" width="3.9" height="54.2" fill="#056a08"/>
<rect x="571.6" y="396.4" width="3.9" height="54.2" fill="#056a08"/>
<rect x="589.2" y="396.4" width="3.9" height="54.2" fill="#056a08"/>
<rect x="601.0" y="396.4" width="9.5" height="54.2" fill="#006400"/>
<rect x="653.9" y="396.4" width="3.9" height="54.2" fill="#056a08"/>
<rect x="672.6" y="396.4" width="3.9" height="54.2" fill="#056a08"/>
<rect x="688.4" y="396.4" width="3.9" height="54.2" fill="#056a08"/>
<rect x="701.8" y="396.4" width="3.9" height="54.2" fill="#056a08"/>
<rect x="718.3" y="396.4" width="3.9" height="54.2" fill="#056a08"/>
<rect x="734.4" y="396.4" width="3.9" height="54.2" fill="#056a08"/>
<rect x="747.9" y="396.4" width="3.9" height="54.2" fill="#056a08"/>
<rect x="764.4" y="396.4" width="3.9" height="54.2" fill="#056a08"/>
<rect x="783.1" y="396.4" width="3.9" height="54.2" fill="#056a08"/>
<rect x="798.4" y="396.4" width="3.9" height="54.2" fill="#056a08"/>
<rect x="817.1" y="396.4" width="3.9" height="54.2" fill="#056a08"/>
<rect x="832.1" y="396.4" width="3.9" height="54.2" fill="#056a08"/>
<rect x="847.8" y="396.4" width="3.9" height="54.2" fill="#056a08"/>
<rect x="867.3" y="396.4" width="3.9" height="54.2" fill="#056a08"/>
<rect x="880.4" y="396.4" width="3.9" height="54.2" fill="#056a08"/>
<rect x="898.4" y="396.4" width="3.9" height="54.2" fill="#056a08"/>
<rect x="915.9" y="396.4" width="3.9" height="54.2" fill="#056a08"/>
<rect x="930.2" y="396.4" width="3.9" height="54.2" fill="#056a08"/>
<rect x="947.0" y="396.4" width="3.9" height="54.2" fill="#056a08"/>
<rect x="961.2" y="396.4" width="3.9" height="54.2" fill="#056a08"/>
<rect x="978.1" y="396.4" width="3.9" height="54.2" fill="#056a08"/>
<rect x="994.9" y="396.4" width="3.9" height="54.2" fill="#056a08"/>
<rect x="1011.4" y="396.4" width="3.9" height="54.2" fill="#056a08"/>
<rect x="1026.4" y="396.4" width="3.9" height="54.2" fill="#056a08"/>
<rect x="1045.1" y="396.4" width="3.9" height="54.2" fill="#056a08"/>
<rect x="1061.2" y="396.4" width="3.9" height="54.2" fill="#056a08"/>
<rect x="1077.3" y="396.4" width="3.9" height="54.2" fill="#056a08"/>
<rect x="1093.7" y="396.4" width="3.9" height="54.2" fill="#056a08"/>
<rect x="1109.1" y="396.4" width="3.9" height="54.2" fill="#056a08"/>
<rect x="1125.9" y="396.4" width="3.9" height="54.2" fill="#056a08"/>
<rect x="1141.6" y="396.4" width="3.9" height="54.2" fill="#056a08"/>
<rect x="1157.7" y="396.4" width="3.9" height="54.2" fill="#056a08"/>
<rect x="1174.2" y="396.4" width="3.9" height="54.2" fill="#056a08"/>
<rect x="1192.2" y="396.4" width="3.9" height="54.2" fill="#056a08"/>
<rect x="1198.2" y="396.4" width="3.9" height="54.2" fill="#056a08"/>
<rect x="139.9" y="472.0" width="944.5" height="55.0" fill="#dcdcdc"/>
<rect x="141.3" y="474.8" width="941.7" height="49.400000000000006" fill="#F2F2F2"/>
<rect x="140.4" y="472.4" width="3.9" height="54.2" fill="#056a08"/>
<rect x="148.6" y="472.4" width="3.9" height="54.2" fill="#056a08"/>
<rect x="165.5" y="472.4" width="3.9" height="54.2" fill="#056a08"/>
<rect x="180.5" y="472.4" width="3.9" height="54.2" fill="#056a08"/>
<rect x="196.2" y="472.4" width="3.9" height="54.2" fill="#056a08"/>
<rect x="213.4" y="472.4" width="3.9" height="54.2" fill="#056a08"/>
<rect x="229.9" y="472.4" width="3.9" height="54.2" fill="#056a08"/>
<rect x="247.8" y="472.4" width="3.9" height="54.2" fill="#056a08"/>
<rect x="262.8" y="472.4" width="3.9" height="54.2" fill="#056a08"/>
<rect x="280.4" y="472.4" width="3.9" height="54.2" fill="#056a08"/>
<rect x="297.6" y="472.4" width="3.9" height="54.2" fill="#056a08"/>
<rect x="315.2" y="472.4" width="3.9" height="54.2" fill="#056a08"/>
<rect x="325.3" y="472.4" width="3.9" height="54.2" fill="#056a08"/>
<rect x="347.8" y="472.4" width="3.9" height="54.2" fill="#056a08"/>
<rect x="362.0" y="472.4" width="3.9" height="54.2" fill="#056a08"/>
<rect x="379.6" y="472.4" width="3.9" height="54.2" fill="#056a08"/>
<rect x="391.6" y="472.4" width="6.0" height="54.2" fill="#006400"/>
<rect x="427.5" y="472.4" width="3.9" height="54.2" fill="#056a08"/>
<rect x="444.3" y="472.4" width="3.9" height="54.2" fill="#056a08"/>
<rect x="457.8" y="472.4" width="4.6" height="54.2" fill="#FFFF00"/>
<rect x="509.1" y="472.4" width="3.9" height="54.2" fill="#056a08"/>
<rect x="527.8" y="472.4" width="3.9" height="54.2" fill="#056a08"/>
<rect x="543.5" y="472.4" width="3.9" height="54.2" fill="#056a08"/>
<rect x="561.1" y="472.4" width="3.9" height="54.2" fill="#056a08"/>
<rect x="576.5" y="472.4" width="3.9" height="54.2" fill="#056a08"/>
<rect x="594.0" y="472.4" width="3.9" height="54.2" fill="#056a08"/>
<rect x="610.9" y="472.4" width="3.9" height="54.2" fill="#056a08"/>
<rect x="625.9" y="472.4" width="3.9" height="54.2" fill="#056a08"/>
<rect x="642.7" y="472.4" width="3.9" height="54.2" fill="#056a08"/>
<rect x="659.5" y="472.4" width="3.9" height="54.2" fill="#056a08"/>
<rect x="675.6" y="472.4" width="3.9" height="54.2" fill="#056a08"/>
<rect x="691.4" y="472.4" width="3.9" height="54.2" fill="#056a08"/>
<rect x="709.3" y="472.4" width="3.9" height="54.2" fill="#056a08"/>
<rect x="723.2" y="472.4" width="3.9" height="54.2" fill="#056a08"/>
<rect x="741.9" y="472.4" width="3.9" height="54.2" fill="#056a08"/>
<rect x="761.7" y="472.4" width="3.9" height="54.2" fill="#056a08"/>
<rect x="775.6" y="472.4" width="3.9" height="54.2" fill="#056a08"/>
<rect x="790.9" y="472.4" width="3.9" height="54.2" fill="#056a08"/>
<rect x="805.9" y="472.4" width="3.9" height="54.2" fill="#056a08"/>
<rect x="823.5" y="472.4" width="3.9" height="54.2" fill="#056a08"/>
<rect x="839.6" y="472.4" width="3.9" height="54.2" fill="#056a08"/>
<rect x="856.1" y="472.4" width="3.9" height="54.2" fill="#056a08"/>
<rect x="874.0" y="472.4" width="3.9" height="54.2" fill="#056a08"/>
<rect x="891.6" y="472.4" width="3.9" height="54.2" fill="#056a08"/>
<rect x="907.0" y="472.4" width="3.9" height="54.2" fill="#056a08"/>
<rect x="923.8" y="472.4" width="3.9" height="54.2" fill="#056a08"/>
<rect x="938.8" y="472.4" width="3.9" height="54.2" fill="#056a08"/>
<rect x="955.6" y="472.4" width="3.9" height="54.2" fill="#056a08"/>
<rect x="972.1" y="472.4" width="3.9" height="54.2" fill="#056a08"/>
<rect x="990.1" y="472.4" width="3.9" height="54.2" fill="#056a08"/>
<rect x="1005.8" y="472.4" width="3.9" height="54.2" fill="#056a08"/>
<rect x="1023.0" y="472.4" width="3.9" height="54.2" fill="#056a08"/>
<rect x="1038.7" y="472.4" width="3.9" height="54.2" fill="#056a08"/>
<rect x="1056.3" y="472.4" width="3.9" height="54.2" fill="#056a08"/>
<rect x="1070.5" y="472.4" width="3.9" height="54.2" fill="#056a08"/>
<rect x="1079.9" y="472.4" width="3.9" height="54.2" fill="#056a08"/>
<rect x="139.9" y="548.1" width="940.0" height="55.0" fill="#dcdcdc"/>
<rect x="141.3" y="550.9" width="937.2" height="49.400000000000006" fill="#F2F2F2"/>
<rect x="140.4" y="548.5" width="3.9" height="54.2" fill="#056a08"/>
<rect x="149.8" y="548.5" width="3.9" height="54.2" fill="#056a08"/>
<rect x="165.5" y="548.5" width="3.9" height="54.2" fill="#056a08"/>
<rect x="181.6" y="548.5" width="3.9" height="54.2" fill="#056a08"/>
<rect x="199.2" y="548.5" width="3.9" height="54.2" fill="#056a08"/>
<rect x="216.0" y="548.5" width="3.9" height="54.2" fill="#056a08"/>
<rect x="231.7" y="548.5" width="3.9" height="54.2" fill="#056a08"/>
<rect x="247.8" y="548.5" width="3.9" height="54.2" fill="#056a08"/>
<rect x="262.8" y="548.5" width="3.9" height="54.2" fill="#056a08"/>
<rect x="279.6" y="548.5" width="3.9" height="54.2" fill="#056a08"/>
<rect x="297.2" y="548.5" width="3.9" height="54.2" fill="#056a08"/>
<rect x="311.5" y="548.5" width="3.9" height="54.2" fill="#056a08"/>
<rect x="327.5" y="548.5" width="3.9" height="54.2" fill="#056a08"/>
<rect x="345.1" y="548.5" width="3.9" height="54.2" fill="#056a08"/>
<rect x="362.0" y="548.5" width="3.9" height="54.2" fill="#056a08"/>
<rect x="378.8" y="548.5" width="3.9" height="54.2" fill="#056a08"/>
<rect x="395.7" y="548.5" width="3.9" height="54.2" fill="#056a08"/>
<rect x="411.4" y="548.5" width="3.9" height="54.2" fill="#056a08"/>
<rect x="430.5" y="548.5" width="3.9" height="54.2" fill="#056a08"/>
<rect x="446.2" y="548.5" width="3.9" height="54.2" fill="#056a08"/>
<rect x="457.4" y="548.5" width="3.9" height="54.2" fill="#056a08"/>
<rect x="466.0" y="548.5" width="3.9" height="54.2" fill="#056a08"/>
<rect x="496.7" y="548.5" width="3.9" height="54.2" fill="#056a08"/>
<rect x="505.3" y="548.5" width="3.9" height="54.2" fill="#056a08"/>
<rect x="526.7" y="548.5" width="3.9" height="54.2" fill="#056a08"/>
<rect x="542.4" y="548.5" width="3.9" height="54.2" fill="#056a08"/>
<rect x="559.2" y="548.5" width="3.9" height="54.2" fill="#056a08"/>
<rect x="575.3" y="548.5" width="3.9" height="54.2" fill="#056a08"/>
<rect x="594.0" y="548.5" width="3.9" height="54.2" fill="#056a08"/>
<rect x="606.0" y="548.5" width="3.9" height="54.2" fill="#056a08"/>
<rect x="627.0" y="548.5" width="3.9" height="54.2" fill="#056a08"/>
<rect x="640.8" y="548.5" width="3.9" height="54.2" fill="#056a08"/>
<rect x="655.8" y="548.5" width="3.9" height="54.2" fill="#056a08"/>
<rect x="673.4" y="548.5" width="3.9" height="54.2" fill="#056a08"/>
<rect x="689.5" y="548.5" width="3.9" height="54.2" fill="#056a08"/>
<rect x="703.7" y="548.5" width="3.9" height="54.2" fill="#056a08"/>
<rect x="709.3" y="548.5" width="3.9" height="54.2" fill="#056a08"/>
<rect x="743.0" y="548.5" width="3.9" height="54.2" fill="#056a08"/>
<rect x="756.1" y="548.5" width="3.9" height="54.2" fill="#056a08"/>
<rect x="771.1" y="548.5" width="3.9" height="54.2" fill="#056a08"/>
<rect x="791.7" y="548.5" width="3.9" height="54.2" fill="#056a08"/>
<rect x="802.2" y="548.5" width="3.9" height="54.2" fill="#056a08"/>
<rect x="821.6" y="548.5" width="3.9" height="54.2" fill="#056a08"/>
<rect x="837.7" y="548.5" width="3.9" height="54.2" fill="#056a08"/>
<rect x="854.6" y="548.5" width="3.9" height="54.2" fill="#056a08"/>
<rect x="870.3" y="548.5" width="3.9" height="54.2" fill="#056a08"/>
<rect x="888.2" y="548.5" width="3.9" height="54.2" fill="#056a08"/>
<rect x="902.8" y="548.5" width="3.9" height="54.2" fill="#056a08"/>
<rect x="920.1" y="548.5" width="3.9" height="54.2" fill="#056a08"/>
<rect x="935.0" y="548.5" width="3.9" height="54.2" fill="#056a08"/>
<rect x="952.6" y="548.5" width="3.9" height="54.2" fill="#056a08"/>
<rect x="966.8" y="548.5" width="3.9" height="54.2" fill="#056a08"/>
<rect x="984.4" y="548.5" width="3.9" height="54.2" fill="#056a08"/>
<rect x="1002.4" y="548.5" width="3.9" height="54.2" fill="#056a08"/>
<rect x="1018.1" y="548.5" width="3.9" height="54.2" fill="#056a08"/>
<rect x="1034.2" y="548.5" width="3.9" height="54.2" fill="#056a08"/>
<rect x="1051.8" y="548.5" width="3.9" height="54.2" fill="#056a08"/>
<rect x="1067.9" y="548.5" width="3.9" height="54.2" fill="#056a08"/>
<rect x="1075.4" y="548.5" width="3.9" height="54.2" fill="#056a08"/>
<rect x="139.9" y="624.1" width="731.9" height="55.0" fill="#dcdcdc"/>
<rect x="141.3" y="626.9" width="729.1" height="49.400000000000006" fill="#F2F2F2"/>
<rect x="140.4" y="624.5" width="3.9" height="54.2" fill="#056a08"/>
<rect x="148.6" y="624.5" width="3.9" height="54.2" fill="#056a08"/>
<rect x="164.7" y="624.5" width="3.9" height="54.2" fill="#056a08"/>
<rect x="181.6" y="624.5" width="3.9" height="54.2" fill="#056a08"/>
<rect x="197.3" y="624.5" width="3.9" height="54.2" fill="#056a08"/>
<rect x="214.9" y="624.5" width="3.9" height="54.2" fill="#056a08"/>
<rect x="234.7" y="624.5" width="3.9" height="54.2" fill="#056a08"/>
<rect x="247.8" y="624.5" width="3.9" height="54.2" fill="#056a08"/>
<rect x="265.4" y="624.5" width="3.9" height="54.2" fill="#056a08"/>
<rect x="275.9" y="624.5" width="3.9" height="54.2" fill="#056a08"/>
<rect x="297.6" y="624.5" width="3.9" height="54.2" fill="#056a08"/>
<rect x="314.1" y="624.5" width="3.9" height="54.2" fill="#056a08"/>
<rect x="330.2" y="624.5" width="3.9" height="54.2" fill="#056a08"/>
<rect x="347.0" y="624.5" width="3.9" height="54.2" fill="#056a08"/>
<rect x="363.9" y="624.5" width="3.9" height="54.2" fill="#056a08"/>
<rect x="377.7" y="624.5" width="3.9" height="54.2" fill="#056a08"/>
<rect x="396.4" y="624.5" width="3.9" height="54.2" fill="#056a08"/>
<rect x="411.4" y="624.5" width="3.9" height="54.2" fill="#056a08"/>
<rect x="420.0" y="624.5" width="3.9" height="54.2" fill="#056a08"/>
<rect x="445.5" y="624.5" width="3.9" height="54.2" fill="#056a08"/>
<rect x="463.0" y="624.5" width="3.9" height="54.2" fill="#056a08"/>
<rect x="478.8" y="624.5" width="3.9" height="54.2" fill="#056a08"/>
<rect x="495.6" y="624.5" width="3.9" height="54.2" fill="#056a08"/>
<rect x="511.7" y="624.5" width="3.9" height="54.2" fill="#056a08"/>
<rect x="526.7" y="624.5" width="3.9" height="54.2" fill="#056a08"/>
<rect x="546.5" y="624.5" width="3.9" height="54.2" fill="#056a08"/>
<rect x="564.1" y="624.5" width="3.9" height="54.2" fill="#056a08"/>
<rect x="580.2" y="624.5" width="3.9" height="54.2" fill="#056a08"/>
<rect x="595.2" y="624.5" width="3.9" height="54.2" fill="#056a08"/>
<rect x="610.1" y="624.5" width="3.9" height="54.2" fill="#056a08"/>
<rect x="627.0" y="624.5" width="3.9" height="54.2" fill="#056a08"/>
<rect x="643.8" y="624.5" width="3.9" height="54.2" fill="#056a08"/>
<rect x="661.4" y="624.5" width="3.9" height="54.2" fill="#056a08"/>
<rect x="676.4" y="624.5" width="3.9" height="54.2" fill="#056a08"/>
<rect x="693.2" y="624.5" width="3.9" height="54.2" fill="#056a08"/>
<rect x="710.8" y="624.5" width="3.9" height="54.2" fill="#056a08"/>
<rect x="726.9" y="624.5" width="3.9" height="54.2" fill="#056a08"/>
<rect x="743.0" y="624.5" width="3.9" height="54.2" fill="#056a08"/>
<rect x="759.9" y="624.5" width="3.9" height="54.2" fill="#056a08"/>
<rect x="777.5" y="624.5" width="3.9" height="54.2" fill="#056a08"/>
<rect x="794.3" y="624.5" width="3.9" height="54.2" fill="#056a08"/>
<rect x="809.3" y="624.5" width="3.9" height="54.2" fill="#056a08"/>
<rect x="825.4" y="624.5" width="3.9" height="54.2" fill="#056a08"/>
<rect x="842.2" y="624.5" width="3.9" height="54.2" fill="#056a08"/>
<rect x="859.1" y="624.5" width="3.9" height="54.2" fill="#056a08"/>
<rect x="867.3" y="624.5" width="3.9" height="54.2" fill="#056a08"/>
<rect x="139.9" y="700.1" width="1032.4" height="55.0" fill="#dcdcdc"/>
<rect x="141.3" y="702.9" width="1029.6" height="49.400000000000006" fill="#F2F2F2"/>
<rect x="140.4" y="700.5" width="3.9" height="54.2" fill="#056a08"/>
<rect x="147.9" y="700.5" width="3.9" height="54.2" fill="#056a08"/>
<rect x="165.5" y="700.5" width="3.9" height="54.2" fill="#056a08"/>
<rect x="180.5" y="700.5" width="3.9" height="54.2" fill="#056a08"/>
<rect x="197.3" y="700.5" width="3.9" height="54.2" fill="#056a08"/>
<rect x="213.4" y="700.5" width="3.9" height="54.2" fill="#056a08"/>
<rect x="231.0" y="700.5" width="3.9" height="54.2" fill="#056a08"/>
<rect x="246.0" y="700.5" width="3.9" height="54.2" fill="#056a08"/>
<rect x="262.0" y="700.5" width="3.9" height="54.2" fill="#056a08"/>
<rect x="279.6" y="700.5" width="3.9" height="54.2" fill="#056a08"/>
<rect x="295.7" y="700.5" width="3.9" height="54.2" fill="#056a08"/>
<rect x="311.5" y="700.5" width="3.9" height="54.2" fill="#056a08"/>
<rect x="328.3" y="700.5" width="3.9" height="54.2" fill="#056a08"/>
<rect x="342.1" y="700.5" width="3.9" height="54.2" fill="#056a08"/>
<rect x="358.2" y="700.5" width="3.9" height="54.2" fill="#056a08"/>
<rect x="378.1" y="700.5" width="3.9" height="54.2" fill="#056a08"/>
<rect x="388.9" y="700.5" width="3.9" height="54.2" fill="#056a08"/>
<rect x="408.8" y="700.5" width="3.9" height="54.2" fill="#056a08"/>
<rect x="423.7" y="700.5" width="3.9" height="54.2" fill="#056a08"/>
<rect x="442.5" y="700.5" width="3.9" height="54.2" fill="#056a08"/>
<rect x="460.0" y="700.5" width="3.9" height="54.2" fill="#056a08"/>
<rect x="479.9" y="700.5" width="3.9" height="54.2" fill="#056a08"/>
<rect x="490.4" y="700.5" width="3.9" height="54.2" fill="#056a08"/>
<rect x="504.2" y="700.5" width="3.9" height="54.2" fill="#056a08"/>
<rect x="527.8" y="700.5" width="3.9" height="54.2" fill="#056a08"/>
<rect x="539.8" y="700.5" width="3.9" height="54.2" fill="#056a08"/>
<rect x="557.7" y="700.5" width="3.9" height="54.2" fill="#056a08"/>
<rect x="573.5" y="700.5" width="3.9" height="54.2" fill="#056a08"/>
<rect x="589.2" y="700.5" width="3.9" height="54.2" fill="#056a08"/>
<rect x="605.3" y="700.5" width="3.9" height="54.2" fill="#056a08"/>
<rect x="622.1" y="700.5" width="3.9" height="54.2" fill="#056a08"/>
<rect x="639.0" y="700.5" width="3.9" height="54.2" fill="#056a08"/>
<rect x="656.9" y="700.5" width="3.9" height="54.2" fill="#056a08"/>
<rect x="664.0" y="700.5" width="3.9" height="54.2" fill="#056a08"/>
<rect x="693.4" y="700.5" width="8.0" height="54.2" fill="#FF0000"/>
<rect x="734.8" y="700.5" width="3.9" height="54.2" fill="#056a08"/>
<rect x="753.5" y="700.5" width="3.9" height="54.2" fill="#056a08"/>
<rect x="770.0" y="700.5" width="3.9" height="54.2" fill="#056a08"/>
<rect x="786.1" y="700.5" width="3.9" height="54.2" fill="#056a08"/>
<rect x="796.5" y="700.5" width="3.9" height="54.2" fill="#056a08"/>
<rect x="817.9" y="700.5" width="3.9" height="54.2" fill="#056a08"/>
<rect x="832.9" y="700.5" width="3.9" height="54.2" fill="#056a08"/>
<rect x="850.8" y="700.5" width="3.9" height="54.2" fill="#056a08"/>
<rect x="867.3" y="700.5" width="3.9" height="54.2" fill="#056a08"/>
<rect x="880.8" y="700.5" width="3.9" height="54.2" fill="#056a08"/>
<rect x="899.5" y="700.5" width="3.9" height="54.2" fill="#056a08"/>
<rect x="911.5" y="700.5" width="3.9" height="54.2" fill="#056a08"/>
<rect x="932.0" y="700.5" width="3.9" height="54.2" fill="#056a08"/>
<rect x="947.0" y="700.5" width="3.9" height="54.2" fill="#056a08"/>
<rect x="963.9" y="700.5" width="3.9" height="54.2" fill="#056a08"/>
<rect x="980.7" y="700.5" width="3.9" height="54.2" fill="#056a08"/>
<rect x="996.4" y="700.5" width="3.9" height="54.2" fill="#056a08"/>
<rect x="1013.3" y="700.5" width="3.9" height="54.2" fill="#056a08"/>
<rect x="1028.6" y="700.5" width="3.9" height="54.2" fill="#056a08"/>
<rect x="1046.2" y="700.5" width="3.9" height="54.2" fill="#056a08"/>
<rect x="1062.3" y="700.5" width="3.9" height="54.2" fill="#056a08"/>
<rect x="1078.0" y="700.5" width="3.9" height="54.2" fill="#056a08"/>
<rect x="1094.9" y="700.5" width="3.9" height="54.2" fill="#056a08"/>
<rect x="1111.0" y="700.5" width="3.9" height="54.2" fill="#056a08"/>
<rect x="1127.8" y="700.5" width="3.9" height="54.2" fill="#056a08"/>
<rect x="1144.3" y="700.5" width="3.9" height="54.2" fill="#056a08"/>
<rect x="1160.4" y="700.5" width="3.9" height="54.2" fill="#056a08"/>
<rect x="1167.8" y="700.5" width="3.9" height="54.2" fill="#056a08"/>
<rect x="139.9" y="776.2" width="882.7" height="55.0" fill="#dcdcdc"/>
<rect x="141.3" y="779.0" width="879.9" height="49.400000000000006" fill="#F2F2F2"/>
<rect x="144.9" y="776.6" width="3.9" height="54.2" fill="#056a08"/>
<rect x="154.3" y="776.6" width="3.9" height="54.2" fill="#056a08"/>
<rect x="170.0" y="776.6" width="3.9" height="54.2" fill="#056a08"/>
<rect x="187.2" y="776.6" width="3.9" height="54.2" fill="#056a08"/>
<rect x="204.0" y="776.6" width="3.9" height="54.2" fill="#056a08"/>
<rect x="219.8" y="776.6" width="3.9" height="54.2" fill="#056a08"/>
<rect x="236.6" y="776.6" width="3.9" height="54.2" fill="#056a08"/>
<rect x="253.4" y="776.6" width="3.9" height="54.2" fill="#056a08"/>
<rect x="269.5" y="776.6" width="3.9" height="54.2" fill="#056a08"/>
<rect x="286.0" y="776.6" width="3.9" height="54.2" fill="#056a08"/>
<rect x="302.8" y="776.6" width="3.9" height="54.2" fill="#056a08"/>
<rect x="318.2" y="776.6" width="3.9" height="54.2" fill="#056a08"/>
<rect x="334.7" y="776.6" width="3.9" height="54.2" fill="#056a08"/>
<rect x="348.9" y="776.6" width="3.9" height="54.2" fill="#056a08"/>
<rect x="367.6" y="776.6" width="3.9" height="54.2" fill="#056a08"/>
<rect x="385.6" y="776.6" width="3.9" height="54.2" fill="#056a08"/>
<rect x="402.0" y="776.6" width="3.9" height="54.2" fill="#056a08"/>
<rect x="416.3" y="776.6" width="3.9" height="54.2" fill="#056a08"/>
<rect x="433.1" y="776.6" width="3.9" height="54.2" fill="#056a08"/>
<rect x="451.8" y="776.6" width="3.9" height="54.2" fill="#056a08"/>
<rect x="472.6" y="776.6" width="9.5" height="54.2" fill="#006400"/>
<rect x="490.0" y="776.6" width="3.9" height="54.2" fill="#056a08"/>
<rect x="497.9" y="776.6" width="3.9" height="54.2" fill="#056a08"/>
<rect x="551.8" y="776.6" width="3.9" height="54.2" fill="#056a08"/>
<rect x="569.0" y="776.6" width="3.9" height="54.2" fill="#056a08"/>
<rect x="583.9" y="776.6" width="3.9" height="54.2" fill="#056a08"/>
<rect x="598.9" y="776.6" width="3.9" height="54.2" fill="#056a08"/>
<rect x="614.6" y="776.6" width="3.9" height="54.2" fill="#056a08"/>
<rect x="630.4" y="776.6" width="3.9" height="54.2" fill="#056a08"/>
<rect x="655.8" y="776.6" width="3.9" height="54.2" fill="#056a08"/>
<rect x="664.4" y="776.6" width="3.9" height="54.2" fill="#056a08"/>
<rect x="680.9" y="776.6" width="3.9" height="54.2" fill="#056a08"/>
<rect x="696.2" y="776.6" width="3.9" height="54.2" fill="#056a08"/>
<rect x="710.8" y="776.6" width="3.9" height="54.2" fill="#056a08"/>
<rect x="716.8" y="776.6" width="3.9" height="54.2" fill="#056a08"/>
<rect x="747.5" y="776.6" width="3.9" height="54.2" fill="#056a08"/>
<rect x="759.9" y="776.6" width="3.9" height="54.2" fill="#056a08"/>
<rect x="776.7" y="776.6" width="3.9" height="54.2" fill="#056a08"/>
<rect x="791.7" y="776.6" width="3.9" height="54.2" fill="#056a08"/>
<rect x="812.3" y="776.6" width="3.9" height="54.2" fill="#056a08"/>
<rect x="828.0" y="776.6" width="3.9" height="54.2" fill="#056a08"/>
<rect x="844.8" y="776.6" width="3.9" height="54.2" fill="#056a08"/>
<rect x="860.9" y="776.6" width="3.9" height="54.2" fill="#056a08"/>
<rect x="877.8" y="776.6" width="3.9" height="54.2" fill="#056a08"/>
<rect x="894.6" y="776.6" width="3.9" height="54.2" fill="#056a08"/>
<rect x="911.5" y="776.6" width="3.9" height="54.2" fill="#056a08"/>
<rect x="927.5" y="776.6" width="3.9" height="54.2" fill="#056a08"/>
<rect x="944.0" y="776.6" width="3.9" height="54.2" fill="#056a08"/>
<rect x="960.1" y="776.6" width="3.9" height="54.2" fill="#056a08"/>
<rect x="977.0" y="776.6" width="3.9" height="54.2" fill="#056a08"/>
<rect x="993.8" y="776.6" width="3.9" height="54.2" fill="#056a08"/>
<rect x="1011.4" y="776.6" width="3.9" height="54.2" fill="#056a08"/>
<rect x="1018.1" y="776.6" width="3.9" height="54.2" fill="#056a08"/>
<rect x="139.9" y="852.3" width="972.6" height="55.0" fill="#dcdcdc"/>
<rect x="141.3" y="855.1" width="969.8" height="49.400000000000006" fill="#F2F2F2"/>
<rect x="144.9" y="852.7" width="3.9" height="54.2" fill="#056a08"/>
<rect x="154.3" y="852.7" width="3.9" height="54.2" fill="#056a08"/>
<rect x="169.2" y="852.7" width="3.9" height="54.2" fill="#056a08"/>
<rect x="187.2" y="852.7" width="3.9" height="54.2" fill="#056a08"/>
<rect x="202.9" y="852.7" width="3.9" height="54.2" fill="#056a08"/>
<rect x="217.9" y="852.7" width="3.9" height="54.2" fill="#056a08"/>
<rect x="235.8" y="852.7" width="3.9" height="54.2" fill="#056a08"/>
<rect x="250.8" y="852.7" width="3.9" height="54.2" fill="#056a08"/>
<rect x="267.3" y="852.7" width="3.9" height="54.2" fill="#056a08"/>
<rect x="279.6" y="852.7" width="3.9" height="54.2" fill="#056a08"/>
<rect x="300.2" y="852.7" width="3.9" height="54.2" fill="#056a08"/>
<rect x="317.8" y="852.7" width="3.9" height="54.2" fill="#056a08"/>
<rect x="333.9" y="852.7" width="3.9" height="54.2" fill="#056a08"/>
<rect x="348.1" y="852.7" width="3.9" height="54.2" fill="#056a08"/>
<rect x="366.5" y="852.7" width="3.9" height="54.2" fill="#056a08"/>
<rect x="382.6" y="852.7" width="3.9" height="54.2" fill="#056a08"/>
<rect x="397.5" y="852.7" width="3.9" height="54.2" fill="#056a08"/>
<rect x="410.6" y="852.7" width="3.9" height="54.2" fill="#056a08"/>
<rect x="421.9" y="852.7" width="3.9" height="54.2" fill="#056a08"/>
<rect x="449.9" y="852.7" width="3.9" height="54.2" fill="#056a08"/>
<rect x="457.4" y="852.7" width="3.9" height="54.2" fill="#056a08"/>
<rect x="467.6" y="852.7" width="4.6" height="54.2" fill="#FFFF00"/>
<rect x="488.1" y="852.7" width="3.9" height="54.2" fill="#056a08"/>
<rect x="509.1" y="852.7" width="3.9" height="54.2" fill="#056a08"/>
<rect x="515.4" y="852.7" width="3.9" height="54.2" fill="#056a08"/>
<rect x="560.4" y="852.7" width="3.9" height="54.2" fill="#056a08"/>
<rect x="579.1" y="852.7" width="3.9" height="54.2" fill="#056a08"/>
<rect x="592.2" y="852.7" width="3.9" height="54.2" fill="#056a08"/>
<rect x="610.9" y="852.7" width="3.9" height="54.2" fill="#056a08"/>
<rect x="624.0" y="852.7" width="3.9" height="54.2" fill="#056a08"/>
<rect x="643.5" y="852.7" width="3.9" height="54.2" fill="#056a08"/>
<rect x="658.8" y="852.7" width="3.9" height="54.2" fill="#056a08"/>
<rect x="673.8" y="852.7" width="3.9" height="54.2" fill="#056a08"/>
<rect x="693.2" y="852.7" width="3.9" height="54.2" fill="#056a08"/>
<rect x="708.2" y="852.7" width="3.9" height="54.2" fill="#056a08"/>
<rect x="725.0" y="852.7" width="3.9" height="54.2" fill="#056a08"/>
<rect x="739.3" y="852.7" width="3.9" height="54.2" fill="#056a08"/>
<rect x="759.9" y="852.7" width="3.9" height="54.2" fill="#056a08"/>
<rect x="769.2" y="852.7" width="3.9" height="54.2" fill="#056a08"/>
<rect x="789.1" y="852.7" width="3.9" height="54.2" fill="#056a08"/>
<rect x="805.9" y="852.7" width="3.9" height="54.2" fill="#056a08"/>
<rect x="822.7" y="852.7" width="3.9" height="54.2" fill="#056a08"/>
<rect x="835.5" y="852.7" width="3.9" height="54.2" fill="#056a08"/>
<rect x="843.3" y="852.7" width="3.9" height="54.2" fill="#056a08"/>
<rect x="869.5" y="852.7" width="3.9" height="54.2" fill="#056a08"/>
<rect x="885.3" y="852.7" width="3.9" height="54.2" fill="#056a08"/>
<rect x="904.0" y="852.7" width="3.9" height="54.2" fill="#056a08"/>
<rect x="920.1" y="852.7" width="3.9" height="54.2" fill="#056a08"/>
<rect x="935.8" y="852.7" width="3.9" height="54.2" fill="#056a08"/>
<rect x="952.6" y="852.7" width="3.9" height="54.2" fill="#056a08"/>
<rect x="968.7" y="852.7" width="3.9" height="54.2" fill="#056a08"/>
<rect x="988.9" y="852.7" width="3.9" height="54.2" fill="#056a08"/>
<rect x="1001.3" y="852.7" width="3.9" height="54.2" fill="#056a08"/>
<rect x="1016.3" y="852.7" width="3.9" height="54.2" fill="#056a08"/>
<rect x="1033.1" y="852.7" width="3.9" height="54.2" fill="#056a08"/>
<rect x="1049.9" y="852.7" width="3.9" height="54.2" fill="#056a08"/>
<rect x="1066.8" y="852.7" width="3.9" height="54.2" fill="#056a08"/>
<rect x="1081.8" y="852.7" width="3.9" height="54.2" fill="#056a08"/>
<rect x="1099.3" y="852.7" width="3.9" height="54.2" fill="#056a08"/>
<rect x="1108.0" y="852.7" width="3.9" height="54.2" fill="#056a08"/>
<rect x="139.9" y="928.3" width="1006.2" height="55.0" fill="#dcdcdc"/>
<rect x="141.3" y="931.1" width="1003.4" height="49.400000000000006" fill="#F2F2F2"/>
<rect x="140.4" y="928.7" width="3.9" height="54.2" fill="#056a08"/>
<rect x="146.8" y="928.7" width="3.9" height="54.2" fill="#056a08"/>
<rect x="164.4" y="928.7" width="3.9" height="54.2" fill="#056a08"/>
<rect x="181.6" y="928.7" width="3.9" height="54.2" fill="#056a08"/>
<rect x="197.3" y="928.7" width="3.9" height="54.2" fill="#056a08"/>
<rect x="213.4" y="928.7" width="3.9" height="54.2" fill="#056a08"/>
<rect x="228.0" y="928.7" width="3.9" height="54.2" fill="#056a08"/>
<rect x="246.0" y="928.7" width="3.9" height="54.2" fill="#056a08"/>
<rect x="262.0" y="928.7" width="3.9" height="54.2" fill="#056a08"/>
<rect x="279.6" y="928.7" width="3.9" height="54.2" fill="#056a08"/>
<rect x="295.4" y="928.7" width="3.9" height="54.2" fill="#056a08"/>
<rect x="313.3" y="928.7" width="3.9" height="54.2" fill="#056a08"/>
<rect x="327.5" y="928.7" width="3.9" height="54.2" fill="#056a08"/>
<rect x="345.1" y="928.7" width="3.9" height="54.2" fill="#056a08"/>
<rect x="362.0" y="928.7" width="3.9" height="54.2" fill="#056a08"/>
<rect x="378.1" y="928.7" width="3.9" height="54.2" fill="#056a08"/>
<rect x="393.8" y="928.7" width="3.9" height="54.2" fill="#056a08"/>
<rect x="410.6" y="928.7" width="3.9" height="54.2" fill="#056a08"/>
<rect x="427.5" y="928.7" width="3.9" height="54.2" fill="#056a08"/>
<rect x="443.6" y="928.7" width="3.9" height="54.2" fill="#056a08"/>
<rect x="460.0" y="928.7" width="3.9" height="54.2" fill="#056a08"/>
<rect x="477.3" y="928.7" width="3.9" height="54.2" fill="#056a08"/>
<rect x="494.1" y="928.7" width="3.9" height="54.2" fill="#056a08"/>
<rect x="505.3" y="928.7" width="3.9" height="54.2" fill="#056a08"/>
<rect x="524.8" y="928.7" width="3.9" height="54.2" fill="#056a08"/>
<rect x="542.4" y="928.7" width="3.9" height="54.2" fill="#056a08"/>
<rect x="559.2" y="928.7" width="3.9" height="54.2" fill="#056a08"/>
<rect x="576.1" y="928.7" width="3.9" height="54.2" fill="#056a08"/>
<rect x="598.9" y="928.7" width="3.9" height="54.2" fill="#056a08"/>
<rect x="607.9" y="928.7" width="3.9" height="54.2" fill="#056a08"/>
<rect x="625.9" y="928.7" width="3.9" height="54.2" fill="#056a08"/>
<rect x="640.1" y="928.7" width="3.9" height="54.2" fill="#056a08"/>
<rect x="648.3" y="928.7" width="3.9" height="54.2" fill="#056a08"/>
<rect x="669.3" y="928.7" width="4.6" height="54.2" fill="#FFFF00"/>
<rect x="676.4" y="928.7" width="3.9" height="54.2" fill="#056a08"/>
<rect x="681.5" y="928.7" width="5.0" height="54.2" fill="#FF0000"/>
<rect x="692.5" y="928.7" width="3.9" height="54.2" fill="#056a08"/>
<rect x="788.7" y="928.7" width="4.6" height="54.2" fill="#FFFF00"/>
<rect x="836.6" y="928.7" width="3.9" height="54.2" fill="#056a08"/>
<rect x="849.7" y="928.7" width="3.9" height="54.2" fill="#056a08"/>
<rect x="872.9" y="928.7" width="3.9" height="54.2" fill="#056a08"/>
<rect x="887.1" y="928.7" width="3.9" height="54.2" fill="#056a08"/>
<rect x="904.0" y="928.7" width="3.9" height="54.2" fill="#056a08"/>
<rect x="920.8" y="928.7" width="3.9" height="54.2" fill="#056a08"/>
<rect x="937.7" y="928.7" width="3.9" height="54.2" fill="#056a08"/>
<rect x="953.7" y="928.7" width="3.9" height="54.2" fill="#056a08"/>
<rect x="970.6" y="928.7" width="3.9" height="54.2" fill="#056a08"/>
<rect x="985.2" y="928.7" width="3.9" height="54.2" fill="#056a08"/>
<rect x="1002.4" y="928.7" width="3.9" height="54.2" fill="#056a08"/>
<rect x="1018.1" y="928.7" width="3.9" height="54.2" fill="#056a08"/>
<rect x="1035.0" y="928.7" width="3.9" height="54.2" fill="#056a08"/>
<rect x="1051.8" y="928.7" width="3.9" height="54.2" fill="#056a08"/>
<rect x="1067.9" y="928.7" width="3.9" height="54.2" fill="#056a08"/>
<rect x="1082.9" y="928.7" width="3.9" height="54.2" fill="#056a08"/>
<rect x="1101.2" y="928.7" width="3.9" height="54.2" fill="#056a08"/>
<rect x="1117.3" y="928.7" width="3.9" height="54.2" fill="#056a08"/>
<rect x="1134.2" y="928.7" width="3.9" height="54.2" fill="#056a08"/>
<rect x="1141.6" y="928.7" width="3.9" height="54.2" fill="#056a08"/>
<rect x="139.9" y="1004.4" width="511.5" height="55.0" fill="#dcdcdc"/>
<rect x="141.3" y="1007.1" width="508.7" height="49.400000000000006" fill="#F2F2F2"/>
<rect x="140.4" y="1004.8" width="3.9" height="54.2" fill="#056a08"/>
<rect x="149.8" y="1004.8" width="3.9" height="54.2" fill="#056a08"/>
<rect x="164.4" y="1004.8" width="3.9" height="54.2" fill="#056a08"/>
<rect x="183.1" y="1004.8" width="3.9" height="54.2" fill="#056a08"/>
<rect x="198.4" y="1004.8" width="3.9" height="54.2" fill="#056a08"/>
<rect x="216.0" y="1004.8" width="3.9" height="54.2" fill="#056a08"/>
<rect x="232.1" y="1004.8" width="3.9" height="54.2" fill="#056a08"/>
<rect x="248.9" y="1004.8" width="3.9" height="54.2" fill="#056a08"/>
<rect x="265.8" y="1004.8" width="3.9" height="54.2" fill="#056a08"/>
<rect x="277.8" y="1004.8" width="3.9" height="54.2" fill="#056a08"/>
<rect x="300.2" y="1004.8" width="3.9" height="54.2" fill="#056a08"/>
<rect x="317.8" y="1004.8" width="3.9" height="54.2" fill="#056a08"/>
<rect x="334.7" y="1004.8" width="3.9" height="54.2" fill="#056a08"/>
<rect x="348.9" y="1004.8" width="3.9" height="54.2" fill="#056a08"/>
<rect x="367.6" y="1004.8" width="3.9" height="54.2" fill="#056a08"/>
<rect x="382.6" y="1004.8" width="3.9" height="54.2" fill="#056a08"/>
<rect x="402.4" y="1004.8" width="3.9" height="54.2" fill="#056a08"/>
<rect x="418.1" y="1004.8" width="3.9" height="54.2" fill="#056a08"/>
<rect x="435.7" y="1004.8" width="3.9" height="54.2" fill="#056a08"/>
<rect x="451.1" y="1004.8" width="3.9" height="54.2" fill="#056a08"/>
<rect x="468.7" y="1004.8" width="3.9" height="54.2" fill="#056a08"/>
<rect x="485.5" y="1004.8" width="3.9" height="54.2" fill="#056a08"/>
<rect x="504.2" y="1004.8" width="3.9" height="54.2" fill="#056a08"/>
<rect x="521.1" y="1004.8" width="3.9" height="54.2" fill="#056a08"/>
<rect x="537.2" y="1004.8" width="3.9" height="54.2" fill="#056a08"/>
<rect x="553.6" y="1004.8" width="3.9" height="54.2" fill="#056a08"/>
<rect x="571.6" y="1004.8" width="3.9" height="54.2" fill="#056a08"/>
<rect x="586.6" y="1004.8" width="3.9" height="54.2" fill="#056a08"/>
<rect x="604.5" y="1004.8" width="3.9" height="54.2" fill="#056a08"/>
<rect x="622.1" y="1004.8" width="3.9" height="54.2" fill="#056a08"/>
<rect x="642.3" y="1004.8" width="8.5" height="54.2" fill="#FFFF00"/>
<rect x="139.9" y="1080.4" width="576.5" height="55.0" fill="#dcdcdc"/>
<rect x="141.3" y="1083.2" width="573.7" height="49.400000000000006" fill="#F2F2F2"/>
<rect x="140.4" y="1080.8" width="3.9" height="54.2" fill="#056a08"/>
<rect x="149.8" y="1080.8" width="3.9" height="54.2" fill="#056a08"/>
<rect x="164.4" y="1080.8" width="3.9" height="54.2" fill="#056a08"/>
<rect x="183.1" y="1080.8" width="3.9" height="54.2" fill="#056a08"/>
<rect x="199.2" y="1080.8" width="3.9" height="54.2" fill="#056a08"/>
<rect x="214.9" y="1080.8" width="3.9" height="54.2" fill="#056a08"/>
<rect x="232.1" y="1080.8" width="3.9" height="54.2" fill="#056a08"/>
<rect x="248.9" y="1080.8" width="3.9" height="54.2" fill="#056a08"/>
<rect x="269.5" y="1080.8" width="3.9" height="54.2" fill="#056a08"/>
<rect x="281.5" y="1080.8" width="3.9" height="54.2" fill="#056a08"/>
<rect x="301.3" y="1080.8" width="3.9" height="54.2" fill="#056a08"/>
<rect x="317.1" y="1080.8" width="3.9" height="54.2" fill="#056a08"/>
<rect x="331.3" y="1080.8" width="3.9" height="54.2" fill="#056a08"/>
<rect x="348.9" y="1080.8" width="3.9" height="54.2" fill="#056a08"/>
<rect x="366.5" y="1080.8" width="3.9" height="54.2" fill="#056a08"/>
<rect x="379.9" y="1080.8" width="3.9" height="54.2" fill="#056a08"/>
<rect x="403.9" y="1080.8" width="3.9" height="54.2" fill="#056a08"/>
<rect x="419.3" y="1080.8" width="3.9" height="54.2" fill="#056a08"/>
<rect x="431.2" y="1080.8" width="3.9" height="54.2" fill="#056a08"/>
<rect x="452.6" y="1080.8" width="3.9" height="54.2" fill="#056a08"/>
<rect x="468.7" y="1080.8" width="3.9" height="54.2" fill="#056a08"/>
<rect x="488.1" y="1080.8" width="3.9" height="54.2" fill="#056a08"/>
<rect x="502.3" y="1080.8" width="3.9" height="54.2" fill="#056a08"/>
<rect x="515.4" y="1080.8" width="3.9" height="54.2" fill="#056a08"/>
<rect x="537.9" y="1080.8" width="3.9" height="54.2" fill="#056a08"/>
<rect x="554.7" y="1080.8" width="3.9" height="54.2" fill="#056a08"/>
<rect x="570.8" y="1080.8" width="3.9" height="54.2" fill="#056a08"/>
<rect x="586.6" y="1080.8" width="3.9" height="54.2" fill="#056a08"/>
<rect x="599.7" y="1080.8" width="3.9" height="54.2" fill="#056a08"/>
<rect x="617.6" y="1080.8" width="3.9" height="54.2" fill="#056a08"/>
<rect x="635.2" y="1080.8" width="3.9" height="54.2" fill="#056a08"/>
<rect x="652.8" y="1080.8" width="3.9" height="54.2" fill="#056a08"/>
<rect x="670.8" y="1080.8" width="3.9" height="54.2" fill="#056a08"/>
<rect x="688.4" y="1080.8" width="3.9" height="54.2" fill="#056a08"/>
<rect x="704.5" y="1080.8" width="3.9" height="54.2" fill="#056a08"/>
<rect x="711.9" y="1080.8" width="3.9" height="54.2" fill="#056a08"/>
<rect x="139.9" y="1156.4" width="416.7" height="55.0" fill="#dcdcdc"/>
<rect x="141.3" y="1159.2" width="413.9" height="49.400000000000006" fill="#F2F2F2"/>
<rect x="149.4" y="1156.8" width="3.9" height="54.2" fill="#056a08"/>
<rect x="158.0" y="1156.8" width="3.9" height="54.2" fill="#056a08"/>
<rect x="176.0" y="1156.8" width="3.9" height="54.2" fill="#056a08"/>
<rect x="191.7" y="1156.8" width="3.9" height="54.2" fill="#056a08"/>
<rect x="211.5" y="1156.8" width="3.9" height="54.2" fill="#056a08"/>
<rect x="226.1" y="1156.8" width="3.9" height="54.2" fill="#056a08"/>
<rect x="244.8" y="1156.8" width="3.9" height="54.2" fill="#056a08"/>
<rect x="264.7" y="1156.8" width="3.9" height="54.2" fill="#056a08"/>
<rect x="279.6" y="1156.8" width="3.9" height="54.2" fill="#056a08"/>
<rect x="299.5" y="1156.8" width="3.9" height="54.2" fill="#056a08"/>
<rect x="314.4" y="1156.8" width="3.9" height="54.2" fill="#056a08"/>
<rect x="333.2" y="1156.8" width="3.9" height="54.2" fill="#056a08"/>
<rect x="351.9" y="1156.8" width="3.9" height="54.2" fill="#056a08"/>
<rect x="367.6" y="1156.8" width="3.9" height="54.2" fill="#056a08"/>
<rect x="387.4" y="1156.8" width="3.9" height="54.2" fill="#056a08"/>
<rect x="402.0" y="1156.8" width="3.9" height="54.2" fill="#056a08"/>
<rect x="421.9" y="1156.8" width="3.9" height="54.2" fill="#056a08"/>
<rect x="439.5" y="1156.8" width="3.9" height="54.2" fill="#056a08"/>
<rect x="455.6" y="1156.8" width="3.9" height="54.2" fill="#056a08"/>
<rect x="474.3" y="1156.8" width="3.9" height="54.2" fill="#056a08"/>
<rect x="492.2" y="1156.8" width="3.9" height="54.2" fill="#056a08"/>
<rect x="509.8" y="1156.8" width="3.9" height="54.2" fill="#056a08"/>
<rect x="526.7" y="1156.8" width="3.9" height="54.2" fill="#056a08"/>
<rect x="544.3" y="1156.8" width="3.9" height="54.2" fill="#056a08"/>
<rect x="552.1" y="1156.8" width="3.9" height="54.2" fill="#056a08"/>
<rect x="139.9" y="1232.5" width="1429.6" height="55.0" fill="#dcdcdc"/>
<rect x="141.3" y="1235.3" width="1426.8" height="49.400000000000006" fill="#F2F2F2"/>
<rect x="140.4" y="1232.9" width="3.9" height="54.2" fill="#056a08"/>
<rect x="147.9" y="1232.9" width="3.9" height="54.2" fill="#056a08"/>
<rect x="163.6" y="1232.9" width="3.9" height="54.2" fill="#056a08"/>
<rect x="180.5" y="1232.9" width="3.9" height="54.2" fill="#056a08"/>
<rect x="199.2" y="1232.9" width="3.9" height="54.2" fill="#056a08"/>
<rect x="211.1" y="1232.9" width="3.9" height="54.2" fill="#056a08"/>
<rect x="229.9" y="1232.9" width="3.9" height="54.2" fill="#056a08"/>
<rect x="246.7" y="1232.9" width="3.9" height="54.2" fill="#056a08"/>
<rect x="261.7" y="1232.9" width="3.9" height="54.2" fill="#056a08"/>
<rect x="275.9" y="1232.9" width="3.9" height="54.2" fill="#056a08"/>
<rect x="292.7" y="1232.9" width="3.9" height="54.2" fill="#056a08"/>
<rect x="309.6" y="1232.9" width="3.9" height="54.2" fill="#056a08"/>
<rect x="325.7" y="1232.9" width="3.9" height="54.2" fill="#056a08"/>
<rect x="342.1" y="1232.9" width="3.9" height="54.2" fill="#056a08"/>
<rect x="358.2" y="1232.9" width="3.9" height="54.2" fill="#056a08"/>
<rect x="375.1" y="1232.9" width="3.9" height="54.2" fill="#056a08"/>
<rect x="390.1" y="1232.9" width="3.9" height="54.2" fill="#056a08"/>
<rect x="408.0" y="1232.9" width="3.9" height="54.2" fill="#056a08"/>
<rect x="423.7" y="1232.9" width="3.9" height="54.2" fill="#056a08"/>
<rect x="438.7" y="1232.9" width="3.9" height="54.2" fill="#056a08"/>
<rect x="452.9" y="1232.9" width="3.9" height="54.2" fill="#056a08"/>
<rect x="471.3" y="1232.9" width="3.9" height="54.2" fill="#056a08"/>
<rect x="487.4" y="1232.9" width="3.9" height="54.2" fill="#056a08"/>
<rect x="506.1" y="1232.9" width="3.9" height="54.2" fill="#056a08"/>
<rect x="521.8" y="1232.9" width="3.9" height="54.2" fill="#056a08"/>
<rect x="536.0" y="1232.9" width="3.9" height="54.2" fill="#056a08"/>
<rect x="552.1" y="1232.9" width="3.9" height="54.2" fill="#056a08"/>
<rect x="573.5" y="1232.9" width="3.9" height="54.2" fill="#056a08"/>
<rect x="587.7" y="1232.9" width="3.9" height="54.2" fill="#056a08"/>
<rect x="598.9" y="1232.9" width="3.9" height="54.2" fill="#056a08"/>
<rect x="616.5" y="1232.9" width="3.9" height="54.2" fill="#056a08"/>
<rect x="636.0" y="1232.9" width="3.9" height="54.2" fill="#056a08"/>
<rect x="651.3" y="1232.9" width="3.9" height="54.2" fill="#056a08"/>
<rect x="672.6" y="1232.9" width="3.9" height="54.2" fill="#056a08"/>
<rect x="681.3" y="1232.9" width="3.9" height="54.2" fill="#056a08"/>
<rect x="698.1" y="1232.9" width="3.9" height="54.2" fill="#056a08"/>
<rect x="714.6" y="1232.9" width="3.9" height="54.2" fill="#056a08"/>
<rect x="729.2" y="1232.9" width="3.9" height="54.2" fill="#056a08"/>
<rect x="744.1" y="1232.9" width="3.9" height="54.2" fill="#056a08"/>
<rect x="766.6" y="1232.9" width="3.9" height="54.2" fill="#056a08"/>
<rect x="782.3" y="1232.9" width="3.9" height="54.2" fill="#056a08"/>
<rect x="789.5" y="1232.9" width="4.6" height="54.2" fill="#FFFF00"/>
<rect x="804.0" y="1232.9" width="3.9" height="54.2" fill="#056a08"/>
<rect x="841.5" y="1232.9" width="3.9" height="54.2" fill="#056a08"/>
<rect x="854.2" y="1232.9" width="3.9" height="54.2" fill="#056a08"/>
<rect x="879.6" y="1232.9" width="3.9" height="54.2" fill="#056a08"/>
<rect x="892.7" y="1232.9" width="3.9" height="54.2" fill="#056a08"/>
<rect x="907.0" y="1232.9" width="3.9" height="54.2" fill="#056a08"/>
<rect x="921.6" y="1232.9" width="3.9" height="54.2" fill="#056a08"/>
<rect x="942.1" y="1232.9" width="3.9" height="54.2" fill="#056a08"/>
<rect x="957.1" y="1232.9" width="3.9" height="54.2" fill="#056a08"/>
<rect x="973.2" y="1232.9" width="3.9" height="54.2" fill="#056a08"/>
<rect x="991.2" y="1232.9" width="3.9" height="54.2" fill="#056a08"/>
<rect x="1007.6" y="1232.9" width="3.9" height="54.2" fill="#056a08"/>
<rect x="1023.7" y="1232.9" width="3.9" height="54.2" fill="#056a08"/>
<rect x="1038.0" y="1232.9" width="3.9" height="54.2" fill="#056a08"/>
<rect x="1054.4" y="1232.9" width="3.9" height="54.2" fill="#056a08"/>
<rect x="1070.5" y="1232.9" width="3.9" height="54.2" fill="#056a08"/>
<rect x="1086.2" y="1232.9" width="3.9" height="54.2" fill="#056a08"/>
<rect x="1103.5" y="1232.9" width="3.9" height="54.2" fill="#056a08"/>
<rect x="1119.9" y="1232.9" width="3.9" height="54.2" fill="#056a08"/>
<rect x="1136.0" y="1232.9" width="3.9" height="54.2" fill="#056a08"/>
<rect x="1153.6" y="1232.9" width="3.9" height="54.2" fill="#056a08"/>
<rect x="1169.7" y="1232.9" width="3.9" height="54.2" fill="#056a08"/>
<rect x="1184.7" y="1232.9" width="3.9" height="54.2" fill="#056a08"/>
<rect x="1204.2" y="1232.9" width="3.9" height="54.2" fill="#056a08"/>
<rect x="1216.5" y="1232.9" width="3.9" height="54.2" fill="#056a08"/>
<rect x="1231.5" y="1232.9" width="3.9" height="54.2" fill="#056a08"/>
<rect x="1250.2" y="1232.9" width="3.9" height="54.2" fill="#056a08"/>
<rect x="1267.0" y="1232.9" width="3.9" height="54.2" fill="#056a08"/>
<rect x="1280.1" y="1232.9" width="3.9" height="54.2" fill="#056a08"/>
<rect x="1298.1" y="1232.9" width="3.9" height="54.2" fill="#056a08"/>
<rect x="1314.6" y="1232.9" width="3.9" height="54.2" fill="#056a08"/>
<rect x="1329.9" y="1232.9" width="3.9" height="54.2" fill="#056a08"/>
<rect x="1347.5" y="1232.9" width="3.9" height="54.2" fill="#056a08"/>
<rect x="1364.4" y="1232.9" width="3.9" height="54.2" fill="#056a08"/>
<rect x="1378.6" y="1232.9" width="3.9" height="54.2" fill="#056a08"/>
<rect x="1398.4" y="1232.9" width="3.9" height="54.2" fill="#056a08"/>
<rect x="1410.4" y="1232.9" width="3.9" height="54.2" fill="#056a08"/>
<rect x="1429.9" y="1232.9" width="3.9" height="54.2" fill="#056a08"/>
<rect x="1442.2" y="1232.9" width="3.9" height="54.2" fill="#056a08"/>
<rect x="1459.1" y="1232.9" width="3.9" height="54.2" fill="#056a08"/>
<rect x="1475.9" y="1232.9" width="3.9" height="54.2" fill="#056a08"/>
<rect x="1491.6" y="1232.9" width="3.9" height="54.2" fill="#056a08"/>
<rect x="1508.8" y="1232.9" width="3.9" height="54.2" fill="#056a08"/>
<rect x="1523.8" y="1232.9" width="3.9" height="54.2" fill="#056a08"/>
<rect x="1541.4" y="1232.9" width="3.9" height="54.2" fill="#056a08"/>
<rect x="1558.2" y="1232.9" width="3.9" height="54.2" fill="#056a08"/>
<rect x="1565.0" y="1232.9" width="3.9" height="54.2" fill="#056a08"/>
<rect x="139.9" y="1308.5" width="1007.4" height="55.0" fill="#dcdcdc"/>
<rect x="141.3" y="1311.4" width="1004.6" height="49.400000000000006" fill="#F2F2F2"/>
<rect x="140.4" y="1309.0" width="3.9" height="54.2" fill="#056a08"/>
<rect x="148.6" y="1309.0" width="3.9" height="54.2" fill="#056a08"/>
<rect x="164.4" y="1309.0" width="3.9" height="54.2" fill="#056a08"/>
<rect x="181.2" y="1309.0" width="3.9" height="54.2" fill="#056a08"/>
<rect x="199.2" y="1309.0" width="3.9" height="54.2" fill="#056a08"/>
<rect x="213.4" y="1309.0" width="3.9" height="54.2" fill="#056a08"/>
<rect x="228.0" y="1309.0" width="3.9" height="54.2" fill="#056a08"/>
<rect x="246.7" y="1309.0" width="3.9" height="54.2" fill="#056a08"/>
<rect x="263.5" y="1309.0" width="3.9" height="54.2" fill="#056a08"/>
<rect x="279.6" y="1309.0" width="3.9" height="54.2" fill="#056a08"/>
<rect x="295.4" y="1309.0" width="3.9" height="54.2" fill="#056a08"/>
<rect x="314.1" y="1309.0" width="3.9" height="54.2" fill="#056a08"/>
<rect x="330.2" y="1309.0" width="3.9" height="54.2" fill="#056a08"/>
<rect x="344.4" y="1309.0" width="3.9" height="54.2" fill="#056a08"/>
<rect x="363.9" y="1309.0" width="3.9" height="54.2" fill="#056a08"/>
<rect x="381.4" y="1309.0" width="3.9" height="54.2" fill="#056a08"/>
<rect x="394.9" y="1309.0" width="3.9" height="54.2" fill="#056a08"/>
<rect x="408.8" y="1309.0" width="3.9" height="54.2" fill="#056a08"/>
<rect x="432.4" y="1309.0" width="3.9" height="54.2" fill="#056a08"/>
<rect x="445.1" y="1309.0" width="3.9" height="54.2" fill="#056a08"/>
<rect x="460.0" y="1309.0" width="3.9" height="54.2" fill="#056a08"/>
<rect x="478.8" y="1309.0" width="3.9" height="54.2" fill="#056a08"/>
<rect x="488.5" y="1309.0" width="3.9" height="54.2" fill="#056a08"/>
<rect x="514.7" y="1309.0" width="3.9" height="54.2" fill="#056a08"/>
<rect x="525.9" y="1309.0" width="3.9" height="54.2" fill="#056a08"/>
<rect x="540.9" y="1309.0" width="3.9" height="54.2" fill="#056a08"/>
<rect x="558.5" y="1309.0" width="3.9" height="54.2" fill="#056a08"/>
<rect x="576.1" y="1309.0" width="3.9" height="54.2" fill="#056a08"/>
<rect x="589.6" y="1309.0" width="3.9" height="54.2" fill="#056a08"/>
<rect x="616.5" y="1309.0" width="3.9" height="54.2" fill="#056a08"/>
<rect x="624.0" y="1309.0" width="3.9" height="54.2" fill="#056a08"/>
<rect x="637.1" y="1309.0" width="3.9" height="54.2" fill="#056a08"/>
<rect x="659.5" y="1309.0" width="3.9" height="54.2" fill="#056a08"/>
<rect x="671.9" y="1309.0" width="3.9" height="54.2" fill="#056a08"/>
<rect x="688.4" y="1309.0" width="3.9" height="54.2" fill="#056a08"/>
<rect x="706.3" y="1309.0" width="3.9" height="54.2" fill="#056a08"/>
<rect x="725.0" y="1309.0" width="3.9" height="54.2" fill="#056a08"/>
<rect x="739.3" y="1309.0" width="3.9" height="54.2" fill="#056a08"/>
<rect x="758.0" y="1309.0" width="3.9" height="54.2" fill="#056a08"/>
<rect x="776.7" y="1309.0" width="3.9" height="54.2" fill="#056a08"/>
<rect x="789.8" y="1309.0" width="3.9" height="54.2" fill="#056a08"/>
<rect x="803.7" y="1309.0" width="3.9" height="54.2" fill="#056a08"/>
<rect x="829.9" y="1309.0" width="3.9" height="54.2" fill="#056a08"/>
<rect x="839.2" y="1309.0" width="3.9" height="54.2" fill="#056a08"/>
<rect x="856.1" y="1309.0" width="3.9" height="54.2" fill="#056a08"/>
<rect x="872.2" y="1309.0" width="3.9" height="54.2" fill="#056a08"/>
<rect x="886.0" y="1309.0" width="3.9" height="54.2" fill="#056a08"/>
<rect x="904.7" y="1309.0" width="3.9" height="54.2" fill="#056a08"/>
<rect x="925.3" y="1309.0" width="3.9" height="54.2" fill="#056a08"/>
<rect x="935.8" y="1309.0" width="3.9" height="54.2" fill="#056a08"/>
<rect x="953.4" y="1309.0" width="3.9" height="54.2" fill="#056a08"/>
<rect x="970.2" y="1309.0" width="3.9" height="54.2" fill="#056a08"/>
<rect x="986.3" y="1309.0" width="3.9" height="54.2" fill="#056a08"/>
<rect x="1002.0" y="1309.0" width="3.9" height="54.2" fill="#056a08"/>
<rect x="1019.3" y="1309.0" width="3.9" height="54.2" fill="#056a08"/>
<rect x="1036.8" y="1309.0" width="3.9" height="54.2" fill="#056a08"/>
<rect x="1052.6" y="1309.0" width="3.9" height="54.2" fill="#056a08"/>
<rect x="1069.8" y="1309.0" width="3.9" height="54.2" fill="#056a08"/>
<rect x="1085.5" y="1309.0" width="3.9" height="54.2" fill="#056a08"/>
<rect x="1101.6" y="1309.0" width="3.9" height="54.2" fill="#056a08"/>
<rect x="1117.3" y="1309.0" width="3.9" height="54.2" fill="#056a08"/>
<rect x="1134.9" y="1309.0" width="3.9" height="54.2" fill="#056a08"/>
<rect x="1142.8" y="1309.0" width="3.9" height="54.2" fill="#056a08"/>
<rect x="139.9" y="1384.6" width="1030.6" height="55.0" fill="#dcdcdc"/>
<rect x="141.3" y="1387.4" width="1027.8" height="49.400000000000006" fill="#F2F2F2"/>
<rect x="140.4" y="1385.0" width="3.9" height="54.2" fill="#056a08"/>
<rect x="147.9" y="1385.0" width="3.9" height="54.2" fill="#056a08"/>
<rect x="164.4" y="1385.0" width="3.9" height="54.2" fill="#056a08"/>
<rect x="179.3" y="1385.0" width="3.9" height="54.2" fill="#056a08"/>
<rect x="196.5" y="1385.0" width="3.9" height="54.2" fill="#056a08"/>
<rect x="211.5" y="1385.0" width="3.9" height="54.2" fill="#056a08"/>
<rect x="229.9" y="1385.0" width="3.9" height="54.2" fill="#056a08"/>
<rect x="246.7" y="1385.0" width="3.9" height="54.2" fill="#056a08"/>
<rect x="261.7" y="1385.0" width="3.9" height="54.2" fill="#056a08"/>
<rect x="277.0" y="1385.0" width="3.9" height="54.2" fill="#056a08"/>
<rect x="292.7" y="1385.0" width="3.9" height="54.2" fill="#056a08"/>
<rect x="309.6" y="1385.0" width="3.9" height="54.2" fill="#056a08"/>
<rect x="329.4" y="1385.0" width="3.9" height="54.2" fill="#056a08"/>
<rect x="344.0" y="1385.0" width="3.9" height="54.2" fill="#056a08"/>
<rect x="365.0" y="1385.0" width="3.9" height="54.2" fill="#056a08"/>
<rect x="374.3" y="1385.0" width="3.9" height="54.2" fill="#056a08"/>
<rect x="391.9" y="1385.0" width="3.9" height="54.2" fill="#056a08"/>
<rect x="408.0" y="1385.0" width="3.9" height="54.2" fill="#056a08"/>
<rect x="421.9" y="1385.0" width="3.9" height="54.2" fill="#056a08"/>
<rect x="440.6" y="1385.0" width="3.9" height="54.2" fill="#056a08"/>
<rect x="458.2" y="1385.0" width="3.9" height="54.2" fill="#056a08"/>
<rect x="475.0" y="1385.0" width="3.9" height="54.2" fill="#056a08"/>
<rect x="489.2" y="1385.0" width="3.9" height="54.2" fill="#056a08"/>
<rect x="504.2" y="1385.0" width="3.9" height="54.2" fill="#056a08"/>
<rect x="524.8" y="1385.0" width="3.9" height="54.2" fill="#056a08"/>
<rect x="537.2" y="1385.0" width="3.9" height="54.2" fill="#056a08"/>
<rect x="555.9" y="1385.0" width="3.9" height="54.2" fill="#056a08"/>
<rect x="572.3" y="1385.0" width="3.9" height="54.2" fill="#056a08"/>
<rect x="586.6" y="1385.0" width="3.9" height="54.2" fill="#056a08"/>
<rect x="601.5" y="1385.0" width="3.9" height="54.2" fill="#056a08"/>
<rect x="615.4" y="1385.0" width="4.6" height="54.2" fill="#FFFF00"/>
<rect x="652.8" y="1385.0" width="3.9" height="54.2" fill="#056a08"/>
<rect x="667.8" y="1385.0" width="3.9" height="54.2" fill="#056a08"/>
<rect x="685.7" y="1385.0" width="3.9" height="54.2" fill="#056a08"/>
<rect x="702.6" y="1385.0" width="3.9" height="54.2" fill="#056a08"/>
<rect x="718.3" y="1385.0" width="3.9" height="54.2" fill="#056a08"/>
<rect x="733.7" y="1385.0" width="3.9" height="54.2" fill="#056a08"/>
<rect x="743.8" y="1385.0" width="3.9" height="54.2" fill="#056a08"/>
<rect x="762.9" y="1385.0" width="3.9" height="54.2" fill="#056a08"/>
<rect x="781.6" y="1385.0" width="3.9" height="54.2" fill="#056a08"/>
<rect x="801.8" y="1385.0" width="3.9" height="54.2" fill="#056a08"/>
<rect x="815.3" y="1385.0" width="3.9" height="54.2" fill="#056a08"/>
<rect x="834.7" y="1385.0" width="3.9" height="54.2" fill="#056a08"/>
<rect x="849.7" y="1385.0" width="3.9" height="54.2" fill="#056a08"/>
<rect x="862.7" y="1385.0" width="8.5" height="54.2" fill="#FFFF00"/>
<rect x="872.5" y="1385.0" width="3.9" height="54.2" fill="#056a08"/>
<rect x="913.3" y="1385.0" width="3.9" height="54.2" fill="#056a08"/>
<rect x="929.4" y="1385.0" width="3.9" height="54.2" fill="#056a08"/>
<rect x="945.9" y="1385.0" width="3.9" height="54.2" fill="#056a08"/>
<rect x="962.0" y="1385.0" width="3.9" height="54.2" fill="#056a08"/>
<rect x="978.8" y="1385.0" width="3.9" height="54.2" fill="#056a08"/>
<rect x="994.9" y="1385.0" width="3.9" height="54.2" fill="#056a08"/>
<rect x="1013.3" y="1385.0" width="3.9" height="54.2" fill="#056a08"/>
<rect x="1028.6" y="1385.0" width="3.9" height="54.2" fill="#056a08"/>
<rect x="1046.2" y="1385.0" width="3.9" height="54.2" fill="#056a08"/>
<rect x="1061.2" y="1385.0" width="3.9" height="54.2" fill="#056a08"/>
<rect x="1076.9" y="1385.0" width="3.9" height="54.2" fill="#056a08"/>
<rect x="1093.0" y="1385.0" width="3.9" height="54.2" fill="#056a08"/>
<rect x="1108.7" y="1385.0" width="3.9" height="54.2" fill="#056a08"/>
<rect x="1125.9" y="1385.0" width="3.9" height="54.2" fill="#056a08"/>
<rect x="1142.4" y="1385.0" width="3.9" height="54.2" fill="#056a08"/>
<rect x="1156.6" y="1385.0" width="3.9" height="54.2" fill="#056a08"/>
<rect x="1166.0" y="1385.0" width="3.9" height="54.2" fill="#056a08"/>
<rect x="139.9" y="1460.6" width="570.9" height="55.0" fill="#dcdcdc"/>
<rect x="141.3" y="1463.5" width="568.1" height="49.400000000000006" fill="#F2F2F2"/>
<rect x="140.4" y="1461.0" width="3.9" height="54.2" fill="#056a08"/>
<rect x="148.6" y="1461.0" width="3.9" height="54.2" fill="#056a08"/>
<rect x="164.7" y="1461.0" width="3.9" height="54.2" fill="#056a08"/>
<rect x="181.6" y="1461.0" width="3.9" height="54.2" fill="#056a08"/>
<rect x="199.2" y="1461.0" width="3.9" height="54.2" fill="#056a08"/>
<rect x="214.1" y="1461.0" width="3.9" height="54.2" fill="#056a08"/>
<rect x="232.1" y="1461.0" width="3.9" height="54.2" fill="#056a08"/>
<rect x="248.6" y="1461.0" width="3.9" height="54.2" fill="#056a08"/>
<rect x="264.7" y="1461.0" width="3.9" height="54.2" fill="#056a08"/>
<rect x="281.5" y="1461.0" width="3.9" height="54.2" fill="#056a08"/>
<rect x="298.4" y="1461.0" width="3.9" height="54.2" fill="#056a08"/>
<rect x="314.1" y="1461.0" width="3.9" height="54.2" fill="#056a08"/>
<rect x="328.3" y="1461.0" width="3.9" height="54.2" fill="#056a08"/>
<rect x="351.5" y="1461.0" width="3.9" height="54.2" fill="#056a08"/>
<rect x="364.6" y="1461.0" width="3.9" height="54.2" fill="#056a08"/>
<rect x="382.6" y="1461.0" width="3.9" height="54.2" fill="#056a08"/>
<rect x="397.5" y="1461.0" width="3.9" height="54.2" fill="#056a08"/>
<rect x="415.1" y="1461.0" width="3.9" height="54.2" fill="#056a08"/>
<rect x="432.0" y="1461.0" width="3.9" height="54.2" fill="#056a08"/>
<rect x="448.1" y="1461.0" width="3.9" height="54.2" fill="#056a08"/>
<rect x="460.4" y="1461.0" width="3.9" height="54.2" fill="#056a08"/>
<rect x="480.6" y="1461.0" width="3.9" height="54.2" fill="#056a08"/>
<rect x="501.2" y="1461.0" width="3.9" height="54.2" fill="#056a08"/>
<rect x="516.2" y="1461.0" width="3.9" height="54.2" fill="#056a08"/>
<rect x="531.5" y="1461.0" width="3.9" height="54.2" fill="#056a08"/>
<rect x="546.5" y="1461.0" width="3.9" height="54.2" fill="#056a08"/>
<rect x="564.9" y="1461.0" width="3.9" height="54.2" fill="#056a08"/>
<rect x="580.9" y="1461.0" width="3.9" height="54.2" fill="#056a08"/>
<rect x="597.8" y="1461.0" width="3.9" height="54.2" fill="#056a08"/>
<rect x="615.8" y="1461.0" width="3.9" height="54.2" fill="#056a08"/>
<rect x="631.5" y="1461.0" width="3.9" height="54.2" fill="#056a08"/>
<rect x="648.3" y="1461.0" width="3.9" height="54.2" fill="#056a08"/>
<rect x="665.2" y="1461.0" width="3.9" height="54.2" fill="#056a08"/>
<rect x="681.3" y="1461.0" width="3.9" height="54.2" fill="#056a08"/>
<rect x="697.7" y="1461.0" width="3.9" height="54.2" fill="#056a08"/>
<rect x="706.3" y="1461.0" width="3.9" height="54.2" fill="#056a08"/>
<rect x="139.9" y="1536.7" width="456.0" height="55.0" fill="#dcdcdc"/>
<rect x="141.3" y="1539.5" width="453.2" height="49.400000000000006" fill="#F2F2F2"/>
<rect x="140.4" y="1537.1" width="3.9" height="54.2" fill="#056a08"/>
<rect x="147.9" y="1537.1" width="3.9" height="54.2" fill="#056a08"/>
<rect x="164.7" y="1537.1" width="3.9" height="54.2" fill="#056a08"/>
<rect x="182.3" y="1537.1" width="3.9" height="54.2" fill="#056a08"/>
<rect x="200.3" y="1537.1" width="3.9" height="54.2" fill="#056a08"/>
<rect x="217.9" y="1537.1" width="3.9" height="54.2" fill="#056a08"/>
<rect x="234.7" y="1537.1" width="3.9" height="54.2" fill="#056a08"/>
<rect x="251.6" y="1537.1" width="3.9" height="54.2" fill="#056a08"/>
<rect x="269.5" y="1537.1" width="3.9" height="54.2" fill="#056a08"/>
<rect x="287.1" y="1537.1" width="3.9" height="54.2" fill="#056a08"/>
<rect x="304.0" y="1537.1" width="3.9" height="54.2" fill="#056a08"/>
<rect x="320.8" y="1537.1" width="3.9" height="54.2" fill="#056a08"/>
<rect x="338.4" y="1537.1" width="3.9" height="54.2" fill="#056a08"/>
<rect x="357.1" y="1537.1" width="3.9" height="54.2" fill="#056a08"/>
<rect x="377.0" y="1537.1" width="3.9" height="54.2" fill="#056a08"/>
<rect x="391.2" y="1537.1" width="3.9" height="54.2" fill="#056a08"/>
<rect x="411.4" y="1537.1" width="3.9" height="54.2" fill="#056a08"/>
<rect x="428.6" y="1537.1" width="3.9" height="54.2" fill="#056a08"/>
<rect x="444.3" y="1537.1" width="3.9" height="54.2" fill="#056a08"/>
<rect x="461.2" y="1537.1" width="3.9" height="54.2" fill="#056a08"/>
<rect x="478.0" y="1537.1" width="3.9" height="54.2" fill="#056a08"/>
<rect x="496.7" y="1537.1" width="3.9" height="54.2" fill="#056a08"/>
<rect x="512.4" y="1537.1" width="3.9" height="54.2" fill="#056a08"/>
<rect x="530.4" y="1537.1" width="3.9" height="54.2" fill="#056a08"/>
<rect x="548.0" y="1537.1" width="3.9" height="54.2" fill="#056a08"/>
<rect x="564.9" y="1537.1" width="3.9" height="54.2" fill="#056a08"/>
<rect x="583.6" y="1537.1" width="3.9" height="54.2" fill="#056a08"/>
<rect x="591.4" y="1537.1" width="3.9" height="54.2" fill="#056a08"/>
<rect x="139.9" y="1612.7" width="402.5" height="55.0" fill="#dcdcdc"/>
<rect x="141.3" y="1615.5" width="399.7" height="49.400000000000006" fill="#F2F2F2"/>
<rect x="140.4" y="1613.1" width="3.9" height="54.2" fill="#056a08"/>
<rect x="147.9" y="1613.1" width="3.9" height="54.2" fill="#056a08"/>
<rect x="164.7" y="1613.1" width="3.9" height="54.2" fill="#056a08"/>
<rect x="182.3" y="1613.1" width="3.9" height="54.2" fill="#056a08"/>
<rect x="200.3" y="1613.1" width="3.9" height="54.2" fill="#056a08"/>
<rect x="219.8" y="1613.1" width="3.9" height="54.2" fill="#056a08"/>
<rect x="235.8" y="1613.1" width="3.9" height="54.2" fill="#056a08"/>
<rect x="249.7" y="1613.1" width="3.9" height="54.2" fill="#056a08"/>
<rect x="268.4" y="1613.1" width="3.9" height="54.2" fill="#056a08"/>
<rect x="286.0" y="1613.1" width="3.9" height="54.2" fill="#056a08"/>
<rect x="305.1" y="1613.1" width="3.9" height="54.2" fill="#056a08"/>
<rect x="320.8" y="1613.1" width="3.9" height="54.2" fill="#056a08"/>
<rect x="339.5" y="1613.1" width="3.9" height="54.2" fill="#056a08"/>
<rect x="356.4" y="1613.1" width="3.9" height="54.2" fill="#056a08"/>
<rect x="373.2" y="1613.1" width="3.9" height="54.2" fill="#056a08"/>
<rect x="390.1" y="1613.1" width="3.9" height="54.2" fill="#056a08"/>
<rect x="406.9" y="1613.1" width="3.9" height="54.2" fill="#056a08"/>
<rect x="425.6" y="1613.1" width="3.9" height="54.2" fill="#056a08"/>
<rect x="443.6" y="1613.1" width="3.9" height="54.2" fill="#056a08"/>
<rect x="461.9" y="1613.1" width="3.9" height="54.2" fill="#056a08"/>
<rect x="479.9" y="1613.1" width="3.9" height="54.2" fill="#056a08"/>
<rect x="493.0" y="1613.1" width="3.9" height="54.2" fill="#056a08"/>
<rect x="511.7" y="1613.1" width="3.9" height="54.2" fill="#056a08"/>
<rect x="529.3" y="1613.1" width="3.9" height="54.2" fill="#056a08"/>
<rect x="537.9" y="1613.1" width="3.9" height="54.2" fill="#056a08"/>
</g>
</g>
<rect x="2232" y="838.8" width="69.3" height="59" fill="#F2F2F2"/>
<rect x="2231.2" y="901.00" width="70.6" height="63.15" fill="#006400"/>
<rect x="2231.2" y="963.85" width="70.6" height="63.15" fill="#2E8000"/>
<rect x="2231.2" y="1026.70" width="70.6" height="63.15" fill="#5D9C00"/>
<rect x="2231.2" y="1089.55" width="70.6" height="63.15" fill="#8BB900"/>
<rect x="2231.2" y="1152.40" width="70.6" height="63.15" fill="#B9D500"/>
<rect x="2231.2" y="1215.25" width="70.6" height="63.15" fill="#E8F100"/>
<rect x="2231.2" y="1278.10" width="70.6" height="63.15" fill="#FFE800"/>
<rect x="2231.2" y="1340.95" width="70.6" height="63.15" fill="#FFB900"/>
<rect x="2231.2" y="1403.80" width="70.6" height="63.15" fill="#FF8B00"/>
<rect x="2231.2" y="1466.65" width="70.6" height="63.15" fill="#FF5D00"/>
<rect x="2231.2" y="1529.50" width="70.6" height="63.15" fill="#FF2E00"/>
<rect x="2231.2" y="1592.35" width="70.6" height="70.90" fill="#FF0000"/>
<text class="lg" x="2313.6" y="891.9">0</text>
<text class="lg" x="2313.6" y="955.8">1</text>
<text class="lg" x="2313.6" y="1018.6">3</text>
<text class="lg" x="2313.6" y="1081.5">5</text>
<text class="lg" x="2313.6" y="1144.3">7</text>
<text class="lg" x="2313.6" y="1207.2">9</text>
<text class="lg" x="2313.6" y="1270.0">11</text>
<text class="lg" x="2313.6" y="1332.8">13</text>
<text class="lg" x="2313.6" y="1395.7">15</text>
<text class="lg" x="2313.6" y="1458.5">17</text>
<text class="lg" x="2313.6" y="1521.4">19</text>
<text class="lg" x="2313.6" y="1584.2">21</text>
<text class="lg" x="2313.6" y="1647.1">23</text>
<rect x="2232" y="3139.1000000000004" width="69.3" height="59" fill="#F2F2F2"/>
<rect x="2231.2" y="3201.30" width="70.6" height="63.15" fill="#006400"/>
<rect x="2231.2" y="3264.15" width="70.6" height="63.15" fill="#FFFF00"/>
<rect x="2231.2" y="3327.00" width="70.6" height="70.90" fill="#FF0000"/>
<text class="lg" x="2313.6" y="3191.6">0</text>
<text class="lg" x="2313.6" y="3255.4">1</text>
<text class="lg" x="2313.6" y="3318.3">2</text>
<text class="lg" x="2313.6" y="3381.2">3</text>
</svg></body></html>
